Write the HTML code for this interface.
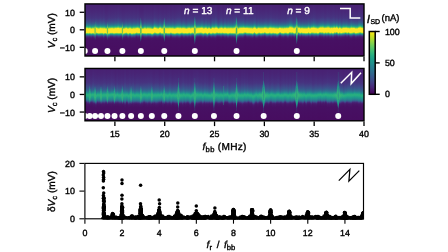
<!DOCTYPE html>
<html><head><meta charset="utf-8"><title>figure</title>
<style>html,body{margin:0;padding:0;background:#fff}svg{display:block}text{font-family:"Liberation Sans",sans-serif;stroke:#000;stroke-width:0.36px;text-rendering:geometricPrecision}</style>
</head><body>
<svg width="448" height="252" viewBox="0 0 448 252">
<defs>
<filter id="nz" x="0" y="0" width="100%" height="100%" color-interpolation-filters="sRGB"><feTurbulence type="fractalNoise" baseFrequency="0.9 0.003" numOctaves="3" seed="7" result="t"/><feColorMatrix in="t" type="matrix" values="0 0 0 0 0.5  0 1 0 0 0  0 0 0 0 0.5  0 0 0 0 1" result="m"/><feDisplacementMap in="SourceGraphic" in2="m" scale="2.4" xChannelSelector="R" yChannelSelector="G"/></filter>
<linearGradient id="g1" gradientUnits="userSpaceOnUse" x1="0" y1="3.90" x2="0" y2="56.00"><stop offset="-0.0058" stop-color="#482173"/><stop offset="0.0787" stop-color="#482475"/><stop offset="0.1555" stop-color="#482979"/><stop offset="0.2131" stop-color="#472e7c"/><stop offset="0.2706" stop-color="#463480"/><stop offset="0.3282" stop-color="#414487"/><stop offset="0.3666" stop-color="#38588c"/><stop offset="0.3954" stop-color="#2e6f8e"/><stop offset="0.4184" stop-color="#228b8d"/><stop offset="0.4376" stop-color="#26ad81"/><stop offset="0.4530" stop-color="#63cb5f"/><stop offset="0.4645" stop-color="#b0dd2f"/><stop offset="0.4760" stop-color="#fde725"/><stop offset="0.5470" stop-color="#fde725"/><stop offset="0.5566" stop-color="#bddf26"/><stop offset="0.5681" stop-color="#58c765"/><stop offset="0.5816" stop-color="#1e9c89"/><stop offset="0.5950" stop-color="#2d718e"/><stop offset="0.6104" stop-color="#3e4989"/><stop offset="0.6276" stop-color="#482878"/><stop offset="0.6507" stop-color="#481769"/><stop offset="0.6929" stop-color="#471063"/><stop offset="0.9923" stop-color="#470d60"/></linearGradient>
<linearGradient id="g2" gradientUnits="userSpaceOnUse" x1="0" y1="68.45" x2="0" y2="120.80"><stop offset="-0.0029" stop-color="#482173"/><stop offset="0.0869" stop-color="#482475"/><stop offset="0.1824" stop-color="#472a7a"/><stop offset="0.2779" stop-color="#463480"/><stop offset="0.3352" stop-color="#414487"/><stop offset="0.3830" stop-color="#3a548c"/><stop offset="0.4212" stop-color="#31678e"/><stop offset="0.4499" stop-color="#287d8e"/><stop offset="0.4728" stop-color="#1f958b"/><stop offset="0.4919" stop-color="#22a884"/><stop offset="0.5072" stop-color="#29af7f"/><stop offset="0.5263" stop-color="#26ad81"/><stop offset="0.5492" stop-color="#1fa188"/><stop offset="0.5740" stop-color="#20928c"/><stop offset="0.5969" stop-color="#26828e"/><stop offset="0.6160" stop-color="#2e6f8e"/><stop offset="0.6313" stop-color="#38588c"/><stop offset="0.6466" stop-color="#443a83"/><stop offset="0.6638" stop-color="#482173"/><stop offset="0.6886" stop-color="#481668"/><stop offset="0.7364" stop-color="#471063"/><stop offset="0.9924" stop-color="#470d60"/></linearGradient>
<linearGradient id="gcb" gradientUnits="userSpaceOnUse" x1="0" y1="31.50" x2="0" y2="94.30"><stop offset="0.0000" stop-color="#fde725"/><stop offset="0.0500" stop-color="#dfe318"/><stop offset="0.1000" stop-color="#bddf26"/><stop offset="0.1500" stop-color="#9bd93c"/><stop offset="0.2000" stop-color="#7ad151"/><stop offset="0.2500" stop-color="#5ec962"/><stop offset="0.3000" stop-color="#44bf70"/><stop offset="0.3500" stop-color="#2fb47c"/><stop offset="0.4000" stop-color="#22a884"/><stop offset="0.4500" stop-color="#1e9c89"/><stop offset="0.5000" stop-color="#21918c"/><stop offset="0.5500" stop-color="#25848e"/><stop offset="0.6000" stop-color="#2a788e"/><stop offset="0.6500" stop-color="#2f6c8e"/><stop offset="0.7000" stop-color="#355f8d"/><stop offset="0.7500" stop-color="#3b528b"/><stop offset="0.8000" stop-color="#414487"/><stop offset="0.8500" stop-color="#463480"/><stop offset="0.9000" stop-color="#482475"/><stop offset="0.9500" stop-color="#471365"/><stop offset="1.0000" stop-color="#440154"/></linearGradient>
<clipPath id="c1"><rect x="85.00" y="3.90" width="279.00" height="52.10"/></clipPath>
<clipPath id="c2"><rect x="85.00" y="68.45" width="279.00" height="52.35"/></clipPath>
<filter id="b1" x="-50%" y="-20%" width="200%" height="140%"><feGaussianBlur stdDeviation="0.45"/></filter>
<linearGradient id="s1" gradientUnits="userSpaceOnUse" x1="0" y1="15.50" x2="0" y2="45.50"><stop offset="0.0000" stop-color="#2a788e" stop-opacity="0.00"/><stop offset="0.0833" stop-color="#21918c" stop-opacity="0.80"/><stop offset="0.2833" stop-color="#22a884" stop-opacity="1.00"/><stop offset="0.4167" stop-color="#9bd93c" stop-opacity="1.00"/><stop offset="0.5833" stop-color="#9bd93c" stop-opacity="1.00"/><stop offset="0.6833" stop-color="#22a884" stop-opacity="1.00"/><stop offset="0.8167" stop-color="#21918c" stop-opacity="0.90"/><stop offset="0.9167" stop-color="#287d8e" stop-opacity="0.70"/><stop offset="1.0000" stop-color="#2f6c8e" stop-opacity="0.00"/></linearGradient>
<linearGradient id="s2" gradientUnits="userSpaceOnUse" x1="0" y1="79.00" x2="0" y2="110.00"><stop offset="0.0000" stop-color="#2c738e" stop-opacity="0.00"/><stop offset="0.0806" stop-color="#25848e" stop-opacity="0.70"/><stop offset="0.2581" stop-color="#1f958b" stop-opacity="0.90"/><stop offset="0.4355" stop-color="#32b67a" stop-opacity="1.00"/><stop offset="0.6290" stop-color="#32b67a" stop-opacity="1.00"/><stop offset="0.7258" stop-color="#20a386" stop-opacity="1.00"/><stop offset="0.8387" stop-color="#21918c" stop-opacity="0.95"/><stop offset="0.9355" stop-color="#287d8e" stop-opacity="0.70"/><stop offset="1.0000" stop-color="#355f8d" stop-opacity="0.00"/></linearGradient>
<radialGradient id="gl2"><stop offset="0" stop-color="#5ec962" stop-opacity="0.55"/><stop offset="0.5" stop-color="#44bf70" stop-opacity="0.25"/><stop offset="1" stop-color="#2fb47c" stop-opacity="0"/></radialGradient>
<linearGradient id="s2s" gradientUnits="userSpaceOnUse" x1="0" y1="84.50" x2="0" y2="105.50"><stop offset="0.0000" stop-color="#2a788e" stop-opacity="0.00"/><stop offset="0.1429" stop-color="#228b8d" stop-opacity="0.55"/><stop offset="0.3333" stop-color="#22a884" stop-opacity="0.90"/><stop offset="0.4667" stop-color="#37b878" stop-opacity="1.00"/><stop offset="0.6429" stop-color="#37b878" stop-opacity="1.00"/><stop offset="0.7619" stop-color="#20a386" stop-opacity="0.90"/><stop offset="0.8810" stop-color="#25848e" stop-opacity="0.60"/><stop offset="1.0000" stop-color="#355f8d" stop-opacity="0.00"/></linearGradient>
<clipPath id="c3"><rect x="84.40" y="163.40" width="279.60" height="55.90"/></clipPath>
</defs>
<rect x="0" y="0" width="448" height="252" fill="#fff"/>
<g clip-path="url(#c1)">
<rect x="85.00" y="3.90" width="279.00" height="52.10" fill="url(#g1)"/>
<rect x="85.00" y="-4.1" width="1.15" height="68.1" fill="url(#g1)" transform="matrix(1 0 0 0.991 0 0.68)"/>
<rect x="86.00" y="-4.1" width="1.15" height="68.1" fill="url(#g1)" transform="matrix(1 0 0 1.025 0 -0.72)"/>
<rect x="87.00" y="-4.1" width="1.15" height="68.1" fill="url(#g1)" transform="matrix(1 0 0 1.025 0 -0.77)"/>
<rect x="88.00" y="-4.1" width="1.15" height="68.1" fill="url(#g1)" transform="matrix(1 0 0 1.007 0 0.00)"/>
<rect x="89.00" y="-4.1" width="1.15" height="68.1" fill="url(#g1)" transform="matrix(1 0 0 1.006 0 -0.17)"/>
<rect x="90.00" y="-4.1" width="1.15" height="68.1" fill="url(#g1)" transform="matrix(1 0 0 1.005 0 -0.00)"/>
<rect x="91.00" y="-4.1" width="1.15" height="68.1" fill="url(#g1)" transform="matrix(1 0 0 0.977 0 1.12)"/>
<rect x="92.00" y="-4.1" width="1.15" height="68.1" fill="url(#g1)" transform="matrix(1 0 0 0.974 0 0.95)"/>
<rect x="93.00" y="-4.1" width="1.15" height="68.1" fill="url(#g1)" transform="matrix(1 0 0 0.997 0 0.33)"/>
<rect x="94.00" y="-4.1" width="1.15" height="68.1" fill="url(#g1)" transform="matrix(1 0 0 0.994 0 0.62)"/>
<rect x="95.00" y="-4.1" width="1.15" height="68.1" fill="url(#g1)" transform="matrix(1 0 0 1.011 0 -0.20)"/>
<rect x="96.00" y="-4.1" width="1.15" height="68.1" fill="url(#g1)" transform="matrix(1 0 0 0.995 0 -0.03)"/>
<rect x="97.00" y="-4.1" width="1.15" height="68.1" fill="url(#g1)" transform="matrix(1 0 0 0.981 0 0.69)"/>
<rect x="98.00" y="-4.1" width="1.15" height="68.1" fill="url(#g1)" transform="matrix(1 0 0 0.990 0 0.64)"/>
<rect x="99.00" y="-4.1" width="1.15" height="68.1" fill="url(#g1)" transform="matrix(1 0 0 1.003 0 0.14)"/>
<rect x="100.00" y="-4.1" width="1.15" height="68.1" fill="url(#g1)" transform="matrix(1 0 0 1.030 0 -0.91)"/>
<rect x="101.00" y="-4.1" width="1.15" height="68.1" fill="url(#g1)" transform="matrix(1 0 0 0.996 0 0.17)"/>
<rect x="102.00" y="-4.1" width="1.15" height="68.1" fill="url(#g1)" transform="matrix(1 0 0 0.991 0 0.36)"/>
<rect x="103.00" y="-4.1" width="1.15" height="68.1" fill="url(#g1)" transform="matrix(1 0 0 1.066 0 -1.70)"/>
<rect x="104.00" y="-4.1" width="1.15" height="68.1" fill="url(#g1)" transform="matrix(1 0 0 1.015 0 -0.32)"/>
<rect x="105.00" y="-4.1" width="1.15" height="68.1" fill="url(#g1)" transform="matrix(1 0 0 0.942 0 1.98)"/>
<rect x="106.00" y="-4.1" width="1.15" height="68.1" fill="url(#g1)" transform="matrix(1 0 0 0.957 0 1.86)"/>
<rect x="107.00" y="-4.1" width="1.15" height="68.1" fill="url(#g1)" transform="matrix(1 0 0 0.971 0 1.33)"/>
<rect x="108.00" y="-4.1" width="1.15" height="68.1" fill="url(#g1)" transform="matrix(1 0 0 1.034 0 -0.58)"/>
<rect x="109.00" y="-4.1" width="1.15" height="68.1" fill="url(#g1)" transform="matrix(1 0 0 1.041 0 -1.00)"/>
<rect x="110.00" y="-4.1" width="1.15" height="68.1" fill="url(#g1)" transform="matrix(1 0 0 0.983 0 0.59)"/>
<rect x="111.00" y="-4.1" width="1.15" height="68.1" fill="url(#g1)" transform="matrix(1 0 0 0.998 0 0.08)"/>
<rect x="112.00" y="-4.1" width="1.15" height="68.1" fill="url(#g1)" transform="matrix(1 0 0 1.001 0 -0.02)"/>
<rect x="113.00" y="-4.1" width="1.15" height="68.1" fill="url(#g1)" transform="matrix(1 0 0 1.013 0 -0.16)"/>
<rect x="114.00" y="-4.1" width="1.15" height="68.1" fill="url(#g1)" transform="matrix(1 0 0 1.036 0 -0.92)"/>
<rect x="115.00" y="-4.1" width="1.15" height="68.1" fill="url(#g1)" transform="matrix(1 0 0 1.042 0 -1.28)"/>
<rect x="116.00" y="-4.1" width="1.15" height="68.1" fill="url(#g1)" transform="matrix(1 0 0 1.018 0 -0.54)"/>
<rect x="117.00" y="-4.1" width="1.15" height="68.1" fill="url(#g1)" transform="matrix(1 0 0 1.059 0 -1.87)"/>
<rect x="118.00" y="-4.1" width="1.15" height="68.1" fill="url(#g1)" transform="matrix(1 0 0 1.096 0 -3.01)"/>
<rect x="119.00" y="-4.1" width="1.15" height="68.1" fill="url(#g1)" transform="matrix(1 0 0 1.037 0 -1.05)"/>
<rect x="120.00" y="-4.1" width="1.15" height="68.1" fill="url(#g1)" transform="matrix(1 0 0 1.015 0 -0.46)"/>
<rect x="121.00" y="-4.1" width="1.15" height="68.1" fill="url(#g1)" transform="matrix(1 0 0 0.981 0 0.63)"/>
<rect x="122.00" y="-4.1" width="1.15" height="68.1" fill="url(#g1)" transform="matrix(1 0 0 0.960 0 1.72)"/>
<rect x="123.00" y="-4.1" width="1.15" height="68.1" fill="url(#g1)" transform="matrix(1 0 0 0.975 0 1.35)"/>
<rect x="124.00" y="-4.1" width="1.15" height="68.1" fill="url(#g1)" transform="matrix(1 0 0 0.977 0 0.98)"/>
<rect x="125.00" y="-4.1" width="1.15" height="68.1" fill="url(#g1)" transform="matrix(1 0 0 0.987 0 0.39)"/>
<rect x="126.00" y="-4.1" width="1.15" height="68.1" fill="url(#g1)" transform="matrix(1 0 0 0.986 0 0.31)"/>
<rect x="127.00" y="-4.1" width="1.15" height="68.1" fill="url(#g1)" transform="matrix(1 0 0 0.995 0 0.49)"/>
<rect x="128.00" y="-4.1" width="1.15" height="68.1" fill="url(#g1)" transform="matrix(1 0 0 1.039 0 -0.74)"/>
<rect x="129.00" y="-4.1" width="1.15" height="68.1" fill="url(#g1)" transform="matrix(1 0 0 1.006 0 -0.12)"/>
<rect x="130.00" y="-4.1" width="1.15" height="68.1" fill="url(#g1)" transform="matrix(1 0 0 1.012 0 -0.28)"/>
<rect x="131.00" y="-4.1" width="1.15" height="68.1" fill="url(#g1)" transform="matrix(1 0 0 1.024 0 -0.17)"/>
<rect x="132.00" y="-4.1" width="1.15" height="68.1" fill="url(#g1)" transform="matrix(1 0 0 1.023 0 -0.16)"/>
<rect x="133.00" y="-4.1" width="1.15" height="68.1" fill="url(#g1)" transform="matrix(1 0 0 1.040 0 -0.93)"/>
<rect x="134.00" y="-4.1" width="1.15" height="68.1" fill="url(#g1)" transform="matrix(1 0 0 1.039 0 -0.87)"/>
<rect x="135.00" y="-4.1" width="1.15" height="68.1" fill="url(#g1)" transform="matrix(1 0 0 1.003 0 0.06)"/>
<rect x="136.00" y="-4.1" width="1.15" height="68.1" fill="url(#g1)" transform="matrix(1 0 0 0.972 0 0.75)"/>
<rect x="137.00" y="-4.1" width="1.15" height="68.1" fill="url(#g1)" transform="matrix(1 0 0 1.034 0 -1.12)"/>
<rect x="138.00" y="-4.1" width="1.15" height="68.1" fill="url(#g1)" transform="matrix(1 0 0 1.021 0 -0.57)"/>
<rect x="139.00" y="-4.1" width="1.15" height="68.1" fill="url(#g1)" transform="matrix(1 0 0 0.934 0 2.24)"/>
<rect x="140.00" y="-4.1" width="1.15" height="68.1" fill="url(#g1)" transform="matrix(1 0 0 0.901 0 3.43)"/>
<rect x="141.00" y="-4.1" width="1.15" height="68.1" fill="url(#g1)" transform="matrix(1 0 0 0.889 0 3.84)"/>
<rect x="142.00" y="-4.1" width="1.15" height="68.1" fill="url(#g1)" transform="matrix(1 0 0 0.884 0 3.88)"/>
<rect x="143.00" y="-4.1" width="1.15" height="68.1" fill="url(#g1)" transform="matrix(1 0 0 0.937 0 2.27)"/>
<rect x="144.00" y="-4.1" width="1.15" height="68.1" fill="url(#g1)" transform="matrix(1 0 0 1.022 0 -0.49)"/>
<rect x="145.00" y="-4.1" width="1.15" height="68.1" fill="url(#g1)" transform="matrix(1 0 0 1.021 0 -0.41)"/>
<rect x="146.00" y="-4.1" width="1.15" height="68.1" fill="url(#g1)" transform="matrix(1 0 0 0.997 0 0.53)"/>
<rect x="147.00" y="-4.1" width="1.15" height="68.1" fill="url(#g1)" transform="matrix(1 0 0 1.005 0 0.01)"/>
<rect x="148.00" y="-4.1" width="1.15" height="68.1" fill="url(#g1)" transform="matrix(1 0 0 0.997 0 0.25)"/>
<rect x="149.00" y="-4.1" width="1.15" height="68.1" fill="url(#g1)" transform="matrix(1 0 0 0.996 0 0.33)"/>
<rect x="150.00" y="-4.1" width="1.15" height="68.1" fill="url(#g1)" transform="matrix(1 0 0 0.991 0 0.57)"/>
<rect x="151.00" y="-4.1" width="1.15" height="68.1" fill="url(#g1)" transform="matrix(1 0 0 1.007 0 0.36)"/>
<rect x="152.00" y="-4.1" width="1.15" height="68.1" fill="url(#g1)" transform="matrix(1 0 0 0.982 0 1.30)"/>
<rect x="153.00" y="-4.1" width="1.15" height="68.1" fill="url(#g1)" transform="matrix(1 0 0 0.996 0 0.39)"/>
<rect x="154.00" y="-4.1" width="1.15" height="68.1" fill="url(#g1)" transform="matrix(1 0 0 1.048 0 -1.83)"/>
<rect x="155.00" y="-4.1" width="1.15" height="68.1" fill="url(#g1)" transform="matrix(1 0 0 1.018 0 -0.76)"/>
<rect x="156.00" y="-4.1" width="1.15" height="68.1" fill="url(#g1)" transform="matrix(1 0 0 1.015 0 -0.40)"/>
<rect x="157.00" y="-4.1" width="1.15" height="68.1" fill="url(#g1)" transform="matrix(1 0 0 1.003 0 0.22)"/>
<rect x="158.00" y="-4.1" width="1.15" height="68.1" fill="url(#g1)" transform="matrix(1 0 0 0.969 0 1.26)"/>
<rect x="159.00" y="-4.1" width="1.15" height="68.1" fill="url(#g1)" transform="matrix(1 0 0 0.990 0 0.12)"/>
<rect x="160.00" y="-4.1" width="1.15" height="68.1" fill="url(#g1)" transform="matrix(1 0 0 0.999 0 -0.25)"/>
<rect x="161.00" y="-4.1" width="1.15" height="68.1" fill="url(#g1)" transform="matrix(1 0 0 0.984 0 0.69)"/>
<rect x="162.00" y="-4.1" width="1.15" height="68.1" fill="url(#g1)" transform="matrix(1 0 0 0.972 0 1.15)"/>
<rect x="163.00" y="-4.1" width="1.15" height="68.1" fill="url(#g1)" transform="matrix(1 0 0 0.969 0 1.22)"/>
<rect x="164.00" y="-4.1" width="1.15" height="68.1" fill="url(#g1)" transform="matrix(1 0 0 1.010 0 -0.09)"/>
<rect x="165.00" y="-4.1" width="1.15" height="68.1" fill="url(#g1)" transform="matrix(1 0 0 0.975 0 0.80)"/>
<rect x="166.00" y="-4.1" width="1.15" height="68.1" fill="url(#g1)" transform="matrix(1 0 0 0.960 0 1.32)"/>
<rect x="167.00" y="-4.1" width="1.15" height="68.1" fill="url(#g1)" transform="matrix(1 0 0 1.003 0 0.12)"/>
<rect x="168.00" y="-4.1" width="1.15" height="68.1" fill="url(#g1)" transform="matrix(1 0 0 1.012 0 -0.17)"/>
<rect x="169.00" y="-4.1" width="1.15" height="68.1" fill="url(#g1)" transform="matrix(1 0 0 1.031 0 -0.79)"/>
<rect x="170.00" y="-4.1" width="1.15" height="68.1" fill="url(#g1)" transform="matrix(1 0 0 0.943 0 1.73)"/>
<rect x="171.00" y="-4.1" width="1.15" height="68.1" fill="url(#g1)" transform="matrix(1 0 0 0.945 0 1.72)"/>
<rect x="172.00" y="-4.1" width="1.15" height="68.1" fill="url(#g1)" transform="matrix(1 0 0 1.023 0 -0.51)"/>
<rect x="173.00" y="-4.1" width="1.15" height="68.1" fill="url(#g1)" transform="matrix(1 0 0 1.009 0 0.04)"/>
<rect x="174.00" y="-4.1" width="1.15" height="68.1" fill="url(#g1)" transform="matrix(1 0 0 0.989 0 0.82)"/>
<rect x="175.00" y="-4.1" width="1.15" height="68.1" fill="url(#g1)" transform="matrix(1 0 0 1.010 0 0.03)"/>
<rect x="176.00" y="-4.1" width="1.15" height="68.1" fill="url(#g1)" transform="matrix(1 0 0 1.011 0 -0.28)"/>
<rect x="177.00" y="-4.1" width="1.15" height="68.1" fill="url(#g1)" transform="matrix(1 0 0 1.036 0 -1.17)"/>
<rect x="178.00" y="-4.1" width="1.15" height="68.1" fill="url(#g1)" transform="matrix(1 0 0 1.060 0 -1.78)"/>
<rect x="179.00" y="-4.1" width="1.15" height="68.1" fill="url(#g1)" transform="matrix(1 0 0 1.068 0 -1.89)"/>
<rect x="180.00" y="-4.1" width="1.15" height="68.1" fill="url(#g1)" transform="matrix(1 0 0 1.034 0 -1.00)"/>
<rect x="181.00" y="-4.1" width="1.15" height="68.1" fill="url(#g1)" transform="matrix(1 0 0 0.936 0 1.97)"/>
<rect x="182.00" y="-4.1" width="1.15" height="68.1" fill="url(#g1)" transform="matrix(1 0 0 0.974 0 0.77)"/>
<rect x="183.00" y="-4.1" width="1.15" height="68.1" fill="url(#g1)" transform="matrix(1 0 0 1.039 0 -1.11)"/>
<rect x="184.00" y="-4.1" width="1.15" height="68.1" fill="url(#g1)" transform="matrix(1 0 0 1.022 0 -0.56)"/>
<rect x="185.00" y="-4.1" width="1.15" height="68.1" fill="url(#g1)" transform="matrix(1 0 0 0.962 0 1.35)"/>
<rect x="186.00" y="-4.1" width="1.15" height="68.1" fill="url(#g1)" transform="matrix(1 0 0 0.950 0 1.86)"/>
<rect x="187.00" y="-4.1" width="1.15" height="68.1" fill="url(#g1)" transform="matrix(1 0 0 1.004 0 0.11)"/>
<rect x="188.00" y="-4.1" width="1.15" height="68.1" fill="url(#g1)" transform="matrix(1 0 0 1.011 0 -0.35)"/>
<rect x="189.00" y="-4.1" width="1.15" height="68.1" fill="url(#g1)" transform="matrix(1 0 0 0.992 0 0.14)"/>
<rect x="190.00" y="-4.1" width="1.15" height="68.1" fill="url(#g1)" transform="matrix(1 0 0 0.993 0 0.44)"/>
<rect x="191.00" y="-4.1" width="1.15" height="68.1" fill="url(#g1)" transform="matrix(1 0 0 0.972 0 0.87)"/>
<rect x="192.00" y="-4.1" width="1.15" height="68.1" fill="url(#g1)" transform="matrix(1 0 0 0.963 0 0.97)"/>
<rect x="193.00" y="-4.1" width="1.15" height="68.1" fill="url(#g1)" transform="matrix(1 0 0 0.951 0 1.51)"/>
<rect x="194.00" y="-4.1" width="1.15" height="68.1" fill="url(#g1)" transform="matrix(1 0 0 1.009 0 -0.43)"/>
<rect x="195.00" y="-4.1" width="1.15" height="68.1" fill="url(#g1)" transform="matrix(1 0 0 1.032 0 -1.11)"/>
<rect x="196.00" y="-4.1" width="1.15" height="68.1" fill="url(#g1)" transform="matrix(1 0 0 1.000 0 0.25)"/>
<rect x="197.00" y="-4.1" width="1.15" height="68.1" fill="url(#g1)" transform="matrix(1 0 0 0.986 0 0.46)"/>
<rect x="198.00" y="-4.1" width="1.15" height="68.1" fill="url(#g1)" transform="matrix(1 0 0 0.994 0 0.13)"/>
<rect x="199.00" y="-4.1" width="1.15" height="68.1" fill="url(#g1)" transform="matrix(1 0 0 0.973 0 0.71)"/>
<rect x="200.00" y="-4.1" width="1.15" height="68.1" fill="url(#g1)" transform="matrix(1 0 0 0.976 0 0.54)"/>
<rect x="201.00" y="-4.1" width="1.15" height="68.1" fill="url(#g1)" transform="matrix(1 0 0 1.022 0 -0.91)"/>
<rect x="202.00" y="-4.1" width="1.15" height="68.1" fill="url(#g1)" transform="matrix(1 0 0 1.052 0 -1.63)"/>
<rect x="203.00" y="-4.1" width="1.15" height="68.1" fill="url(#g1)" transform="matrix(1 0 0 1.020 0 -0.32)"/>
<rect x="204.00" y="-4.1" width="1.15" height="68.1" fill="url(#g1)" transform="matrix(1 0 0 0.969 0 1.04)"/>
<rect x="205.00" y="-4.1" width="1.15" height="68.1" fill="url(#g1)" transform="matrix(1 0 0 1.011 0 -0.44)"/>
<rect x="206.00" y="-4.1" width="1.15" height="68.1" fill="url(#g1)" transform="matrix(1 0 0 1.040 0 -1.10)"/>
<rect x="207.00" y="-4.1" width="1.15" height="68.1" fill="url(#g1)" transform="matrix(1 0 0 1.020 0 -0.04)"/>
<rect x="208.00" y="-4.1" width="1.15" height="68.1" fill="url(#g1)" transform="matrix(1 0 0 0.992 0 0.30)"/>
<rect x="209.00" y="-4.1" width="1.15" height="68.1" fill="url(#g1)" transform="matrix(1 0 0 0.949 0 1.49)"/>
<rect x="210.00" y="-4.1" width="1.15" height="68.1" fill="url(#g1)" transform="matrix(1 0 0 0.926 0 2.78)"/>
<rect x="211.00" y="-4.1" width="1.15" height="68.1" fill="url(#g1)" transform="matrix(1 0 0 0.991 0 0.65)"/>
<rect x="212.00" y="-4.1" width="1.15" height="68.1" fill="url(#g1)" transform="matrix(1 0 0 1.039 0 -1.31)"/>
<rect x="213.00" y="-4.1" width="1.15" height="68.1" fill="url(#g1)" transform="matrix(1 0 0 1.021 0 -0.66)"/>
<rect x="214.00" y="-4.1" width="1.15" height="68.1" fill="url(#g1)" transform="matrix(1 0 0 1.044 0 -1.22)"/>
<rect x="215.00" y="-4.1" width="1.15" height="68.1" fill="url(#g1)" transform="matrix(1 0 0 1.095 0 -3.03)"/>
<rect x="216.00" y="-4.1" width="1.15" height="68.1" fill="url(#g1)" transform="matrix(1 0 0 1.042 0 -1.59)"/>
<rect x="217.00" y="-4.1" width="1.15" height="68.1" fill="url(#g1)" transform="matrix(1 0 0 0.938 0 1.79)"/>
<rect x="218.00" y="-4.1" width="1.15" height="68.1" fill="url(#g1)" transform="matrix(1 0 0 0.895 0 3.43)"/>
<rect x="219.00" y="-4.1" width="1.15" height="68.1" fill="url(#g1)" transform="matrix(1 0 0 0.936 0 1.99)"/>
<rect x="220.00" y="-4.1" width="1.15" height="68.1" fill="url(#g1)" transform="matrix(1 0 0 1.008 0 -0.27)"/>
<rect x="221.00" y="-4.1" width="1.15" height="68.1" fill="url(#g1)" transform="matrix(1 0 0 1.036 0 -1.19)"/>
<rect x="222.00" y="-4.1" width="1.15" height="68.1" fill="url(#g1)" transform="matrix(1 0 0 0.955 0 1.31)"/>
<rect x="223.00" y="-4.1" width="1.15" height="68.1" fill="url(#g1)" transform="matrix(1 0 0 0.942 0 1.92)"/>
<rect x="224.00" y="-4.1" width="1.15" height="68.1" fill="url(#g1)" transform="matrix(1 0 0 1.035 0 -1.08)"/>
<rect x="225.00" y="-4.1" width="1.15" height="68.1" fill="url(#g1)" transform="matrix(1 0 0 1.031 0 -0.99)"/>
<rect x="226.00" y="-4.1" width="1.15" height="68.1" fill="url(#g1)" transform="matrix(1 0 0 0.972 0 0.98)"/>
<rect x="227.00" y="-4.1" width="1.15" height="68.1" fill="url(#g1)" transform="matrix(1 0 0 1.033 0 -0.73)"/>
<rect x="228.00" y="-4.1" width="1.15" height="68.1" fill="url(#g1)" transform="matrix(1 0 0 1.053 0 -1.40)"/>
<rect x="229.00" y="-4.1" width="1.15" height="68.1" fill="url(#g1)" transform="matrix(1 0 0 0.989 0 0.43)"/>
<rect x="230.00" y="-4.1" width="1.15" height="68.1" fill="url(#g1)" transform="matrix(1 0 0 0.997 0 0.12)"/>
<rect x="231.00" y="-4.1" width="1.15" height="68.1" fill="url(#g1)" transform="matrix(1 0 0 1.009 0 -0.17)"/>
<rect x="232.00" y="-4.1" width="1.15" height="68.1" fill="url(#g1)" transform="matrix(1 0 0 0.990 0 0.44)"/>
<rect x="233.00" y="-4.1" width="1.15" height="68.1" fill="url(#g1)" transform="matrix(1 0 0 1.019 0 -0.45)"/>
<rect x="234.00" y="-4.1" width="1.15" height="68.1" fill="url(#g1)" transform="matrix(1 0 0 1.058 0 -1.73)"/>
<rect x="235.00" y="-4.1" width="1.15" height="68.1" fill="url(#g1)" transform="matrix(1 0 0 1.049 0 -1.97)"/>
<rect x="236.00" y="-4.1" width="1.15" height="68.1" fill="url(#g1)" transform="matrix(1 0 0 1.018 0 -0.82)"/>
<rect x="237.00" y="-4.1" width="1.15" height="68.1" fill="url(#g1)" transform="matrix(1 0 0 1.026 0 -0.27)"/>
<rect x="238.00" y="-4.1" width="1.15" height="68.1" fill="url(#g1)" transform="matrix(1 0 0 1.027 0 -0.42)"/>
<rect x="239.00" y="-4.1" width="1.15" height="68.1" fill="url(#g1)" transform="matrix(1 0 0 1.010 0 -0.29)"/>
<rect x="240.00" y="-4.1" width="1.15" height="68.1" fill="url(#g1)" transform="matrix(1 0 0 1.038 0 -1.21)"/>
<rect x="241.00" y="-4.1" width="1.15" height="68.1" fill="url(#g1)" transform="matrix(1 0 0 1.046 0 -1.48)"/>
<rect x="242.00" y="-4.1" width="1.15" height="68.1" fill="url(#g1)" transform="matrix(1 0 0 1.065 0 -2.03)"/>
<rect x="243.00" y="-4.1" width="1.15" height="68.1" fill="url(#g1)" transform="matrix(1 0 0 1.056 0 -1.93)"/>
<rect x="244.00" y="-4.1" width="1.15" height="68.1" fill="url(#g1)" transform="matrix(1 0 0 0.969 0 0.63)"/>
<rect x="245.00" y="-4.1" width="1.15" height="68.1" fill="url(#g1)" transform="matrix(1 0 0 0.929 0 1.88)"/>
<rect x="246.00" y="-4.1" width="1.15" height="68.1" fill="url(#g1)" transform="matrix(1 0 0 1.005 0 -0.31)"/>
<rect x="247.00" y="-4.1" width="1.15" height="68.1" fill="url(#g1)" transform="matrix(1 0 0 1.025 0 -0.83)"/>
<rect x="248.00" y="-4.1" width="1.15" height="68.1" fill="url(#g1)" transform="matrix(1 0 0 1.001 0 -0.05)"/>
<rect x="249.00" y="-4.1" width="1.15" height="68.1" fill="url(#g1)" transform="matrix(1 0 0 0.988 0 0.36)"/>
<rect x="250.00" y="-4.1" width="1.15" height="68.1" fill="url(#g1)" transform="matrix(1 0 0 1.004 0 -0.02)"/>
<rect x="251.00" y="-4.1" width="1.15" height="68.1" fill="url(#g1)" transform="matrix(1 0 0 1.015 0 -0.31)"/>
<rect x="252.00" y="-4.1" width="1.15" height="68.1" fill="url(#g1)" transform="matrix(1 0 0 1.027 0 -0.46)"/>
<rect x="253.00" y="-4.1" width="1.15" height="68.1" fill="url(#g1)" transform="matrix(1 0 0 1.023 0 -0.71)"/>
<rect x="254.00" y="-4.1" width="1.15" height="68.1" fill="url(#g1)" transform="matrix(1 0 0 1.015 0 -0.93)"/>
<rect x="255.00" y="-4.1" width="1.15" height="68.1" fill="url(#g1)" transform="matrix(1 0 0 1.045 0 -1.38)"/>
<rect x="256.00" y="-4.1" width="1.15" height="68.1" fill="url(#g1)" transform="matrix(1 0 0 0.999 0 0.56)"/>
<rect x="257.00" y="-4.1" width="1.15" height="68.1" fill="url(#g1)" transform="matrix(1 0 0 1.009 0 0.04)"/>
<rect x="258.00" y="-4.1" width="1.15" height="68.1" fill="url(#g1)" transform="matrix(1 0 0 1.005 0 -0.25)"/>
<rect x="259.00" y="-4.1" width="1.15" height="68.1" fill="url(#g1)" transform="matrix(1 0 0 0.957 0 1.22)"/>
<rect x="260.00" y="-4.1" width="1.15" height="68.1" fill="url(#g1)" transform="matrix(1 0 0 0.997 0 0.20)"/>
<rect x="261.00" y="-4.1" width="1.15" height="68.1" fill="url(#g1)" transform="matrix(1 0 0 1.002 0 0.04)"/>
<rect x="262.00" y="-4.1" width="1.15" height="68.1" fill="url(#g1)" transform="matrix(1 0 0 0.970 0 0.93)"/>
<rect x="263.00" y="-4.1" width="1.15" height="68.1" fill="url(#g1)" transform="matrix(1 0 0 0.977 0 0.71)"/>
<rect x="264.00" y="-4.1" width="1.15" height="68.1" fill="url(#g1)" transform="matrix(1 0 0 0.966 0 0.68)"/>
<rect x="265.00" y="-4.1" width="1.15" height="68.1" fill="url(#g1)" transform="matrix(1 0 0 1.001 0 -0.27)"/>
<rect x="266.00" y="-4.1" width="1.15" height="68.1" fill="url(#g1)" transform="matrix(1 0 0 1.041 0 -1.20)"/>
<rect x="267.00" y="-4.1" width="1.15" height="68.1" fill="url(#g1)" transform="matrix(1 0 0 1.013 0 -0.18)"/>
<rect x="268.00" y="-4.1" width="1.15" height="68.1" fill="url(#g1)" transform="matrix(1 0 0 0.996 0 0.26)"/>
<rect x="269.00" y="-4.1" width="1.15" height="68.1" fill="url(#g1)" transform="matrix(1 0 0 1.009 0 -0.46)"/>
<rect x="270.00" y="-4.1" width="1.15" height="68.1" fill="url(#g1)" transform="matrix(1 0 0 1.055 0 -1.78)"/>
<rect x="271.00" y="-4.1" width="1.15" height="68.1" fill="url(#g1)" transform="matrix(1 0 0 1.066 0 -1.96)"/>
<rect x="272.00" y="-4.1" width="1.15" height="68.1" fill="url(#g1)" transform="matrix(1 0 0 1.009 0 -0.27)"/>
<rect x="273.00" y="-4.1" width="1.15" height="68.1" fill="url(#g1)" transform="matrix(1 0 0 1.007 0 -0.26)"/>
<rect x="274.00" y="-4.1" width="1.15" height="68.1" fill="url(#g1)" transform="matrix(1 0 0 1.016 0 -0.41)"/>
<rect x="275.00" y="-4.1" width="1.15" height="68.1" fill="url(#g1)" transform="matrix(1 0 0 0.992 0 0.41)"/>
<rect x="276.00" y="-4.1" width="1.15" height="68.1" fill="url(#g1)" transform="matrix(1 0 0 1.042 0 -0.98)"/>
<rect x="277.00" y="-4.1" width="1.15" height="68.1" fill="url(#g1)" transform="matrix(1 0 0 1.036 0 -0.69)"/>
<rect x="278.00" y="-4.1" width="1.15" height="68.1" fill="url(#g1)" transform="matrix(1 0 0 0.978 0 0.89)"/>
<rect x="279.00" y="-4.1" width="1.15" height="68.1" fill="url(#g1)" transform="matrix(1 0 0 0.939 0 1.59)"/>
<rect x="280.00" y="-4.1" width="1.15" height="68.1" fill="url(#g1)" transform="matrix(1 0 0 0.916 0 2.29)"/>
<rect x="281.00" y="-4.1" width="1.15" height="68.1" fill="url(#g1)" transform="matrix(1 0 0 0.976 0 0.80)"/>
<rect x="282.00" y="-4.1" width="1.15" height="68.1" fill="url(#g1)" transform="matrix(1 0 0 0.994 0 0.29)"/>
<rect x="283.00" y="-4.1" width="1.15" height="68.1" fill="url(#g1)" transform="matrix(1 0 0 0.996 0 0.35)"/>
<rect x="284.00" y="-4.1" width="1.15" height="68.1" fill="url(#g1)" transform="matrix(1 0 0 0.985 0 0.46)"/>
<rect x="285.00" y="-4.1" width="1.15" height="68.1" fill="url(#g1)" transform="matrix(1 0 0 0.953 0 1.40)"/>
<rect x="286.00" y="-4.1" width="1.15" height="68.1" fill="url(#g1)" transform="matrix(1 0 0 0.998 0 0.00)"/>
<rect x="287.00" y="-4.1" width="1.15" height="68.1" fill="url(#g1)" transform="matrix(1 0 0 1.053 0 -1.50)"/>
<rect x="288.00" y="-4.1" width="1.15" height="68.1" fill="url(#g1)" transform="matrix(1 0 0 1.051 0 -1.57)"/>
<rect x="289.00" y="-4.1" width="1.15" height="68.1" fill="url(#g1)" transform="matrix(1 0 0 1.045 0 -2.00)"/>
<rect x="290.00" y="-4.1" width="1.15" height="68.1" fill="url(#g1)" transform="matrix(1 0 0 1.073 0 -2.91)"/>
<rect x="291.00" y="-4.1" width="1.15" height="68.1" fill="url(#g1)" transform="matrix(1 0 0 1.069 0 -2.64)"/>
<rect x="292.00" y="-4.1" width="1.15" height="68.1" fill="url(#g1)" transform="matrix(1 0 0 1.003 0 -0.55)"/>
<rect x="293.00" y="-4.1" width="1.15" height="68.1" fill="url(#g1)" transform="matrix(1 0 0 0.974 0 0.80)"/>
<rect x="294.00" y="-4.1" width="1.15" height="68.1" fill="url(#g1)" transform="matrix(1 0 0 1.013 0 -0.25)"/>
<rect x="295.00" y="-4.1" width="1.15" height="68.1" fill="url(#g1)" transform="matrix(1 0 0 1.005 0 -0.57)"/>
<rect x="296.00" y="-4.1" width="1.15" height="68.1" fill="url(#g1)" transform="matrix(1 0 0 1.001 0 -0.20)"/>
<rect x="297.00" y="-4.1" width="1.15" height="68.1" fill="url(#g1)" transform="matrix(1 0 0 0.972 0 0.82)"/>
<rect x="298.00" y="-4.1" width="1.15" height="68.1" fill="url(#g1)" transform="matrix(1 0 0 0.940 0 1.40)"/>
<rect x="299.00" y="-4.1" width="1.15" height="68.1" fill="url(#g1)" transform="matrix(1 0 0 0.993 0 0.03)"/>
<rect x="300.00" y="-4.1" width="1.15" height="68.1" fill="url(#g1)" transform="matrix(1 0 0 0.957 0 1.42)"/>
<rect x="301.00" y="-4.1" width="1.15" height="68.1" fill="url(#g1)" transform="matrix(1 0 0 0.916 0 2.45)"/>
<rect x="302.00" y="-4.1" width="1.15" height="68.1" fill="url(#g1)" transform="matrix(1 0 0 0.972 0 0.88)"/>
<rect x="303.00" y="-4.1" width="1.15" height="68.1" fill="url(#g1)" transform="matrix(1 0 0 0.957 0 1.44)"/>
<rect x="304.00" y="-4.1" width="1.15" height="68.1" fill="url(#g1)" transform="matrix(1 0 0 0.958 0 1.42)"/>
<rect x="305.00" y="-4.1" width="1.15" height="68.1" fill="url(#g1)" transform="matrix(1 0 0 0.981 0 0.78)"/>
<rect x="306.00" y="-4.1" width="1.15" height="68.1" fill="url(#g1)" transform="matrix(1 0 0 0.973 0 1.03)"/>
<rect x="307.00" y="-4.1" width="1.15" height="68.1" fill="url(#g1)" transform="matrix(1 0 0 0.986 0 0.55)"/>
<rect x="308.00" y="-4.1" width="1.15" height="68.1" fill="url(#g1)" transform="matrix(1 0 0 0.998 0 -0.28)"/>
<rect x="309.00" y="-4.1" width="1.15" height="68.1" fill="url(#g1)" transform="matrix(1 0 0 0.991 0 0.34)"/>
<rect x="310.00" y="-4.1" width="1.15" height="68.1" fill="url(#g1)" transform="matrix(1 0 0 0.988 0 0.53)"/>
<rect x="311.00" y="-4.1" width="1.15" height="68.1" fill="url(#g1)" transform="matrix(1 0 0 0.987 0 0.11)"/>
<rect x="312.00" y="-4.1" width="1.15" height="68.1" fill="url(#g1)" transform="matrix(1 0 0 0.999 0 -0.27)"/>
<rect x="313.00" y="-4.1" width="1.15" height="68.1" fill="url(#g1)" transform="matrix(1 0 0 1.056 0 -2.03)"/>
<rect x="314.00" y="-4.1" width="1.15" height="68.1" fill="url(#g1)" transform="matrix(1 0 0 1.047 0 -1.60)"/>
<rect x="315.00" y="-4.1" width="1.15" height="68.1" fill="url(#g1)" transform="matrix(1 0 0 1.009 0 -0.37)"/>
<rect x="316.00" y="-4.1" width="1.15" height="68.1" fill="url(#g1)" transform="matrix(1 0 0 0.975 0 0.74)"/>
<rect x="317.00" y="-4.1" width="1.15" height="68.1" fill="url(#g1)" transform="matrix(1 0 0 0.988 0 0.61)"/>
<rect x="318.00" y="-4.1" width="1.15" height="68.1" fill="url(#g1)" transform="matrix(1 0 0 0.998 0 0.16)"/>
<rect x="319.00" y="-4.1" width="1.15" height="68.1" fill="url(#g1)" transform="matrix(1 0 0 0.961 0 0.80)"/>
<rect x="320.00" y="-4.1" width="1.15" height="68.1" fill="url(#g1)" transform="matrix(1 0 0 0.994 0 -0.39)"/>
<rect x="321.00" y="-4.1" width="1.15" height="68.1" fill="url(#g1)" transform="matrix(1 0 0 1.018 0 -1.05)"/>
<rect x="322.00" y="-4.1" width="1.15" height="68.1" fill="url(#g1)" transform="matrix(1 0 0 1.032 0 -1.55)"/>
<rect x="323.00" y="-4.1" width="1.15" height="68.1" fill="url(#g1)" transform="matrix(1 0 0 1.064 0 -2.26)"/>
<rect x="324.00" y="-4.1" width="1.15" height="68.1" fill="url(#g1)" transform="matrix(1 0 0 1.023 0 -0.81)"/>
<rect x="325.00" y="-4.1" width="1.15" height="68.1" fill="url(#g1)" transform="matrix(1 0 0 0.990 0 -0.00)"/>
<rect x="326.00" y="-4.1" width="1.15" height="68.1" fill="url(#g1)" transform="matrix(1 0 0 1.047 0 -1.67)"/>
<rect x="327.00" y="-4.1" width="1.15" height="68.1" fill="url(#g1)" transform="matrix(1 0 0 1.068 0 -2.50)"/>
<rect x="328.00" y="-4.1" width="1.15" height="68.1" fill="url(#g1)" transform="matrix(1 0 0 1.042 0 -1.85)"/>
<rect x="329.00" y="-4.1" width="1.15" height="68.1" fill="url(#g1)" transform="matrix(1 0 0 1.050 0 -1.76)"/>
<rect x="330.00" y="-4.1" width="1.15" height="68.1" fill="url(#g1)" transform="matrix(1 0 0 1.018 0 -0.51)"/>
<rect x="331.00" y="-4.1" width="1.15" height="68.1" fill="url(#g1)" transform="matrix(1 0 0 1.001 0 -0.19)"/>
<rect x="332.00" y="-4.1" width="1.15" height="68.1" fill="url(#g1)" transform="matrix(1 0 0 1.051 0 -1.52)"/>
<rect x="333.00" y="-4.1" width="1.15" height="68.1" fill="url(#g1)" transform="matrix(1 0 0 1.076 0 -2.42)"/>
<rect x="334.00" y="-4.1" width="1.15" height="68.1" fill="url(#g1)" transform="matrix(1 0 0 1.020 0 -1.10)"/>
<rect x="335.00" y="-4.1" width="1.15" height="68.1" fill="url(#g1)" transform="matrix(1 0 0 0.974 0 0.51)"/>
<rect x="336.00" y="-4.1" width="1.15" height="68.1" fill="url(#g1)" transform="matrix(1 0 0 1.003 0 -0.81)"/>
<rect x="337.00" y="-4.1" width="1.15" height="68.1" fill="url(#g1)" transform="matrix(1 0 0 1.002 0 -0.42)"/>
<rect x="338.00" y="-4.1" width="1.15" height="68.1" fill="url(#g1)" transform="matrix(1 0 0 0.983 0 0.71)"/>
<rect x="339.00" y="-4.1" width="1.15" height="68.1" fill="url(#g1)" transform="matrix(1 0 0 1.007 0 -0.54)"/>
<rect x="340.00" y="-4.1" width="1.15" height="68.1" fill="url(#g1)" transform="matrix(1 0 0 1.008 0 -0.29)"/>
<rect x="341.00" y="-4.1" width="1.15" height="68.1" fill="url(#g1)" transform="matrix(1 0 0 0.946 0 1.87)"/>
<rect x="342.00" y="-4.1" width="1.15" height="68.1" fill="url(#g1)" transform="matrix(1 0 0 0.964 0 1.05)"/>
<rect x="343.00" y="-4.1" width="1.15" height="68.1" fill="url(#g1)" transform="matrix(1 0 0 0.998 0 -0.19)"/>
<rect x="344.00" y="-4.1" width="1.15" height="68.1" fill="url(#g1)" transform="matrix(1 0 0 0.971 0 0.58)"/>
<rect x="345.00" y="-4.1" width="1.15" height="68.1" fill="url(#g1)" transform="matrix(1 0 0 0.943 0 1.30)"/>
<rect x="346.00" y="-4.1" width="1.15" height="68.1" fill="url(#g1)" transform="matrix(1 0 0 0.986 0 0.08)"/>
<rect x="347.00" y="-4.1" width="1.15" height="68.1" fill="url(#g1)" transform="matrix(1 0 0 0.970 0 0.78)"/>
<rect x="348.00" y="-4.1" width="1.15" height="68.1" fill="url(#g1)" transform="matrix(1 0 0 0.902 0 2.73)"/>
<rect x="349.00" y="-4.1" width="1.15" height="68.1" fill="url(#g1)" transform="matrix(1 0 0 0.951 0 1.51)"/>
<rect x="350.00" y="-4.1" width="1.15" height="68.1" fill="url(#g1)" transform="matrix(1 0 0 1.024 0 -0.70)"/>
<rect x="351.00" y="-4.1" width="1.15" height="68.1" fill="url(#g1)" transform="matrix(1 0 0 1.063 0 -2.07)"/>
<rect x="352.00" y="-4.1" width="1.15" height="68.1" fill="url(#g1)" transform="matrix(1 0 0 1.004 0 -0.26)"/>
<rect x="353.00" y="-4.1" width="1.15" height="68.1" fill="url(#g1)" transform="matrix(1 0 0 0.967 0 0.71)"/>
<rect x="354.00" y="-4.1" width="1.15" height="68.1" fill="url(#g1)" transform="matrix(1 0 0 0.958 0 1.07)"/>
<rect x="355.00" y="-4.1" width="1.15" height="68.1" fill="url(#g1)" transform="matrix(1 0 0 0.988 0 0.55)"/>
<rect x="356.00" y="-4.1" width="1.15" height="68.1" fill="url(#g1)" transform="matrix(1 0 0 0.988 0 0.51)"/>
<rect x="357.00" y="-4.1" width="1.15" height="68.1" fill="url(#g1)" transform="matrix(1 0 0 0.960 0 1.28)"/>
<rect x="358.00" y="-4.1" width="1.15" height="68.1" fill="url(#g1)" transform="matrix(1 0 0 1.022 0 -0.92)"/>
<rect x="359.00" y="-4.1" width="1.15" height="68.1" fill="url(#g1)" transform="matrix(1 0 0 1.020 0 -1.15)"/>
<rect x="360.00" y="-4.1" width="1.15" height="68.1" fill="url(#g1)" transform="matrix(1 0 0 1.031 0 -1.58)"/>
<rect x="361.00" y="-4.1" width="1.15" height="68.1" fill="url(#g1)" transform="matrix(1 0 0 1.015 0 -0.74)"/>
<rect x="362.00" y="-4.1" width="1.15" height="68.1" fill="url(#g1)" transform="matrix(1 0 0 0.987 0 0.30)"/>
<rect x="363.00" y="-4.1" width="1.15" height="68.1" fill="url(#g1)" transform="matrix(1 0 0 1.031 0 -0.99)"/>
<path d="M296.80 25.50 Q300.20 30.50 296.80 35.50 Q293.40 30.50 296.80 25.50Z" fill="#ece51b" filter="url(#b1)" opacity="0.60"/>
<path d="M296.80 16.00 Q298.70 30.50 296.80 45.00 Q294.90 30.50 296.80 16.00Z" fill="url(#s1)" filter="url(#b1)" opacity="1.00"/>
<rect x="296.40" y="27.8" width="0.8" height="5.8" fill="#22a884" opacity="0.85" filter="url(#b1)"/>
<path d="M236.55 25.50 Q239.95 30.50 236.55 35.50 Q233.15 30.50 236.55 25.50Z" fill="#ece51b" filter="url(#b1)" opacity="0.60"/>
<path d="M236.55 16.00 Q238.45 30.50 236.55 45.00 Q234.65 30.50 236.55 16.00Z" fill="url(#s1)" filter="url(#b1)" opacity="1.00"/>
<rect x="236.15" y="27.8" width="0.8" height="5.8" fill="#22a884" opacity="0.85" filter="url(#b1)"/>
<path d="M194.84 25.50 Q198.24 30.50 194.84 35.50 Q191.44 30.50 194.84 25.50Z" fill="#ece51b" filter="url(#b1)" opacity="0.60"/>
<path d="M194.84 16.00 Q196.74 30.50 194.84 45.00 Q192.94 30.50 194.84 16.00Z" fill="url(#s1)" filter="url(#b1)" opacity="1.00"/>
<rect x="194.44" y="27.8" width="0.8" height="5.8" fill="#22a884" opacity="0.85" filter="url(#b1)"/>
<path d="M164.25 26.60 Q167.05 30.50 164.25 34.60 Q161.45 30.50 164.25 26.60Z" fill="#ece51b" filter="url(#b1)" opacity="0.60"/>
<path d="M164.25 17.50 Q165.95 30.50 164.25 42.00 Q162.55 30.50 164.25 17.50Z" fill="url(#s1)" filter="url(#b1)" opacity="1.00"/>
<rect x="163.85" y="27.8" width="0.8" height="5.8" fill="#22a884" opacity="0.85" filter="url(#b1)"/>
<path d="M140.86 26.60 Q143.66 30.50 140.86 34.60 Q138.06 30.50 140.86 26.60Z" fill="#ece51b" filter="url(#b1)" opacity="0.60"/>
<path d="M140.86 17.50 Q142.56 30.50 140.86 42.00 Q139.16 30.50 140.86 17.50Z" fill="url(#s1)" filter="url(#b1)" opacity="1.00"/>
<rect x="140.46" y="27.8" width="0.8" height="5.8" fill="#22a884" opacity="0.85" filter="url(#b1)"/>
<path d="M122.39 26.60 Q125.19 30.50 122.39 34.60 Q119.59 30.50 122.39 26.60Z" fill="#ece51b" filter="url(#b1)" opacity="0.40"/>
<path d="M122.39 21.00 Q123.79 30.50 122.39 40.50 Q120.99 30.50 122.39 21.00Z" fill="url(#s1)" filter="url(#b1)" opacity="0.75"/>
<rect x="121.99" y="27.8" width="0.8" height="5.8" fill="#22a884" opacity="0.50" filter="url(#b1)"/>
<path d="M107.44 26.60 Q110.24 30.50 107.44 34.60 Q104.64 30.50 107.44 26.60Z" fill="#ece51b" filter="url(#b1)" opacity="0.40"/>
<path d="M107.44 21.00 Q108.84 30.50 107.44 40.50 Q106.04 30.50 107.44 21.00Z" fill="url(#s1)" filter="url(#b1)" opacity="0.75"/>
<rect x="107.04" y="27.8" width="0.8" height="5.8" fill="#22a884" opacity="0.50" filter="url(#b1)"/>
<path d="M95.09 26.60 Q97.89 30.50 95.09 34.60 Q92.29 30.50 95.09 26.60Z" fill="#ece51b" filter="url(#b1)" opacity="0.40"/>
<path d="M95.09 21.00 Q96.49 30.50 95.09 40.50 Q93.69 30.50 95.09 21.00Z" fill="url(#s1)" filter="url(#b1)" opacity="0.75"/>
<rect x="94.69" y="27.8" width="0.8" height="5.8" fill="#22a884" opacity="0.50" filter="url(#b1)"/>
<path d="M84.72 26.60 Q87.52 30.50 84.72 34.60 Q81.92 30.50 84.72 26.60Z" fill="#ece51b" filter="url(#b1)" opacity="0.40"/>
<path d="M84.72 21.00 Q86.12 30.50 84.72 40.50 Q83.32 30.50 84.72 21.00Z" fill="url(#s1)" filter="url(#b1)" opacity="0.75"/>
<rect x="84.32" y="27.8" width="0.8" height="5.8" fill="#22a884" opacity="0.50" filter="url(#b1)"/>
<circle cx="296.80" cy="50.9" r="3.0" fill="#fff"/>
<circle cx="236.55" cy="50.9" r="3.0" fill="#fff"/>
<circle cx="194.84" cy="50.9" r="3.0" fill="#fff"/>
<circle cx="164.25" cy="50.9" r="3.0" fill="#fff"/>
<circle cx="140.86" cy="50.9" r="3.0" fill="#fff"/>
<circle cx="122.39" cy="50.9" r="3.0" fill="#fff"/>
<circle cx="107.44" cy="50.9" r="3.0" fill="#fff"/>
<circle cx="95.09" cy="50.9" r="3.0" fill="#fff"/>
<circle cx="84.72" cy="50.9" r="3.0" fill="#fff"/>
</g>
<g clip-path="url(#c2)">
<rect x="85.00" y="68.45" width="279.00" height="52.35" fill="url(#g2)"/>
<rect x="85.00" y="60.5" width="1.15" height="68.3" fill="url(#g2)" transform="matrix(1 0 0 0.911 0 8.39)"/>
<rect x="86.00" y="60.5" width="1.15" height="68.3" fill="url(#g2)" transform="matrix(1 0 0 0.956 0 3.76)"/>
<rect x="87.00" y="60.5" width="1.15" height="68.3" fill="url(#g2)" transform="matrix(1 0 0 1.007 0 -0.73)"/>
<rect x="88.00" y="60.5" width="1.15" height="68.3" fill="url(#g2)" transform="matrix(1 0 0 0.996 0 0.31)"/>
<rect x="89.00" y="60.5" width="1.15" height="68.3" fill="url(#g2)" transform="matrix(1 0 0 0.997 0 -0.26)"/>
<rect x="90.00" y="60.5" width="1.15" height="68.3" fill="url(#g2)" transform="matrix(1 0 0 0.960 0 3.77)"/>
<rect x="91.00" y="60.5" width="1.15" height="68.3" fill="url(#g2)" transform="matrix(1 0 0 0.930 0 6.53)"/>
<rect x="92.00" y="60.5" width="1.15" height="68.3" fill="url(#g2)" transform="matrix(1 0 0 1.002 0 -0.63)"/>
<rect x="93.00" y="60.5" width="1.15" height="68.3" fill="url(#g2)" transform="matrix(1 0 0 1.057 0 -5.78)"/>
<rect x="94.00" y="60.5" width="1.15" height="68.3" fill="url(#g2)" transform="matrix(1 0 0 1.008 0 -0.80)"/>
<rect x="95.00" y="60.5" width="1.15" height="68.3" fill="url(#g2)" transform="matrix(1 0 0 1.030 0 -2.34)"/>
<rect x="96.00" y="60.5" width="1.15" height="68.3" fill="url(#g2)" transform="matrix(1 0 0 1.022 0 -1.60)"/>
<rect x="97.00" y="60.5" width="1.15" height="68.3" fill="url(#g2)" transform="matrix(1 0 0 0.959 0 3.71)"/>
<rect x="98.00" y="60.5" width="1.15" height="68.3" fill="url(#g2)" transform="matrix(1 0 0 0.993 0 0.55)"/>
<rect x="99.00" y="60.5" width="1.15" height="68.3" fill="url(#g2)" transform="matrix(1 0 0 0.977 0 2.14)"/>
<rect x="100.00" y="60.5" width="1.15" height="68.3" fill="url(#g2)" transform="matrix(1 0 0 0.958 0 3.90)"/>
<rect x="101.00" y="60.5" width="1.15" height="68.3" fill="url(#g2)" transform="matrix(1 0 0 0.983 0 1.80)"/>
<rect x="102.00" y="60.5" width="1.15" height="68.3" fill="url(#g2)" transform="matrix(1 0 0 0.986 0 1.44)"/>
<rect x="103.00" y="60.5" width="1.15" height="68.3" fill="url(#g2)" transform="matrix(1 0 0 1.012 0 -1.28)"/>
<rect x="104.00" y="60.5" width="1.15" height="68.3" fill="url(#g2)" transform="matrix(1 0 0 1.037 0 -3.66)"/>
<rect x="105.00" y="60.5" width="1.15" height="68.3" fill="url(#g2)" transform="matrix(1 0 0 0.987 0 1.01)"/>
<rect x="106.00" y="60.5" width="1.15" height="68.3" fill="url(#g2)" transform="matrix(1 0 0 0.955 0 4.27)"/>
<rect x="107.00" y="60.5" width="1.15" height="68.3" fill="url(#g2)" transform="matrix(1 0 0 0.987 0 1.05)"/>
<rect x="108.00" y="60.5" width="1.15" height="68.3" fill="url(#g2)" transform="matrix(1 0 0 1.003 0 -0.53)"/>
<rect x="109.00" y="60.5" width="1.15" height="68.3" fill="url(#g2)" transform="matrix(1 0 0 0.979 0 1.93)"/>
<rect x="110.00" y="60.5" width="1.15" height="68.3" fill="url(#g2)" transform="matrix(1 0 0 0.991 0 0.70)"/>
<rect x="111.00" y="60.5" width="1.15" height="68.3" fill="url(#g2)" transform="matrix(1 0 0 1.031 0 -3.33)"/>
<rect x="112.00" y="60.5" width="1.15" height="68.3" fill="url(#g2)" transform="matrix(1 0 0 1.005 0 -0.96)"/>
<rect x="113.00" y="60.5" width="1.15" height="68.3" fill="url(#g2)" transform="matrix(1 0 0 1.004 0 -0.68)"/>
<rect x="114.00" y="60.5" width="1.15" height="68.3" fill="url(#g2)" transform="matrix(1 0 0 0.979 0 1.91)"/>
<rect x="115.00" y="60.5" width="1.15" height="68.3" fill="url(#g2)" transform="matrix(1 0 0 0.919 0 8.10)"/>
<rect x="116.00" y="60.5" width="1.15" height="68.3" fill="url(#g2)" transform="matrix(1 0 0 0.972 0 2.61)"/>
<rect x="117.00" y="60.5" width="1.15" height="68.3" fill="url(#g2)" transform="matrix(1 0 0 0.992 0 0.35)"/>
<rect x="118.00" y="60.5" width="1.15" height="68.3" fill="url(#g2)" transform="matrix(1 0 0 0.954 0 4.47)"/>
<rect x="119.00" y="60.5" width="1.15" height="68.3" fill="url(#g2)" transform="matrix(1 0 0 0.968 0 3.35)"/>
<rect x="120.00" y="60.5" width="1.15" height="68.3" fill="url(#g2)" transform="matrix(1 0 0 0.976 0 2.61)"/>
<rect x="121.00" y="60.5" width="1.15" height="68.3" fill="url(#g2)" transform="matrix(1 0 0 0.991 0 0.77)"/>
<rect x="122.00" y="60.5" width="1.15" height="68.3" fill="url(#g2)" transform="matrix(1 0 0 0.972 0 2.53)"/>
<rect x="123.00" y="60.5" width="1.15" height="68.3" fill="url(#g2)" transform="matrix(1 0 0 0.954 0 4.47)"/>
<rect x="124.00" y="60.5" width="1.15" height="68.3" fill="url(#g2)" transform="matrix(1 0 0 1.070 0 -6.62)"/>
<rect x="125.00" y="60.5" width="1.15" height="68.3" fill="url(#g2)" transform="matrix(1 0 0 1.082 0 -7.72)"/>
<rect x="126.00" y="60.5" width="1.15" height="68.3" fill="url(#g2)" transform="matrix(1 0 0 0.955 0 4.09)"/>
<rect x="127.00" y="60.5" width="1.15" height="68.3" fill="url(#g2)" transform="matrix(1 0 0 0.967 0 3.11)"/>
<rect x="128.00" y="60.5" width="1.15" height="68.3" fill="url(#g2)" transform="matrix(1 0 0 1.029 0 -2.12)"/>
<rect x="129.00" y="60.5" width="1.15" height="68.3" fill="url(#g2)" transform="matrix(1 0 0 1.048 0 -4.39)"/>
<rect x="130.00" y="60.5" width="1.15" height="68.3" fill="url(#g2)" transform="matrix(1 0 0 1.038 0 -3.60)"/>
<rect x="131.00" y="60.5" width="1.15" height="68.3" fill="url(#g2)" transform="matrix(1 0 0 0.987 0 1.33)"/>
<rect x="132.00" y="60.5" width="1.15" height="68.3" fill="url(#g2)" transform="matrix(1 0 0 1.019 0 -1.96)"/>
<rect x="133.00" y="60.5" width="1.15" height="68.3" fill="url(#g2)" transform="matrix(1 0 0 1.053 0 -5.21)"/>
<rect x="134.00" y="60.5" width="1.15" height="68.3" fill="url(#g2)" transform="matrix(1 0 0 0.973 0 2.81)"/>
<rect x="135.00" y="60.5" width="1.15" height="68.3" fill="url(#g2)" transform="matrix(1 0 0 0.974 0 2.64)"/>
<rect x="136.00" y="60.5" width="1.15" height="68.3" fill="url(#g2)" transform="matrix(1 0 0 1.013 0 -1.38)"/>
<rect x="137.00" y="60.5" width="1.15" height="68.3" fill="url(#g2)" transform="matrix(1 0 0 1.022 0 -2.18)"/>
<rect x="138.00" y="60.5" width="1.15" height="68.3" fill="url(#g2)" transform="matrix(1 0 0 1.018 0 -1.69)"/>
<rect x="139.00" y="60.5" width="1.15" height="68.3" fill="url(#g2)" transform="matrix(1 0 0 1.010 0 -0.65)"/>
<rect x="140.00" y="60.5" width="1.15" height="68.3" fill="url(#g2)" transform="matrix(1 0 0 1.025 0 -2.21)"/>
<rect x="141.00" y="60.5" width="1.15" height="68.3" fill="url(#g2)" transform="matrix(1 0 0 1.020 0 -1.89)"/>
<rect x="142.00" y="60.5" width="1.15" height="68.3" fill="url(#g2)" transform="matrix(1 0 0 1.014 0 -1.21)"/>
<rect x="143.00" y="60.5" width="1.15" height="68.3" fill="url(#g2)" transform="matrix(1 0 0 0.989 0 0.72)"/>
<rect x="144.00" y="60.5" width="1.15" height="68.3" fill="url(#g2)" transform="matrix(1 0 0 0.991 0 0.38)"/>
<rect x="145.00" y="60.5" width="1.15" height="68.3" fill="url(#g2)" transform="matrix(1 0 0 1.017 0 -1.78)"/>
<rect x="146.00" y="60.5" width="1.15" height="68.3" fill="url(#g2)" transform="matrix(1 0 0 1.026 0 -2.54)"/>
<rect x="147.00" y="60.5" width="1.15" height="68.3" fill="url(#g2)" transform="matrix(1 0 0 1.051 0 -4.80)"/>
<rect x="148.00" y="60.5" width="1.15" height="68.3" fill="url(#g2)" transform="matrix(1 0 0 1.051 0 -5.21)"/>
<rect x="149.00" y="60.5" width="1.15" height="68.3" fill="url(#g2)" transform="matrix(1 0 0 1.027 0 -2.92)"/>
<rect x="150.00" y="60.5" width="1.15" height="68.3" fill="url(#g2)" transform="matrix(1 0 0 1.068 0 -6.66)"/>
<rect x="151.00" y="60.5" width="1.15" height="68.3" fill="url(#g2)" transform="matrix(1 0 0 1.054 0 -5.59)"/>
<rect x="152.00" y="60.5" width="1.15" height="68.3" fill="url(#g2)" transform="matrix(1 0 0 1.015 0 -1.61)"/>
<rect x="153.00" y="60.5" width="1.15" height="68.3" fill="url(#g2)" transform="matrix(1 0 0 0.998 0 0.41)"/>
<rect x="154.00" y="60.5" width="1.15" height="68.3" fill="url(#g2)" transform="matrix(1 0 0 0.986 0 1.36)"/>
<rect x="155.00" y="60.5" width="1.15" height="68.3" fill="url(#g2)" transform="matrix(1 0 0 1.042 0 -3.98)"/>
<rect x="156.00" y="60.5" width="1.15" height="68.3" fill="url(#g2)" transform="matrix(1 0 0 1.049 0 -4.57)"/>
<rect x="157.00" y="60.5" width="1.15" height="68.3" fill="url(#g2)" transform="matrix(1 0 0 1.044 0 -4.27)"/>
<rect x="158.00" y="60.5" width="1.15" height="68.3" fill="url(#g2)" transform="matrix(1 0 0 1.010 0 -1.12)"/>
<rect x="159.00" y="60.5" width="1.15" height="68.3" fill="url(#g2)" transform="matrix(1 0 0 0.938 0 5.98)"/>
<rect x="160.00" y="60.5" width="1.15" height="68.3" fill="url(#g2)" transform="matrix(1 0 0 0.973 0 2.40)"/>
<rect x="161.00" y="60.5" width="1.15" height="68.3" fill="url(#g2)" transform="matrix(1 0 0 0.973 0 2.00)"/>
<rect x="162.00" y="60.5" width="1.15" height="68.3" fill="url(#g2)" transform="matrix(1 0 0 1.033 0 -2.99)"/>
<rect x="163.00" y="60.5" width="1.15" height="68.3" fill="url(#g2)" transform="matrix(1 0 0 1.098 0 -9.62)"/>
<rect x="164.00" y="60.5" width="1.15" height="68.3" fill="url(#g2)" transform="matrix(1 0 0 1.000 0 -0.44)"/>
<rect x="165.00" y="60.5" width="1.15" height="68.3" fill="url(#g2)" transform="matrix(1 0 0 0.965 0 3.32)"/>
<rect x="166.00" y="60.5" width="1.15" height="68.3" fill="url(#g2)" transform="matrix(1 0 0 0.981 0 1.92)"/>
<rect x="167.00" y="60.5" width="1.15" height="68.3" fill="url(#g2)" transform="matrix(1 0 0 0.996 0 0.79)"/>
<rect x="168.00" y="60.5" width="1.15" height="68.3" fill="url(#g2)" transform="matrix(1 0 0 1.009 0 -0.69)"/>
<rect x="169.00" y="60.5" width="1.15" height="68.3" fill="url(#g2)" transform="matrix(1 0 0 1.022 0 -2.44)"/>
<rect x="170.00" y="60.5" width="1.15" height="68.3" fill="url(#g2)" transform="matrix(1 0 0 1.060 0 -5.73)"/>
<rect x="171.00" y="60.5" width="1.15" height="68.3" fill="url(#g2)" transform="matrix(1 0 0 1.031 0 -2.47)"/>
<rect x="172.00" y="60.5" width="1.15" height="68.3" fill="url(#g2)" transform="matrix(1 0 0 0.965 0 3.48)"/>
<rect x="173.00" y="60.5" width="1.15" height="68.3" fill="url(#g2)" transform="matrix(1 0 0 0.985 0 1.44)"/>
<rect x="174.00" y="60.5" width="1.15" height="68.3" fill="url(#g2)" transform="matrix(1 0 0 1.010 0 -0.81)"/>
<rect x="175.00" y="60.5" width="1.15" height="68.3" fill="url(#g2)" transform="matrix(1 0 0 1.025 0 -2.16)"/>
<rect x="176.00" y="60.5" width="1.15" height="68.3" fill="url(#g2)" transform="matrix(1 0 0 1.025 0 -2.22)"/>
<rect x="177.00" y="60.5" width="1.15" height="68.3" fill="url(#g2)" transform="matrix(1 0 0 1.017 0 -1.30)"/>
<rect x="178.00" y="60.5" width="1.15" height="68.3" fill="url(#g2)" transform="matrix(1 0 0 1.029 0 -2.85)"/>
<rect x="179.00" y="60.5" width="1.15" height="68.3" fill="url(#g2)" transform="matrix(1 0 0 1.004 0 -0.49)"/>
<rect x="180.00" y="60.5" width="1.15" height="68.3" fill="url(#g2)" transform="matrix(1 0 0 0.984 0 1.80)"/>
<rect x="181.00" y="60.5" width="1.15" height="68.3" fill="url(#g2)" transform="matrix(1 0 0 1.007 0 -0.60)"/>
<rect x="182.00" y="60.5" width="1.15" height="68.3" fill="url(#g2)" transform="matrix(1 0 0 1.081 0 -7.56)"/>
<rect x="183.00" y="60.5" width="1.15" height="68.3" fill="url(#g2)" transform="matrix(1 0 0 1.084 0 -8.27)"/>
<rect x="184.00" y="60.5" width="1.15" height="68.3" fill="url(#g2)" transform="matrix(1 0 0 1.018 0 -1.92)"/>
<rect x="185.00" y="60.5" width="1.15" height="68.3" fill="url(#g2)" transform="matrix(1 0 0 1.014 0 -1.07)"/>
<rect x="186.00" y="60.5" width="1.15" height="68.3" fill="url(#g2)" transform="matrix(1 0 0 1.021 0 -2.11)"/>
<rect x="187.00" y="60.5" width="1.15" height="68.3" fill="url(#g2)" transform="matrix(1 0 0 0.971 0 2.65)"/>
<rect x="188.00" y="60.5" width="1.15" height="68.3" fill="url(#g2)" transform="matrix(1 0 0 0.976 0 2.34)"/>
<rect x="189.00" y="60.5" width="1.15" height="68.3" fill="url(#g2)" transform="matrix(1 0 0 1.046 0 -3.99)"/>
<rect x="190.00" y="60.5" width="1.15" height="68.3" fill="url(#g2)" transform="matrix(1 0 0 1.031 0 -2.08)"/>
<rect x="191.00" y="60.5" width="1.15" height="68.3" fill="url(#g2)" transform="matrix(1 0 0 0.964 0 3.89)"/>
<rect x="192.00" y="60.5" width="1.15" height="68.3" fill="url(#g2)" transform="matrix(1 0 0 0.984 0 1.47)"/>
<rect x="193.00" y="60.5" width="1.15" height="68.3" fill="url(#g2)" transform="matrix(1 0 0 1.058 0 -5.79)"/>
<rect x="194.00" y="60.5" width="1.15" height="68.3" fill="url(#g2)" transform="matrix(1 0 0 1.069 0 -6.79)"/>
<rect x="195.00" y="60.5" width="1.15" height="68.3" fill="url(#g2)" transform="matrix(1 0 0 1.049 0 -4.85)"/>
<rect x="196.00" y="60.5" width="1.15" height="68.3" fill="url(#g2)" transform="matrix(1 0 0 1.083 0 -8.21)"/>
<rect x="197.00" y="60.5" width="1.15" height="68.3" fill="url(#g2)" transform="matrix(1 0 0 1.098 0 -9.66)"/>
<rect x="198.00" y="60.5" width="1.15" height="68.3" fill="url(#g2)" transform="matrix(1 0 0 1.058 0 -5.74)"/>
<rect x="199.00" y="60.5" width="1.15" height="68.3" fill="url(#g2)" transform="matrix(1 0 0 1.013 0 -1.36)"/>
<rect x="200.00" y="60.5" width="1.15" height="68.3" fill="url(#g2)" transform="matrix(1 0 0 0.998 0 -0.07)"/>
<rect x="201.00" y="60.5" width="1.15" height="68.3" fill="url(#g2)" transform="matrix(1 0 0 1.001 0 -0.40)"/>
<rect x="202.00" y="60.5" width="1.15" height="68.3" fill="url(#g2)" transform="matrix(1 0 0 1.019 0 -1.46)"/>
<rect x="203.00" y="60.5" width="1.15" height="68.3" fill="url(#g2)" transform="matrix(1 0 0 0.999 0 0.29)"/>
<rect x="204.00" y="60.5" width="1.15" height="68.3" fill="url(#g2)" transform="matrix(1 0 0 1.017 0 -2.07)"/>
<rect x="205.00" y="60.5" width="1.15" height="68.3" fill="url(#g2)" transform="matrix(1 0 0 1.042 0 -4.15)"/>
<rect x="206.00" y="60.5" width="1.15" height="68.3" fill="url(#g2)" transform="matrix(1 0 0 0.994 0 0.63)"/>
<rect x="207.00" y="60.5" width="1.15" height="68.3" fill="url(#g2)" transform="matrix(1 0 0 1.010 0 -0.97)"/>
<rect x="208.00" y="60.5" width="1.15" height="68.3" fill="url(#g2)" transform="matrix(1 0 0 0.969 0 3.25)"/>
<rect x="209.00" y="60.5" width="1.15" height="68.3" fill="url(#g2)" transform="matrix(1 0 0 0.927 0 7.35)"/>
<rect x="210.00" y="60.5" width="1.15" height="68.3" fill="url(#g2)" transform="matrix(1 0 0 0.963 0 3.96)"/>
<rect x="211.00" y="60.5" width="1.15" height="68.3" fill="url(#g2)" transform="matrix(1 0 0 1.004 0 -0.44)"/>
<rect x="212.00" y="60.5" width="1.15" height="68.3" fill="url(#g2)" transform="matrix(1 0 0 1.008 0 -0.77)"/>
<rect x="213.00" y="60.5" width="1.15" height="68.3" fill="url(#g2)" transform="matrix(1 0 0 1.023 0 -2.36)"/>
<rect x="214.00" y="60.5" width="1.15" height="68.3" fill="url(#g2)" transform="matrix(1 0 0 1.024 0 -2.70)"/>
<rect x="215.00" y="60.5" width="1.15" height="68.3" fill="url(#g2)" transform="matrix(1 0 0 1.002 0 -0.30)"/>
<rect x="216.00" y="60.5" width="1.15" height="68.3" fill="url(#g2)" transform="matrix(1 0 0 0.995 0 0.14)"/>
<rect x="217.00" y="60.5" width="1.15" height="68.3" fill="url(#g2)" transform="matrix(1 0 0 1.011 0 -1.16)"/>
<rect x="218.00" y="60.5" width="1.15" height="68.3" fill="url(#g2)" transform="matrix(1 0 0 1.023 0 -2.07)"/>
<rect x="219.00" y="60.5" width="1.15" height="68.3" fill="url(#g2)" transform="matrix(1 0 0 1.007 0 -0.47)"/>
<rect x="220.00" y="60.5" width="1.15" height="68.3" fill="url(#g2)" transform="matrix(1 0 0 1.001 0 -0.15)"/>
<rect x="221.00" y="60.5" width="1.15" height="68.3" fill="url(#g2)" transform="matrix(1 0 0 0.961 0 3.65)"/>
<rect x="222.00" y="60.5" width="1.15" height="68.3" fill="url(#g2)" transform="matrix(1 0 0 0.967 0 3.41)"/>
<rect x="223.00" y="60.5" width="1.15" height="68.3" fill="url(#g2)" transform="matrix(1 0 0 1.022 0 -1.95)"/>
<rect x="224.00" y="60.5" width="1.15" height="68.3" fill="url(#g2)" transform="matrix(1 0 0 1.002 0 -0.44)"/>
<rect x="225.00" y="60.5" width="1.15" height="68.3" fill="url(#g2)" transform="matrix(1 0 0 0.936 0 5.76)"/>
<rect x="226.00" y="60.5" width="1.15" height="68.3" fill="url(#g2)" transform="matrix(1 0 0 0.954 0 4.04)"/>
<rect x="227.00" y="60.5" width="1.15" height="68.3" fill="url(#g2)" transform="matrix(1 0 0 1.012 0 -1.84)"/>
<rect x="228.00" y="60.5" width="1.15" height="68.3" fill="url(#g2)" transform="matrix(1 0 0 0.993 0 0.89)"/>
<rect x="229.00" y="60.5" width="1.15" height="68.3" fill="url(#g2)" transform="matrix(1 0 0 0.960 0 4.65)"/>
<rect x="230.00" y="60.5" width="1.15" height="68.3" fill="url(#g2)" transform="matrix(1 0 0 0.991 0 1.40)"/>
<rect x="231.00" y="60.5" width="1.15" height="68.3" fill="url(#g2)" transform="matrix(1 0 0 0.996 0 0.62)"/>
<rect x="232.00" y="60.5" width="1.15" height="68.3" fill="url(#g2)" transform="matrix(1 0 0 0.999 0 0.16)"/>
<rect x="233.00" y="60.5" width="1.15" height="68.3" fill="url(#g2)" transform="matrix(1 0 0 1.037 0 -3.25)"/>
<rect x="234.00" y="60.5" width="1.15" height="68.3" fill="url(#g2)" transform="matrix(1 0 0 1.030 0 -2.64)"/>
<rect x="235.00" y="60.5" width="1.15" height="68.3" fill="url(#g2)" transform="matrix(1 0 0 0.999 0 0.22)"/>
<rect x="236.00" y="60.5" width="1.15" height="68.3" fill="url(#g2)" transform="matrix(1 0 0 1.018 0 -1.72)"/>
<rect x="237.00" y="60.5" width="1.15" height="68.3" fill="url(#g2)" transform="matrix(1 0 0 1.018 0 -2.13)"/>
<rect x="238.00" y="60.5" width="1.15" height="68.3" fill="url(#g2)" transform="matrix(1 0 0 0.975 0 2.14)"/>
<rect x="239.00" y="60.5" width="1.15" height="68.3" fill="url(#g2)" transform="matrix(1 0 0 0.951 0 4.90)"/>
<rect x="240.00" y="60.5" width="1.15" height="68.3" fill="url(#g2)" transform="matrix(1 0 0 0.947 0 5.39)"/>
<rect x="241.00" y="60.5" width="1.15" height="68.3" fill="url(#g2)" transform="matrix(1 0 0 1.020 0 -1.74)"/>
<rect x="242.00" y="60.5" width="1.15" height="68.3" fill="url(#g2)" transform="matrix(1 0 0 1.047 0 -4.17)"/>
<rect x="243.00" y="60.5" width="1.15" height="68.3" fill="url(#g2)" transform="matrix(1 0 0 1.013 0 -1.02)"/>
<rect x="244.00" y="60.5" width="1.15" height="68.3" fill="url(#g2)" transform="matrix(1 0 0 1.032 0 -3.42)"/>
<rect x="245.00" y="60.5" width="1.15" height="68.3" fill="url(#g2)" transform="matrix(1 0 0 0.994 0 0.47)"/>
<rect x="246.00" y="60.5" width="1.15" height="68.3" fill="url(#g2)" transform="matrix(1 0 0 0.992 0 0.83)"/>
<rect x="247.00" y="60.5" width="1.15" height="68.3" fill="url(#g2)" transform="matrix(1 0 0 1.002 0 -0.49)"/>
<rect x="248.00" y="60.5" width="1.15" height="68.3" fill="url(#g2)" transform="matrix(1 0 0 0.934 0 6.11)"/>
<rect x="249.00" y="60.5" width="1.15" height="68.3" fill="url(#g2)" transform="matrix(1 0 0 0.942 0 5.67)"/>
<rect x="250.00" y="60.5" width="1.15" height="68.3" fill="url(#g2)" transform="matrix(1 0 0 0.968 0 3.27)"/>
<rect x="251.00" y="60.5" width="1.15" height="68.3" fill="url(#g2)" transform="matrix(1 0 0 0.965 0 3.52)"/>
<rect x="252.00" y="60.5" width="1.15" height="68.3" fill="url(#g2)" transform="matrix(1 0 0 1.000 0 0.89)"/>
<rect x="253.00" y="60.5" width="1.15" height="68.3" fill="url(#g2)" transform="matrix(1 0 0 1.066 0 -5.31)"/>
<rect x="254.00" y="60.5" width="1.15" height="68.3" fill="url(#g2)" transform="matrix(1 0 0 1.045 0 -3.81)"/>
<rect x="255.00" y="60.5" width="1.15" height="68.3" fill="url(#g2)" transform="matrix(1 0 0 0.984 0 1.49)"/>
<rect x="256.00" y="60.5" width="1.15" height="68.3" fill="url(#g2)" transform="matrix(1 0 0 1.005 0 -0.81)"/>
<rect x="257.00" y="60.5" width="1.15" height="68.3" fill="url(#g2)" transform="matrix(1 0 0 1.014 0 -1.11)"/>
<rect x="258.00" y="60.5" width="1.15" height="68.3" fill="url(#g2)" transform="matrix(1 0 0 1.001 0 0.01)"/>
<rect x="259.00" y="60.5" width="1.15" height="68.3" fill="url(#g2)" transform="matrix(1 0 0 0.969 0 2.72)"/>
<rect x="260.00" y="60.5" width="1.15" height="68.3" fill="url(#g2)" transform="matrix(1 0 0 0.949 0 4.78)"/>
<rect x="261.00" y="60.5" width="1.15" height="68.3" fill="url(#g2)" transform="matrix(1 0 0 0.971 0 2.74)"/>
<rect x="262.00" y="60.5" width="1.15" height="68.3" fill="url(#g2)" transform="matrix(1 0 0 0.966 0 3.03)"/>
<rect x="263.00" y="60.5" width="1.15" height="68.3" fill="url(#g2)" transform="matrix(1 0 0 0.955 0 4.45)"/>
<rect x="264.00" y="60.5" width="1.15" height="68.3" fill="url(#g2)" transform="matrix(1 0 0 0.952 0 5.04)"/>
<rect x="265.00" y="60.5" width="1.15" height="68.3" fill="url(#g2)" transform="matrix(1 0 0 0.997 0 0.62)"/>
<rect x="266.00" y="60.5" width="1.15" height="68.3" fill="url(#g2)" transform="matrix(1 0 0 0.991 0 0.86)"/>
<rect x="267.00" y="60.5" width="1.15" height="68.3" fill="url(#g2)" transform="matrix(1 0 0 1.010 0 -0.95)"/>
<rect x="268.00" y="60.5" width="1.15" height="68.3" fill="url(#g2)" transform="matrix(1 0 0 1.033 0 -2.89)"/>
<rect x="269.00" y="60.5" width="1.15" height="68.3" fill="url(#g2)" transform="matrix(1 0 0 0.959 0 4.19)"/>
<rect x="270.00" y="60.5" width="1.15" height="68.3" fill="url(#g2)" transform="matrix(1 0 0 0.944 0 5.18)"/>
<rect x="271.00" y="60.5" width="1.15" height="68.3" fill="url(#g2)" transform="matrix(1 0 0 0.990 0 0.61)"/>
<rect x="272.00" y="60.5" width="1.15" height="68.3" fill="url(#g2)" transform="matrix(1 0 0 1.045 0 -4.31)"/>
<rect x="273.00" y="60.5" width="1.15" height="68.3" fill="url(#g2)" transform="matrix(1 0 0 1.004 0 -0.23)"/>
<rect x="274.00" y="60.5" width="1.15" height="68.3" fill="url(#g2)" transform="matrix(1 0 0 0.987 0 1.54)"/>
<rect x="275.00" y="60.5" width="1.15" height="68.3" fill="url(#g2)" transform="matrix(1 0 0 1.005 0 -0.10)"/>
<rect x="276.00" y="60.5" width="1.15" height="68.3" fill="url(#g2)" transform="matrix(1 0 0 0.990 0 0.86)"/>
<rect x="277.00" y="60.5" width="1.15" height="68.3" fill="url(#g2)" transform="matrix(1 0 0 0.998 0 -0.14)"/>
<rect x="278.00" y="60.5" width="1.15" height="68.3" fill="url(#g2)" transform="matrix(1 0 0 1.023 0 -2.56)"/>
<rect x="279.00" y="60.5" width="1.15" height="68.3" fill="url(#g2)" transform="matrix(1 0 0 0.971 0 2.86)"/>
<rect x="280.00" y="60.5" width="1.15" height="68.3" fill="url(#g2)" transform="matrix(1 0 0 0.896 0 10.28)"/>
<rect x="281.00" y="60.5" width="1.15" height="68.3" fill="url(#g2)" transform="matrix(1 0 0 0.949 0 4.97)"/>
<rect x="282.00" y="60.5" width="1.15" height="68.3" fill="url(#g2)" transform="matrix(1 0 0 1.003 0 -0.01)"/>
<rect x="283.00" y="60.5" width="1.15" height="68.3" fill="url(#g2)" transform="matrix(1 0 0 1.015 0 -1.33)"/>
<rect x="284.00" y="60.5" width="1.15" height="68.3" fill="url(#g2)" transform="matrix(1 0 0 0.974 0 2.15)"/>
<rect x="285.00" y="60.5" width="1.15" height="68.3" fill="url(#g2)" transform="matrix(1 0 0 0.933 0 6.12)"/>
<rect x="286.00" y="60.5" width="1.15" height="68.3" fill="url(#g2)" transform="matrix(1 0 0 1.014 0 -1.44)"/>
<rect x="287.00" y="60.5" width="1.15" height="68.3" fill="url(#g2)" transform="matrix(1 0 0 1.006 0 -0.29)"/>
<rect x="288.00" y="60.5" width="1.15" height="68.3" fill="url(#g2)" transform="matrix(1 0 0 0.976 0 2.72)"/>
<rect x="289.00" y="60.5" width="1.15" height="68.3" fill="url(#g2)" transform="matrix(1 0 0 0.989 0 0.99)"/>
<rect x="290.00" y="60.5" width="1.15" height="68.3" fill="url(#g2)" transform="matrix(1 0 0 0.970 0 2.78)"/>
<rect x="291.00" y="60.5" width="1.15" height="68.3" fill="url(#g2)" transform="matrix(1 0 0 0.955 0 4.53)"/>
<rect x="292.00" y="60.5" width="1.15" height="68.3" fill="url(#g2)" transform="matrix(1 0 0 0.995 0 0.39)"/>
<rect x="293.00" y="60.5" width="1.15" height="68.3" fill="url(#g2)" transform="matrix(1 0 0 0.982 0 1.49)"/>
<rect x="294.00" y="60.5" width="1.15" height="68.3" fill="url(#g2)" transform="matrix(1 0 0 0.922 0 7.02)"/>
<rect x="295.00" y="60.5" width="1.15" height="68.3" fill="url(#g2)" transform="matrix(1 0 0 0.947 0 4.74)"/>
<rect x="296.00" y="60.5" width="1.15" height="68.3" fill="url(#g2)" transform="matrix(1 0 0 1.007 0 -0.63)"/>
<rect x="297.00" y="60.5" width="1.15" height="68.3" fill="url(#g2)" transform="matrix(1 0 0 1.037 0 -3.85)"/>
<rect x="298.00" y="60.5" width="1.15" height="68.3" fill="url(#g2)" transform="matrix(1 0 0 1.024 0 -2.74)"/>
<rect x="299.00" y="60.5" width="1.15" height="68.3" fill="url(#g2)" transform="matrix(1 0 0 1.017 0 -1.67)"/>
<rect x="300.00" y="60.5" width="1.15" height="68.3" fill="url(#g2)" transform="matrix(1 0 0 1.005 0 -0.58)"/>
<rect x="301.00" y="60.5" width="1.15" height="68.3" fill="url(#g2)" transform="matrix(1 0 0 1.018 0 -1.79)"/>
<rect x="302.00" y="60.5" width="1.15" height="68.3" fill="url(#g2)" transform="matrix(1 0 0 1.051 0 -4.71)"/>
<rect x="303.00" y="60.5" width="1.15" height="68.3" fill="url(#g2)" transform="matrix(1 0 0 1.045 0 -4.34)"/>
<rect x="304.00" y="60.5" width="1.15" height="68.3" fill="url(#g2)" transform="matrix(1 0 0 0.969 0 2.69)"/>
<rect x="305.00" y="60.5" width="1.15" height="68.3" fill="url(#g2)" transform="matrix(1 0 0 0.992 0 1.13)"/>
<rect x="306.00" y="60.5" width="1.15" height="68.3" fill="url(#g2)" transform="matrix(1 0 0 1.031 0 -2.53)"/>
<rect x="307.00" y="60.5" width="1.15" height="68.3" fill="url(#g2)" transform="matrix(1 0 0 0.975 0 2.27)"/>
<rect x="308.00" y="60.5" width="1.15" height="68.3" fill="url(#g2)" transform="matrix(1 0 0 0.968 0 2.91)"/>
<rect x="309.00" y="60.5" width="1.15" height="68.3" fill="url(#g2)" transform="matrix(1 0 0 0.971 0 2.52)"/>
<rect x="310.00" y="60.5" width="1.15" height="68.3" fill="url(#g2)" transform="matrix(1 0 0 1.028 0 -2.68)"/>
<rect x="311.00" y="60.5" width="1.15" height="68.3" fill="url(#g2)" transform="matrix(1 0 0 1.044 0 -3.87)"/>
<rect x="312.00" y="60.5" width="1.15" height="68.3" fill="url(#g2)" transform="matrix(1 0 0 0.941 0 5.89)"/>
<rect x="313.00" y="60.5" width="1.15" height="68.3" fill="url(#g2)" transform="matrix(1 0 0 0.958 0 4.44)"/>
<rect x="314.00" y="60.5" width="1.15" height="68.3" fill="url(#g2)" transform="matrix(1 0 0 0.987 0 1.51)"/>
<rect x="315.00" y="60.5" width="1.15" height="68.3" fill="url(#g2)" transform="matrix(1 0 0 1.011 0 -0.83)"/>
<rect x="316.00" y="60.5" width="1.15" height="68.3" fill="url(#g2)" transform="matrix(1 0 0 1.036 0 -3.17)"/>
<rect x="317.00" y="60.5" width="1.15" height="68.3" fill="url(#g2)" transform="matrix(1 0 0 0.959 0 3.83)"/>
<rect x="318.00" y="60.5" width="1.15" height="68.3" fill="url(#g2)" transform="matrix(1 0 0 0.943 0 5.11)"/>
<rect x="319.00" y="60.5" width="1.15" height="68.3" fill="url(#g2)" transform="matrix(1 0 0 0.960 0 3.51)"/>
<rect x="320.00" y="60.5" width="1.15" height="68.3" fill="url(#g2)" transform="matrix(1 0 0 0.954 0 3.83)"/>
<rect x="321.00" y="60.5" width="1.15" height="68.3" fill="url(#g2)" transform="matrix(1 0 0 0.965 0 3.21)"/>
<rect x="322.00" y="60.5" width="1.15" height="68.3" fill="url(#g2)" transform="matrix(1 0 0 0.934 0 6.35)"/>
<rect x="323.00" y="60.5" width="1.15" height="68.3" fill="url(#g2)" transform="matrix(1 0 0 0.955 0 3.98)"/>
<rect x="324.00" y="60.5" width="1.15" height="68.3" fill="url(#g2)" transform="matrix(1 0 0 0.983 0 1.35)"/>
<rect x="325.00" y="60.5" width="1.15" height="68.3" fill="url(#g2)" transform="matrix(1 0 0 0.956 0 3.57)"/>
<rect x="326.00" y="60.5" width="1.15" height="68.3" fill="url(#g2)" transform="matrix(1 0 0 0.996 0 -0.07)"/>
<rect x="327.00" y="60.5" width="1.15" height="68.3" fill="url(#g2)" transform="matrix(1 0 0 1.066 0 -6.40)"/>
<rect x="328.00" y="60.5" width="1.15" height="68.3" fill="url(#g2)" transform="matrix(1 0 0 1.032 0 -3.12)"/>
<rect x="329.00" y="60.5" width="1.15" height="68.3" fill="url(#g2)" transform="matrix(1 0 0 1.030 0 -2.75)"/>
<rect x="330.00" y="60.5" width="1.15" height="68.3" fill="url(#g2)" transform="matrix(1 0 0 0.994 0 0.57)"/>
<rect x="331.00" y="60.5" width="1.15" height="68.3" fill="url(#g2)" transform="matrix(1 0 0 0.963 0 3.52)"/>
<rect x="332.00" y="60.5" width="1.15" height="68.3" fill="url(#g2)" transform="matrix(1 0 0 1.000 0 0.22)"/>
<rect x="333.00" y="60.5" width="1.15" height="68.3" fill="url(#g2)" transform="matrix(1 0 0 0.984 0 1.60)"/>
<rect x="334.00" y="60.5" width="1.15" height="68.3" fill="url(#g2)" transform="matrix(1 0 0 0.973 0 2.41)"/>
<rect x="335.00" y="60.5" width="1.15" height="68.3" fill="url(#g2)" transform="matrix(1 0 0 0.960 0 3.82)"/>
<rect x="336.00" y="60.5" width="1.15" height="68.3" fill="url(#g2)" transform="matrix(1 0 0 0.977 0 2.29)"/>
<rect x="337.00" y="60.5" width="1.15" height="68.3" fill="url(#g2)" transform="matrix(1 0 0 0.983 0 1.62)"/>
<rect x="338.00" y="60.5" width="1.15" height="68.3" fill="url(#g2)" transform="matrix(1 0 0 1.002 0 -0.59)"/>
<rect x="339.00" y="60.5" width="1.15" height="68.3" fill="url(#g2)" transform="matrix(1 0 0 1.068 0 -6.99)"/>
<rect x="340.00" y="60.5" width="1.15" height="68.3" fill="url(#g2)" transform="matrix(1 0 0 1.042 0 -3.96)"/>
<rect x="341.00" y="60.5" width="1.15" height="68.3" fill="url(#g2)" transform="matrix(1 0 0 0.980 0 1.93)"/>
<rect x="342.00" y="60.5" width="1.15" height="68.3" fill="url(#g2)" transform="matrix(1 0 0 0.952 0 4.58)"/>
<rect x="343.00" y="60.5" width="1.15" height="68.3" fill="url(#g2)" transform="matrix(1 0 0 0.893 0 10.63)"/>
<rect x="344.00" y="60.5" width="1.15" height="68.3" fill="url(#g2)" transform="matrix(1 0 0 0.972 0 3.08)"/>
<rect x="345.00" y="60.5" width="1.15" height="68.3" fill="url(#g2)" transform="matrix(1 0 0 1.002 0 -0.00)"/>
<rect x="346.00" y="60.5" width="1.15" height="68.3" fill="url(#g2)" transform="matrix(1 0 0 0.948 0 4.92)"/>
<rect x="347.00" y="60.5" width="1.15" height="68.3" fill="url(#g2)" transform="matrix(1 0 0 0.982 0 1.40)"/>
<rect x="348.00" y="60.5" width="1.15" height="68.3" fill="url(#g2)" transform="matrix(1 0 0 1.023 0 -2.49)"/>
<rect x="349.00" y="60.5" width="1.15" height="68.3" fill="url(#g2)" transform="matrix(1 0 0 1.031 0 -3.22)"/>
<rect x="350.00" y="60.5" width="1.15" height="68.3" fill="url(#g2)" transform="matrix(1 0 0 1.055 0 -5.41)"/>
<rect x="351.00" y="60.5" width="1.15" height="68.3" fill="url(#g2)" transform="matrix(1 0 0 1.042 0 -4.20)"/>
<rect x="352.00" y="60.5" width="1.15" height="68.3" fill="url(#g2)" transform="matrix(1 0 0 0.950 0 4.58)"/>
<rect x="353.00" y="60.5" width="1.15" height="68.3" fill="url(#g2)" transform="matrix(1 0 0 0.958 0 3.72)"/>
<rect x="354.00" y="60.5" width="1.15" height="68.3" fill="url(#g2)" transform="matrix(1 0 0 1.006 0 -1.22)"/>
<rect x="355.00" y="60.5" width="1.15" height="68.3" fill="url(#g2)" transform="matrix(1 0 0 0.983 0 1.22)"/>
<rect x="356.00" y="60.5" width="1.15" height="68.3" fill="url(#g2)" transform="matrix(1 0 0 0.971 0 2.41)"/>
<rect x="357.00" y="60.5" width="1.15" height="68.3" fill="url(#g2)" transform="matrix(1 0 0 0.977 0 1.86)"/>
<rect x="358.00" y="60.5" width="1.15" height="68.3" fill="url(#g2)" transform="matrix(1 0 0 1.029 0 -2.99)"/>
<rect x="359.00" y="60.5" width="1.15" height="68.3" fill="url(#g2)" transform="matrix(1 0 0 1.028 0 -2.87)"/>
<rect x="360.00" y="60.5" width="1.15" height="68.3" fill="url(#g2)" transform="matrix(1 0 0 0.950 0 4.93)"/>
<rect x="361.00" y="60.5" width="1.15" height="68.3" fill="url(#g2)" transform="matrix(1 0 0 0.972 0 3.13)"/>
<rect x="362.00" y="60.5" width="1.15" height="68.3" fill="url(#g2)" transform="matrix(1 0 0 0.961 0 4.09)"/>
<rect x="363.00" y="60.5" width="1.15" height="68.3" fill="url(#g2)" transform="matrix(1 0 0 0.965 0 3.40)"/>
<ellipse cx="338.22" cy="95.7" rx="7.0" ry="5.0" fill="url(#gl2)" opacity="0.90"/>
<rect x="337.87" y="72.0" width="0.7" height="40.5" fill="#287d8e" opacity="0.3" filter="url(#b1)"/>
<path d="M338.22 79.50 Q341.42 95.60 338.22 109.00 Q335.02 95.60 338.22 79.50Z" fill="url(#s2)" filter="url(#b1)"/>
<rect x="337.82" y="88.0" width="0.80" height="12.0" fill="#287d8e" opacity="0.60" filter="url(#b1)"/>
<ellipse cx="296.80" cy="95.7" rx="7.0" ry="5.0" fill="url(#gl2)" opacity="0.90"/>
<rect x="296.45" y="72.0" width="0.7" height="40.5" fill="#287d8e" opacity="0.3" filter="url(#b1)"/>
<path d="M296.80 79.50 Q300.00 95.60 296.80 109.00 Q293.60 95.60 296.80 79.50Z" fill="url(#s2)" filter="url(#b1)"/>
<rect x="296.40" y="88.0" width="0.80" height="12.0" fill="#287d8e" opacity="0.60" filter="url(#b1)"/>
<ellipse cx="263.66" cy="95.7" rx="7.0" ry="5.0" fill="url(#gl2)" opacity="0.90"/>
<rect x="263.31" y="72.0" width="0.7" height="40.5" fill="#287d8e" opacity="0.3" filter="url(#b1)"/>
<path d="M263.66 79.50 Q266.86 95.60 263.66 109.00 Q260.46 95.60 263.66 79.50Z" fill="url(#s2)" filter="url(#b1)"/>
<rect x="263.26" y="88.0" width="0.80" height="12.0" fill="#287d8e" opacity="0.60" filter="url(#b1)"/>
<ellipse cx="236.55" cy="95.7" rx="4.0" ry="5.0" fill="url(#gl2)" opacity="0.50"/>
<rect x="236.20" y="78.0" width="0.7" height="33.0" fill="#287d8e" opacity="0.3" filter="url(#b1)"/>
<path d="M236.55 81.50 Q238.65 95.60 236.55 108.50 Q234.45 95.60 236.55 81.50Z" fill="url(#s2)" filter="url(#b1)"/>
<rect x="236.15" y="90.0" width="0.80" height="10.0" fill="#21918c" opacity="0.30" filter="url(#b1)"/>
<ellipse cx="213.95" cy="95.7" rx="4.0" ry="5.0" fill="url(#gl2)" opacity="0.50"/>
<rect x="213.60" y="78.0" width="0.7" height="33.0" fill="#287d8e" opacity="0.3" filter="url(#b1)"/>
<path d="M213.95 81.50 Q216.05 95.60 213.95 108.50 Q211.85 95.60 213.95 81.50Z" fill="url(#s2)" filter="url(#b1)"/>
<rect x="213.55" y="90.0" width="0.80" height="10.0" fill="#21918c" opacity="0.30" filter="url(#b1)"/>
<ellipse cx="194.84" cy="95.7" rx="4.0" ry="5.0" fill="url(#gl2)" opacity="0.50"/>
<rect x="194.49" y="78.0" width="0.7" height="33.0" fill="#287d8e" opacity="0.3" filter="url(#b1)"/>
<path d="M194.84 81.50 Q196.94 95.60 194.84 108.50 Q192.74 95.60 194.84 81.50Z" fill="url(#s2)" filter="url(#b1)"/>
<rect x="194.44" y="90.0" width="0.80" height="10.0" fill="#21918c" opacity="0.30" filter="url(#b1)"/>
<ellipse cx="178.45" cy="95.7" rx="4.0" ry="5.0" fill="url(#gl2)" opacity="0.50"/>
<rect x="178.10" y="78.0" width="0.7" height="33.0" fill="#287d8e" opacity="0.3" filter="url(#b1)"/>
<path d="M178.45 81.50 Q180.55 95.60 178.45 108.50 Q176.35 95.60 178.45 81.50Z" fill="url(#s2)" filter="url(#b1)"/>
<rect x="178.05" y="90.0" width="0.80" height="10.0" fill="#21918c" opacity="0.30" filter="url(#b1)"/>
<path d="M164.25 84.60 Q166.05 95.60 164.25 105.00 Q162.45 95.60 164.25 84.60Z" fill="url(#s2s)" filter="url(#b1)"/>
<rect x="163.95" y="92" width="0.6" height="7" fill="#228b8d" opacity="0.35" filter="url(#b1)"/>
<path d="M151.82 84.60 Q153.62 95.60 151.82 105.00 Q150.02 95.60 151.82 84.60Z" fill="url(#s2s)" filter="url(#b1)"/>
<rect x="151.52" y="92" width="0.6" height="7" fill="#228b8d" opacity="0.35" filter="url(#b1)"/>
<path d="M140.86 84.60 Q142.66 95.60 140.86 105.00 Q139.06 95.60 140.86 84.60Z" fill="url(#s2s)" filter="url(#b1)"/>
<rect x="140.56" y="92" width="0.6" height="7" fill="#228b8d" opacity="0.35" filter="url(#b1)"/>
<path d="M131.11 84.60 Q132.91 95.60 131.11 105.00 Q129.31 95.60 131.11 84.60Z" fill="url(#s2s)" filter="url(#b1)"/>
<rect x="130.81" y="92" width="0.6" height="7" fill="#228b8d" opacity="0.35" filter="url(#b1)"/>
<path d="M122.39 84.60 Q124.19 95.60 122.39 105.00 Q120.59 95.60 122.39 84.60Z" fill="url(#s2s)" filter="url(#b1)"/>
<rect x="122.09" y="92" width="0.6" height="7" fill="#228b8d" opacity="0.35" filter="url(#b1)"/>
<path d="M114.54 84.60 Q116.34 95.60 114.54 105.00 Q112.74 95.60 114.54 84.60Z" fill="url(#s2s)" filter="url(#b1)"/>
<rect x="114.24" y="92" width="0.6" height="7" fill="#228b8d" opacity="0.35" filter="url(#b1)"/>
<path d="M107.44 84.60 Q109.24 95.60 107.44 105.00 Q105.64 95.60 107.44 84.60Z" fill="url(#s2s)" filter="url(#b1)"/>
<rect x="107.14" y="92" width="0.6" height="7" fill="#228b8d" opacity="0.35" filter="url(#b1)"/>
<path d="M100.99 84.60 Q102.79 95.60 100.99 105.00 Q99.19 95.60 100.99 84.60Z" fill="url(#s2s)" filter="url(#b1)"/>
<rect x="100.69" y="92" width="0.6" height="7" fill="#228b8d" opacity="0.35" filter="url(#b1)"/>
<path d="M95.09 84.60 Q96.89 95.60 95.09 105.00 Q93.29 95.60 95.09 84.60Z" fill="url(#s2s)" filter="url(#b1)"/>
<rect x="94.79" y="92" width="0.6" height="7" fill="#228b8d" opacity="0.35" filter="url(#b1)"/>
<path d="M89.69 84.60 Q91.49 95.60 89.69 105.00 Q87.89 95.60 89.69 84.60Z" fill="url(#s2s)" filter="url(#b1)"/>
<rect x="89.39" y="92" width="0.6" height="7" fill="#228b8d" opacity="0.35" filter="url(#b1)"/>
<path d="M84.72 84.60 Q86.52 95.60 84.72 105.00 Q82.92 95.60 84.72 84.60Z" fill="url(#s2s)" filter="url(#b1)"/>
<rect x="84.42" y="92" width="0.6" height="7" fill="#228b8d" opacity="0.35" filter="url(#b1)"/>
<rect x="223.2" y="86" width="0.8" height="19" fill="#22a884" opacity="0.45" filter="url(#b1)"/>
<circle cx="338.22" cy="115.9" r="3.0" fill="#fff"/>
<circle cx="296.80" cy="115.9" r="3.0" fill="#fff"/>
<circle cx="263.66" cy="115.9" r="3.0" fill="#fff"/>
<circle cx="236.55" cy="115.9" r="3.0" fill="#fff"/>
<circle cx="213.95" cy="115.9" r="3.0" fill="#fff"/>
<circle cx="194.84" cy="115.9" r="3.0" fill="#fff"/>
<circle cx="178.45" cy="115.9" r="3.0" fill="#fff"/>
<circle cx="164.25" cy="115.9" r="3.0" fill="#fff"/>
<circle cx="151.82" cy="115.9" r="3.0" fill="#fff"/>
<circle cx="140.86" cy="115.9" r="3.0" fill="#fff"/>
<circle cx="131.11" cy="115.9" r="3.0" fill="#fff"/>
<circle cx="122.39" cy="115.9" r="3.0" fill="#fff"/>
<circle cx="114.54" cy="115.9" r="3.0" fill="#fff"/>
<circle cx="107.44" cy="115.9" r="3.0" fill="#fff"/>
<circle cx="100.99" cy="115.9" r="3.0" fill="#fff"/>
<circle cx="95.09" cy="115.9" r="3.0" fill="#fff"/>
<circle cx="89.69" cy="115.9" r="3.0" fill="#fff"/>
<circle cx="84.72" cy="115.9" r="3.0" fill="#fff"/>
</g>
<rect x="85.00" y="3.90" width="279.00" height="52.10" fill="none" stroke="#000" stroke-width="1.40"/>
<rect x="85.00" y="68.45" width="279.00" height="52.35" fill="none" stroke="#000" stroke-width="1.40"/>
<line x1="79.70" y1="12.28" x2="84.30" y2="12.28" stroke="#000" stroke-width="1.30"/>
<text x="74.90" y="15.73" font-size="8.9" text-anchor="end" fill="#000" >10</text>
<line x1="79.70" y1="76.85" x2="84.30" y2="76.85" stroke="#000" stroke-width="1.30"/>
<text x="74.90" y="80.30" font-size="8.9" text-anchor="end" fill="#000" >10</text>
<line x1="79.70" y1="29.80" x2="84.30" y2="29.80" stroke="#000" stroke-width="1.30"/>
<text x="74.90" y="33.25" font-size="8.9" text-anchor="end" fill="#000" >0</text>
<line x1="79.70" y1="94.45" x2="84.30" y2="94.45" stroke="#000" stroke-width="1.30"/>
<text x="74.90" y="97.90" font-size="8.9" text-anchor="end" fill="#000" >0</text>
<line x1="79.70" y1="47.32" x2="84.30" y2="47.32" stroke="#000" stroke-width="1.30"/>
<text x="74.90" y="50.77" font-size="8.9" text-anchor="end" fill="#000" >−10</text>
<line x1="79.70" y1="112.05" x2="84.30" y2="112.05" stroke="#000" stroke-width="1.30"/>
<text x="74.90" y="115.50" font-size="8.9" text-anchor="end" fill="#000" >−10</text>
<line x1="114.89" y1="56.70" x2="114.89" y2="61.30" stroke="#000" stroke-width="1.30"/>
<line x1="114.89" y1="121.50" x2="114.89" y2="126.10" stroke="#000" stroke-width="1.30"/>
<text x="114.89" y="137.30" font-size="8.9" text-anchor="middle" fill="#000" >15</text>
<line x1="164.71" y1="56.70" x2="164.71" y2="61.30" stroke="#000" stroke-width="1.30"/>
<line x1="164.71" y1="121.50" x2="164.71" y2="126.10" stroke="#000" stroke-width="1.30"/>
<text x="164.71" y="137.30" font-size="8.9" text-anchor="middle" fill="#000" >20</text>
<line x1="214.54" y1="56.70" x2="214.54" y2="61.30" stroke="#000" stroke-width="1.30"/>
<line x1="214.54" y1="121.50" x2="214.54" y2="126.10" stroke="#000" stroke-width="1.30"/>
<text x="214.54" y="137.30" font-size="8.9" text-anchor="middle" fill="#000" >25</text>
<line x1="264.36" y1="56.70" x2="264.36" y2="61.30" stroke="#000" stroke-width="1.30"/>
<line x1="264.36" y1="121.50" x2="264.36" y2="126.10" stroke="#000" stroke-width="1.30"/>
<text x="264.36" y="137.30" font-size="8.9" text-anchor="middle" fill="#000" >30</text>
<line x1="314.18" y1="56.70" x2="314.18" y2="61.30" stroke="#000" stroke-width="1.30"/>
<line x1="314.18" y1="121.50" x2="314.18" y2="126.10" stroke="#000" stroke-width="1.30"/>
<text x="314.18" y="137.30" font-size="8.9" text-anchor="middle" fill="#000" >35</text>
<line x1="364.00" y1="56.70" x2="364.00" y2="61.30" stroke="#000" stroke-width="1.30"/>
<line x1="364.00" y1="121.50" x2="364.00" y2="126.10" stroke="#000" stroke-width="1.30"/>
<text x="364.00" y="137.30" font-size="8.9" text-anchor="middle" fill="#000" >40</text>
<text transform="translate(55.00 30.75) rotate(-90)" font-size="10.1" text-anchor="middle" fill="#000"><tspan font-style="italic">V</tspan><tspan font-size="7.6" dy="2.3">c</tspan><tspan dy="-2.3"> (mV)</tspan></text>
<text transform="translate(55.00 95.42) rotate(-90)" font-size="10.1" text-anchor="middle" fill="#000"><tspan font-style="italic">V</tspan><tspan font-size="7.6" dy="2.3">c</tspan><tspan dy="-2.3"> (mV)</tspan></text>
<text x="202.50" y="149.80" font-size="10.1" text-anchor="start" fill="#000" letter-spacing="0.3"><tspan font-style="italic">f</tspan><tspan font-size="7.6" dy="2.3">bb</tspan><tspan dy="-2.3"> (MHz)</tspan></text>
<text x="198.20" y="13.50" font-size="10.1" text-anchor="middle" fill="#fff" style="stroke:#fff"><tspan font-style="italic">n</tspan> = 13</text>
<text x="239.70" y="13.50" font-size="10.1" text-anchor="middle" fill="#fff" style="stroke:#fff"><tspan font-style="italic">n</tspan> = 11</text>
<text x="298.50" y="13.50" font-size="10.1" text-anchor="middle" fill="#fff" style="stroke:#fff"><tspan font-style="italic">n</tspan> = 9</text>
<polyline points="340.0,8.6 350.2,8.6 350.2,18.1 360.3,18.1" fill="none" stroke="#fff" stroke-width="1.5"/>
<polyline points="340.8,83.2 351.7,72.3 351.2,83.6 361,72.8" fill="none" stroke="#fff" stroke-width="1.5" stroke-linejoin="miter"/>
<polyline points="338.8,180.6 349.9,169.4 348.9,181.1 359.3,170.6" fill="none" stroke="#000" stroke-width="1.25"/>
<rect x="369.30" y="31.50" width="5.90" height="62.80" fill="url(#gcb)" stroke="#000" stroke-width="1.5"/>
<line x1="375.20" y1="31.50" x2="379.70" y2="31.50" stroke="#000" stroke-width="1.4"/>
<text x="384.90" y="34.50" font-size="8.9" text-anchor="start" fill="#000" >100</text>
<line x1="375.20" y1="62.90" x2="379.70" y2="62.90" stroke="#000" stroke-width="1.4"/>
<text x="384.90" y="65.90" font-size="8.9" text-anchor="start" fill="#000" >50</text>
<line x1="375.20" y1="94.30" x2="379.70" y2="94.30" stroke="#000" stroke-width="1.4"/>
<text x="384.90" y="97.30" font-size="8.9" text-anchor="start" fill="#000" >0</text>
<text y="23.2" fill="#000"><tspan x="366.8" font-style="italic" font-size="11.8">I</tspan><tspan x="370.4" dy="0.9" font-size="7">SD</tspan><tspan x="381.5" dy="-2.9" font-size="9.5">(nA)</tspan></text>
<g clip-path="url(#c3)" fill="#000">
<rect x="102.54" y="217.00" width="260.96" height="1.80"/>
<circle cx="246.3" cy="217.9" r="1.75"/>
<circle cx="235.8" cy="217.9" r="1.75"/>
<circle cx="335.6" cy="218.4" r="1.75"/>
<circle cx="221.8" cy="218.8" r="1.75"/>
<circle cx="271.9" cy="218.0" r="1.75"/>
<circle cx="256.7" cy="217.8" r="1.75"/>
<circle cx="108.8" cy="217.4" r="1.75"/>
<circle cx="210.9" cy="218.5" r="1.75"/>
<circle cx="176.5" cy="218.3" r="1.75"/>
<circle cx="143.5" cy="217.3" r="1.75"/>
<circle cx="244.7" cy="218.2" r="1.75"/>
<circle cx="160.5" cy="218.0" r="1.75"/>
<circle cx="203.8" cy="218.2" r="1.75"/>
<circle cx="323.2" cy="218.6" r="1.75"/>
<circle cx="201.2" cy="218.6" r="1.75"/>
<circle cx="248.1" cy="218.2" r="1.75"/>
<circle cx="196.9" cy="218.4" r="1.75"/>
<circle cx="224.9" cy="217.6" r="1.75"/>
<circle cx="172.8" cy="218.5" r="1.75"/>
<circle cx="327.1" cy="217.3" r="1.75"/>
<circle cx="255.5" cy="218.0" r="1.75"/>
<circle cx="221.2" cy="218.0" r="1.75"/>
<circle cx="156.1" cy="218.7" r="1.75"/>
<circle cx="125.3" cy="217.6" r="1.75"/>
<circle cx="228.7" cy="217.6" r="1.75"/>
<circle cx="297.4" cy="218.0" r="1.75"/>
<circle cx="282.9" cy="218.0" r="1.75"/>
<circle cx="276.9" cy="217.6" r="1.75"/>
<circle cx="191.2" cy="217.3" r="1.75"/>
<circle cx="218.7" cy="218.2" r="1.75"/>
<circle cx="118.6" cy="218.2" r="1.75"/>
<circle cx="272.3" cy="217.9" r="1.75"/>
<circle cx="291.5" cy="216.8" r="1.75"/>
<circle cx="120.0" cy="218.3" r="1.75"/>
<circle cx="121.5" cy="218.4" r="1.75"/>
<circle cx="128.7" cy="218.5" r="1.75"/>
<circle cx="136.3" cy="217.7" r="1.75"/>
<circle cx="351.0" cy="218.6" r="1.75"/>
<circle cx="280.4" cy="217.3" r="1.75"/>
<circle cx="171.4" cy="218.5" r="1.75"/>
<circle cx="344.4" cy="218.4" r="1.75"/>
<circle cx="227.9" cy="218.2" r="1.75"/>
<circle cx="322.3" cy="218.1" r="1.75"/>
<circle cx="341.1" cy="217.8" r="1.75"/>
<circle cx="267.9" cy="218.1" r="1.75"/>
<circle cx="153.8" cy="217.1" r="1.75"/>
<circle cx="152.7" cy="218.1" r="1.75"/>
<circle cx="356.2" cy="218.2" r="1.75"/>
<circle cx="324.6" cy="218.1" r="1.75"/>
<circle cx="230.1" cy="218.7" r="1.75"/>
<circle cx="344.7" cy="218.7" r="1.75"/>
<circle cx="221.4" cy="217.6" r="1.75"/>
<circle cx="159.4" cy="218.6" r="1.75"/>
<circle cx="139.9" cy="218.1" r="1.75"/>
<circle cx="210.6" cy="218.1" r="1.75"/>
<circle cx="227.5" cy="217.7" r="1.75"/>
<circle cx="174.3" cy="218.5" r="1.75"/>
<circle cx="216.2" cy="218.7" r="1.75"/>
<circle cx="120.8" cy="218.8" r="1.75"/>
<circle cx="321.1" cy="218.3" r="1.75"/>
<circle cx="146.9" cy="218.1" r="1.75"/>
<circle cx="336.2" cy="217.9" r="1.75"/>
<circle cx="191.4" cy="218.0" r="1.75"/>
<circle cx="143.8" cy="218.1" r="1.75"/>
<circle cx="283.9" cy="218.4" r="1.75"/>
<circle cx="196.3" cy="218.2" r="1.75"/>
<circle cx="292.2" cy="218.5" r="1.75"/>
<circle cx="212.0" cy="218.1" r="1.75"/>
<circle cx="331.5" cy="217.8" r="1.75"/>
<circle cx="165.3" cy="218.4" r="1.75"/>
<circle cx="318.6" cy="217.3" r="1.75"/>
<circle cx="320.1" cy="218.7" r="1.75"/>
<circle cx="330.1" cy="218.7" r="1.75"/>
<circle cx="319.6" cy="218.7" r="1.75"/>
<circle cx="323.9" cy="217.9" r="1.75"/>
<circle cx="215.0" cy="218.0" r="1.75"/>
<circle cx="243.3" cy="217.5" r="1.75"/>
<circle cx="162.8" cy="218.6" r="1.75"/>
<circle cx="354.4" cy="218.2" r="1.75"/>
<circle cx="350.1" cy="217.8" r="1.75"/>
<circle cx="285.3" cy="218.7" r="1.75"/>
<circle cx="143.3" cy="217.2" r="1.75"/>
<circle cx="357.7" cy="217.7" r="1.75"/>
<circle cx="121.9" cy="218.8" r="1.75"/>
<circle cx="227.5" cy="218.2" r="1.75"/>
<circle cx="122.5" cy="218.7" r="1.75"/>
<circle cx="243.1" cy="218.7" r="1.75"/>
<circle cx="254.8" cy="216.4" r="1.75"/>
<circle cx="264.5" cy="217.6" r="1.75"/>
<circle cx="143.6" cy="217.6" r="1.75"/>
<circle cx="174.4" cy="218.4" r="1.75"/>
<circle cx="160.8" cy="218.5" r="1.75"/>
<circle cx="166.0" cy="218.8" r="1.75"/>
<circle cx="110.5" cy="218.8" r="1.75"/>
<circle cx="223.0" cy="218.4" r="1.75"/>
<circle cx="310.1" cy="218.0" r="1.75"/>
<circle cx="253.4" cy="218.1" r="1.75"/>
<circle cx="114.6" cy="217.5" r="1.75"/>
<circle cx="217.2" cy="217.7" r="1.75"/>
<circle cx="137.6" cy="217.4" r="1.75"/>
<circle cx="162.0" cy="218.3" r="1.75"/>
<circle cx="209.6" cy="218.1" r="1.75"/>
<circle cx="346.8" cy="218.2" r="1.75"/>
<circle cx="285.7" cy="218.4" r="1.75"/>
<circle cx="250.5" cy="218.4" r="1.75"/>
<circle cx="211.4" cy="218.7" r="1.75"/>
<circle cx="103.7" cy="218.1" r="1.75"/>
<circle cx="118.6" cy="218.0" r="1.75"/>
<circle cx="179.4" cy="217.4" r="1.75"/>
<circle cx="267.6" cy="218.7" r="1.75"/>
<circle cx="224.1" cy="218.6" r="1.75"/>
<circle cx="318.7" cy="218.6" r="1.75"/>
<circle cx="113.5" cy="218.5" r="1.75"/>
<circle cx="218.9" cy="218.1" r="1.75"/>
<circle cx="277.8" cy="217.6" r="1.75"/>
<circle cx="132.1" cy="218.6" r="1.75"/>
<circle cx="235.2" cy="218.2" r="1.75"/>
<circle cx="338.5" cy="218.1" r="1.75"/>
<circle cx="192.7" cy="218.7" r="1.75"/>
<circle cx="210.7" cy="218.6" r="1.75"/>
<circle cx="294.4" cy="218.7" r="1.75"/>
<circle cx="211.5" cy="215.9" r="1.75"/>
<circle cx="178.3" cy="218.6" r="1.75"/>
<circle cx="308.4" cy="218.2" r="1.75"/>
<circle cx="336.3" cy="218.6" r="1.75"/>
<circle cx="327.6" cy="218.7" r="1.75"/>
<circle cx="234.6" cy="218.0" r="1.75"/>
<circle cx="301.4" cy="218.7" r="1.75"/>
<circle cx="147.7" cy="217.9" r="1.75"/>
<circle cx="121.6" cy="218.7" r="1.75"/>
<circle cx="261.5" cy="217.1" r="1.75"/>
<circle cx="308.9" cy="218.7" r="1.75"/>
<circle cx="359.0" cy="218.6" r="1.75"/>
<circle cx="253.1" cy="218.2" r="1.75"/>
<circle cx="272.3" cy="217.0" r="1.75"/>
<circle cx="329.2" cy="217.4" r="1.75"/>
<circle cx="220.5" cy="217.2" r="1.75"/>
<circle cx="125.9" cy="218.5" r="1.75"/>
<circle cx="215.3" cy="218.7" r="1.75"/>
<circle cx="251.3" cy="217.6" r="1.75"/>
<circle cx="317.6" cy="218.0" r="1.75"/>
<circle cx="205.6" cy="218.8" r="1.75"/>
<circle cx="296.9" cy="217.0" r="1.75"/>
<circle cx="173.1" cy="218.1" r="1.75"/>
<circle cx="347.2" cy="218.3" r="1.75"/>
<circle cx="242.8" cy="218.5" r="1.75"/>
<circle cx="362.4" cy="218.7" r="1.75"/>
<circle cx="295.9" cy="218.6" r="1.75"/>
<circle cx="112.8" cy="218.4" r="1.75"/>
<circle cx="293.5" cy="217.5" r="1.75"/>
<circle cx="246.3" cy="218.7" r="1.75"/>
<circle cx="252.5" cy="218.4" r="1.75"/>
<circle cx="115.8" cy="217.0" r="1.75"/>
<circle cx="359.1" cy="217.6" r="1.75"/>
<circle cx="349.3" cy="218.6" r="1.75"/>
<circle cx="292.0" cy="218.6" r="1.75"/>
<circle cx="244.5" cy="217.0" r="1.75"/>
<circle cx="104.3" cy="217.0" r="1.75"/>
<circle cx="205.0" cy="217.7" r="1.75"/>
<circle cx="342.7" cy="218.5" r="1.75"/>
<circle cx="213.2" cy="217.8" r="1.75"/>
<circle cx="188.2" cy="218.4" r="1.75"/>
<circle cx="192.6" cy="218.6" r="1.75"/>
<circle cx="274.9" cy="218.7" r="1.75"/>
<circle cx="146.9" cy="217.5" r="1.75"/>
<circle cx="284.7" cy="217.6" r="1.75"/>
<circle cx="178.7" cy="218.0" r="1.75"/>
<circle cx="203.9" cy="218.1" r="1.75"/>
<circle cx="142.3" cy="218.5" r="1.75"/>
<circle cx="202.2" cy="218.3" r="1.75"/>
<circle cx="357.9" cy="217.4" r="1.75"/>
<circle cx="210.2" cy="218.4" r="1.75"/>
<circle cx="340.9" cy="218.7" r="1.75"/>
<circle cx="124.5" cy="217.3" r="1.75"/>
<circle cx="197.4" cy="217.3" r="1.75"/>
<circle cx="242.1" cy="218.7" r="1.75"/>
<circle cx="157.3" cy="216.0" r="1.75"/>
<circle cx="278.3" cy="218.2" r="1.75"/>
<circle cx="297.1" cy="218.4" r="1.75"/>
<circle cx="221.5" cy="217.5" r="1.75"/>
<circle cx="330.5" cy="217.7" r="1.75"/>
<circle cx="362.0" cy="218.2" r="1.75"/>
<circle cx="343.9" cy="217.3" r="1.75"/>
<circle cx="264.9" cy="218.4" r="1.75"/>
<circle cx="281.1" cy="217.1" r="1.75"/>
<circle cx="221.4" cy="218.5" r="1.75"/>
<circle cx="123.9" cy="218.2" r="1.75"/>
<circle cx="276.5" cy="218.4" r="1.75"/>
<circle cx="352.9" cy="218.1" r="1.75"/>
<circle cx="234.6" cy="217.7" r="1.75"/>
<circle cx="118.5" cy="218.3" r="1.75"/>
<circle cx="260.5" cy="218.0" r="1.75"/>
<circle cx="325.2" cy="218.7" r="1.75"/>
<circle cx="264.4" cy="218.5" r="1.75"/>
<circle cx="219.4" cy="216.7" r="1.75"/>
<circle cx="357.6" cy="218.7" r="1.75"/>
<circle cx="265.3" cy="218.4" r="1.75"/>
<circle cx="354.6" cy="218.1" r="1.75"/>
<circle cx="336.1" cy="218.6" r="1.75"/>
<circle cx="312.8" cy="218.8" r="1.75"/>
<circle cx="345.7" cy="218.4" r="1.75"/>
<circle cx="201.9" cy="217.5" r="1.75"/>
<circle cx="296.9" cy="218.6" r="1.75"/>
<circle cx="232.7" cy="218.6" r="1.75"/>
<circle cx="120.8" cy="218.5" r="1.75"/>
<circle cx="130.4" cy="217.8" r="1.75"/>
<circle cx="147.9" cy="218.6" r="1.75"/>
<circle cx="307.2" cy="218.6" r="1.75"/>
<circle cx="312.4" cy="218.7" r="1.75"/>
<circle cx="308.0" cy="218.1" r="1.75"/>
<circle cx="230.4" cy="218.5" r="1.75"/>
<circle cx="266.5" cy="218.0" r="1.75"/>
<circle cx="158.3" cy="218.6" r="1.75"/>
<circle cx="250.2" cy="218.6" r="1.75"/>
<circle cx="186.9" cy="217.9" r="1.75"/>
<circle cx="136.1" cy="217.4" r="1.75"/>
<circle cx="235.8" cy="218.0" r="1.75"/>
<circle cx="186.5" cy="217.7" r="1.75"/>
<circle cx="320.3" cy="218.4" r="1.75"/>
<circle cx="145.5" cy="218.3" r="1.75"/>
<circle cx="106.5" cy="217.8" r="1.75"/>
<circle cx="338.1" cy="218.6" r="1.75"/>
<circle cx="229.7" cy="217.9" r="1.75"/>
<circle cx="240.5" cy="218.6" r="1.75"/>
<circle cx="245.7" cy="218.3" r="1.75"/>
<circle cx="321.4" cy="218.6" r="1.75"/>
<circle cx="130.1" cy="218.1" r="1.75"/>
<circle cx="245.7" cy="218.8" r="1.75"/>
<circle cx="191.8" cy="218.4" r="1.75"/>
<circle cx="263.4" cy="218.6" r="1.75"/>
<circle cx="117.1" cy="218.2" r="1.75"/>
<circle cx="143.6" cy="218.6" r="1.75"/>
<circle cx="240.4" cy="218.1" r="1.75"/>
<circle cx="166.5" cy="218.3" r="1.75"/>
<circle cx="119.9" cy="218.0" r="1.75"/>
<circle cx="283.6" cy="218.1" r="1.75"/>
<circle cx="301.5" cy="217.9" r="1.75"/>
<circle cx="141.4" cy="218.3" r="1.75"/>
<circle cx="247.2" cy="218.8" r="1.75"/>
<circle cx="322.6" cy="218.5" r="1.75"/>
<circle cx="225.8" cy="217.9" r="1.75"/>
<circle cx="205.2" cy="218.0" r="1.75"/>
<circle cx="341.0" cy="218.4" r="1.75"/>
<circle cx="291.3" cy="217.4" r="1.75"/>
<circle cx="287.7" cy="218.7" r="1.75"/>
<circle cx="139.9" cy="217.1" r="1.75"/>
<circle cx="353.0" cy="217.8" r="1.75"/>
<circle cx="104.4" cy="218.4" r="1.75"/>
<circle cx="218.7" cy="218.1" r="1.75"/>
<circle cx="275.6" cy="217.9" r="1.75"/>
<circle cx="223.1" cy="218.7" r="1.75"/>
<circle cx="278.9" cy="218.1" r="1.75"/>
<circle cx="267.8" cy="218.3" r="1.75"/>
<circle cx="166.6" cy="218.5" r="1.75"/>
<circle cx="323.0" cy="217.8" r="1.75"/>
<circle cx="317.6" cy="218.7" r="1.75"/>
<circle cx="122.9" cy="218.4" r="1.75"/>
<circle cx="331.3" cy="217.7" r="1.75"/>
<circle cx="312.1" cy="218.0" r="1.75"/>
<circle cx="172.0" cy="218.6" r="1.75"/>
<circle cx="102.9" cy="218.3" r="1.75"/>
<circle cx="149.3" cy="218.6" r="1.75"/>
<circle cx="166.5" cy="217.4" r="1.75"/>
<circle cx="218.5" cy="218.1" r="1.75"/>
<circle cx="234.0" cy="218.6" r="1.75"/>
<circle cx="156.5" cy="218.2" r="1.75"/>
<circle cx="295.4" cy="218.8" r="1.75"/>
<circle cx="284.7" cy="218.7" r="1.75"/>
<circle cx="234.2" cy="218.1" r="1.75"/>
<circle cx="171.2" cy="218.1" r="1.75"/>
<circle cx="356.4" cy="218.6" r="1.75"/>
<circle cx="288.7" cy="218.6" r="1.75"/>
<circle cx="193.0" cy="218.8" r="1.75"/>
<circle cx="150.9" cy="218.2" r="1.75"/>
<circle cx="292.9" cy="218.2" r="1.75"/>
<circle cx="295.8" cy="218.3" r="1.75"/>
<circle cx="178.3" cy="217.3" r="1.75"/>
<circle cx="276.9" cy="218.5" r="1.75"/>
<circle cx="240.0" cy="218.3" r="1.75"/>
<circle cx="283.9" cy="217.9" r="1.75"/>
<circle cx="221.8" cy="218.0" r="1.75"/>
<circle cx="195.4" cy="217.8" r="1.75"/>
<circle cx="128.4" cy="217.9" r="1.75"/>
<circle cx="250.0" cy="217.7" r="1.75"/>
<circle cx="135.2" cy="218.6" r="1.75"/>
<circle cx="277.2" cy="217.9" r="1.75"/>
<circle cx="133.2" cy="218.4" r="1.75"/>
<circle cx="278.1" cy="218.5" r="1.75"/>
<circle cx="298.2" cy="218.5" r="1.75"/>
<circle cx="188.4" cy="218.6" r="1.75"/>
<circle cx="135.3" cy="217.6" r="1.75"/>
<circle cx="175.9" cy="218.4" r="1.75"/>
<circle cx="325.9" cy="217.8" r="1.75"/>
<circle cx="270.2" cy="218.7" r="1.75"/>
<circle cx="217.0" cy="218.6" r="1.75"/>
<circle cx="361.2" cy="217.1" r="1.75"/>
<circle cx="298.8" cy="218.5" r="1.75"/>
<circle cx="150.6" cy="218.6" r="1.75"/>
<circle cx="209.1" cy="217.8" r="1.75"/>
<circle cx="270.0" cy="218.8" r="1.75"/>
<circle cx="313.4" cy="218.8" r="1.75"/>
<circle cx="310.0" cy="218.8" r="1.75"/>
<circle cx="192.8" cy="218.6" r="1.75"/>
<circle cx="123.4" cy="217.9" r="1.75"/>
<circle cx="296.9" cy="217.4" r="1.75"/>
<circle cx="269.2" cy="217.0" r="1.75"/>
<circle cx="218.3" cy="218.0" r="1.75"/>
<circle cx="115.5" cy="218.0" r="1.75"/>
<circle cx="289.8" cy="218.7" r="1.75"/>
<circle cx="315.0" cy="218.1" r="1.75"/>
<circle cx="188.4" cy="217.5" r="1.75"/>
<circle cx="179.5" cy="218.1" r="1.75"/>
<circle cx="249.0" cy="218.4" r="1.75"/>
<circle cx="282.7" cy="218.6" r="1.75"/>
<circle cx="183.1" cy="217.8" r="1.75"/>
<circle cx="115.4" cy="218.5" r="1.75"/>
<circle cx="273.3" cy="218.2" r="1.75"/>
<circle cx="107.5" cy="218.7" r="1.75"/>
<circle cx="317.8" cy="218.8" r="1.75"/>
<circle cx="194.8" cy="218.5" r="1.75"/>
<circle cx="185.6" cy="218.7" r="1.75"/>
<circle cx="344.3" cy="218.5" r="1.75"/>
<circle cx="334.5" cy="217.8" r="1.75"/>
<circle cx="153.4" cy="217.7" r="1.75"/>
<circle cx="197.9" cy="218.2" r="1.75"/>
<circle cx="124.7" cy="217.3" r="1.75"/>
<circle cx="122.9" cy="218.2" r="1.75"/>
<circle cx="271.8" cy="218.0" r="1.75"/>
<circle cx="160.2" cy="218.5" r="1.75"/>
<circle cx="140.9" cy="217.6" r="1.75"/>
<circle cx="145.9" cy="218.6" r="1.75"/>
<circle cx="255.5" cy="218.8" r="1.75"/>
<circle cx="179.6" cy="218.1" r="1.75"/>
<circle cx="269.9" cy="218.3" r="1.75"/>
<circle cx="210.6" cy="218.8" r="1.75"/>
<circle cx="235.0" cy="218.4" r="1.75"/>
<circle cx="340.5" cy="218.0" r="1.75"/>
<circle cx="270.9" cy="217.9" r="1.75"/>
<circle cx="167.8" cy="217.9" r="1.75"/>
<circle cx="262.9" cy="217.4" r="1.75"/>
<circle cx="144.6" cy="218.5" r="1.75"/>
<circle cx="296.3" cy="217.3" r="1.75"/>
<circle cx="114.2" cy="217.9" r="1.75"/>
<circle cx="343.6" cy="218.6" r="1.75"/>
<circle cx="247.6" cy="218.1" r="1.75"/>
<circle cx="326.7" cy="217.6" r="1.75"/>
<circle cx="130.8" cy="217.1" r="1.75"/>
<circle cx="344.2" cy="218.0" r="1.75"/>
<circle cx="112.5" cy="217.3" r="1.75"/>
<circle cx="274.7" cy="218.8" r="1.75"/>
<circle cx="327.3" cy="217.8" r="1.75"/>
<circle cx="261.7" cy="217.6" r="1.75"/>
<circle cx="145.5" cy="218.8" r="1.75"/>
<circle cx="108.1" cy="217.8" r="1.75"/>
<circle cx="316.6" cy="217.9" r="1.75"/>
<circle cx="116.1" cy="217.7" r="1.75"/>
<circle cx="286.6" cy="217.9" r="1.75"/>
<circle cx="143.3" cy="218.4" r="1.75"/>
<circle cx="190.1" cy="217.8" r="1.75"/>
<circle cx="212.1" cy="217.9" r="1.75"/>
<circle cx="180.3" cy="218.7" r="1.75"/>
<circle cx="356.1" cy="218.6" r="1.75"/>
<circle cx="181.6" cy="218.7" r="1.75"/>
<circle cx="252.4" cy="218.7" r="1.75"/>
<circle cx="198.8" cy="218.5" r="1.75"/>
<circle cx="201.4" cy="218.7" r="1.75"/>
<circle cx="233.8" cy="218.0" r="1.75"/>
<circle cx="254.9" cy="218.6" r="1.75"/>
<circle cx="194.4" cy="218.7" r="1.75"/>
<circle cx="264.1" cy="217.8" r="1.75"/>
<circle cx="300.1" cy="218.0" r="1.75"/>
<circle cx="172.1" cy="217.9" r="1.75"/>
<circle cx="272.8" cy="218.1" r="1.75"/>
<circle cx="193.2" cy="218.3" r="1.75"/>
<circle cx="353.2" cy="218.3" r="1.75"/>
<circle cx="325.7" cy="218.1" r="1.75"/>
<circle cx="329.9" cy="216.5" r="1.75"/>
<circle cx="179.3" cy="217.9" r="1.75"/>
<circle cx="326.1" cy="218.7" r="1.75"/>
<circle cx="233.8" cy="217.5" r="1.75"/>
<circle cx="342.5" cy="218.1" r="1.75"/>
<circle cx="130.8" cy="218.7" r="1.75"/>
<circle cx="302.6" cy="216.6" r="1.75"/>
<circle cx="215.5" cy="217.8" r="1.75"/>
<circle cx="108.5" cy="218.4" r="1.75"/>
<circle cx="223.7" cy="217.8" r="1.75"/>
<circle cx="217.6" cy="218.7" r="1.75"/>
<circle cx="358.7" cy="218.3" r="1.75"/>
<circle cx="228.3" cy="218.6" r="1.75"/>
<circle cx="231.8" cy="218.3" r="1.75"/>
<circle cx="318.8" cy="217.7" r="1.75"/>
<circle cx="221.7" cy="217.9" r="1.75"/>
<circle cx="265.4" cy="217.7" r="1.75"/>
<circle cx="161.2" cy="218.5" r="1.75"/>
<circle cx="295.8" cy="218.3" r="1.75"/>
<circle cx="177.5" cy="218.4" r="1.75"/>
<circle cx="360.6" cy="218.8" r="1.75"/>
<circle cx="159.4" cy="218.6" r="1.75"/>
<circle cx="218.3" cy="218.6" r="1.75"/>
<circle cx="337.6" cy="218.0" r="1.75"/>
<circle cx="332.3" cy="218.7" r="1.75"/>
<circle cx="236.4" cy="218.7" r="1.75"/>
<circle cx="146.6" cy="217.8" r="1.75"/>
<circle cx="344.7" cy="218.2" r="1.75"/>
<circle cx="343.6" cy="218.6" r="1.75"/>
<circle cx="347.4" cy="218.3" r="1.75"/>
<circle cx="163.3" cy="218.7" r="1.75"/>
<circle cx="362.2" cy="218.8" r="1.75"/>
<circle cx="311.6" cy="217.3" r="1.75"/>
<circle cx="204.9" cy="217.8" r="1.75"/>
<circle cx="160.7" cy="218.6" r="1.75"/>
<circle cx="196.2" cy="218.1" r="1.75"/>
<circle cx="188.0" cy="218.4" r="1.75"/>
<circle cx="276.8" cy="218.4" r="1.75"/>
<circle cx="177.3" cy="218.1" r="1.75"/>
<circle cx="127.0" cy="218.4" r="1.75"/>
<circle cx="350.2" cy="217.8" r="1.75"/>
<circle cx="317.5" cy="218.5" r="1.75"/>
<circle cx="280.7" cy="218.7" r="1.75"/>
<circle cx="219.1" cy="218.4" r="1.75"/>
<circle cx="183.6" cy="217.1" r="1.75"/>
<circle cx="204.3" cy="218.6" r="1.75"/>
<circle cx="209.2" cy="218.3" r="1.75"/>
<circle cx="265.1" cy="218.4" r="1.75"/>
<circle cx="356.9" cy="218.6" r="1.75"/>
<circle cx="259.0" cy="218.2" r="1.75"/>
<circle cx="297.6" cy="217.9" r="1.75"/>
<circle cx="177.5" cy="218.1" r="1.75"/>
<circle cx="321.2" cy="218.5" r="1.75"/>
<circle cx="175.2" cy="218.5" r="1.75"/>
<circle cx="201.1" cy="218.0" r="1.75"/>
<circle cx="163.9" cy="217.9" r="1.75"/>
<circle cx="296.4" cy="218.7" r="1.75"/>
<circle cx="148.1" cy="217.6" r="1.75"/>
<circle cx="171.1" cy="217.4" r="1.75"/>
<circle cx="155.0" cy="218.4" r="1.75"/>
<circle cx="271.7" cy="218.6" r="1.75"/>
<circle cx="334.4" cy="218.4" r="1.75"/>
<circle cx="352.7" cy="218.1" r="1.75"/>
<circle cx="337.6" cy="218.2" r="1.75"/>
<circle cx="204.2" cy="218.6" r="1.75"/>
<circle cx="227.4" cy="218.1" r="1.75"/>
<circle cx="152.7" cy="218.8" r="1.75"/>
<circle cx="361.2" cy="218.1" r="1.75"/>
<circle cx="176.0" cy="218.4" r="1.75"/>
<circle cx="229.0" cy="218.6" r="1.75"/>
<circle cx="283.5" cy="218.5" r="1.75"/>
<circle cx="279.7" cy="218.3" r="1.75"/>
<circle cx="351.0" cy="218.4" r="1.75"/>
<circle cx="165.3" cy="218.5" r="1.75"/>
<circle cx="253.9" cy="218.5" r="1.75"/>
<circle cx="135.1" cy="218.7" r="1.75"/>
<circle cx="175.9" cy="217.8" r="1.75"/>
<circle cx="250.1" cy="217.9" r="1.75"/>
<circle cx="273.6" cy="218.5" r="1.75"/>
<circle cx="347.3" cy="217.9" r="1.75"/>
<circle cx="202.0" cy="217.3" r="1.75"/>
<circle cx="302.1" cy="217.5" r="1.75"/>
<circle cx="295.1" cy="217.3" r="1.75"/>
<circle cx="124.1" cy="218.0" r="1.75"/>
<circle cx="168.8" cy="218.6" r="1.75"/>
<circle cx="152.0" cy="218.3" r="1.75"/>
<circle cx="271.1" cy="218.7" r="1.75"/>
<circle cx="228.5" cy="217.4" r="1.75"/>
<circle cx="192.5" cy="218.0" r="1.75"/>
<circle cx="200.6" cy="218.5" r="1.75"/>
<circle cx="255.9" cy="218.4" r="1.75"/>
<circle cx="261.1" cy="218.7" r="1.75"/>
<circle cx="335.9" cy="218.2" r="1.75"/>
<circle cx="183.0" cy="218.6" r="1.75"/>
<circle cx="257.3" cy="218.6" r="1.75"/>
<circle cx="195.0" cy="218.3" r="1.75"/>
<circle cx="274.2" cy="218.6" r="1.75"/>
<circle cx="261.0" cy="218.7" r="1.75"/>
<circle cx="104.7" cy="218.5" r="1.75"/>
<circle cx="278.0" cy="218.7" r="1.75"/>
<circle cx="280.6" cy="217.1" r="1.75"/>
<circle cx="181.7" cy="217.7" r="1.75"/>
<circle cx="301.2" cy="218.1" r="1.75"/>
<circle cx="155.6" cy="218.5" r="1.75"/>
<circle cx="140.1" cy="218.6" r="1.75"/>
<circle cx="162.9" cy="218.4" r="1.75"/>
<circle cx="273.5" cy="218.0" r="1.75"/>
<circle cx="281.8" cy="218.3" r="1.75"/>
<circle cx="256.4" cy="216.9" r="1.75"/>
<circle cx="217.6" cy="218.4" r="1.75"/>
<circle cx="287.0" cy="217.9" r="1.75"/>
<circle cx="251.9" cy="217.9" r="1.75"/>
<circle cx="170.8" cy="218.6" r="1.75"/>
<circle cx="171.3" cy="217.5" r="1.75"/>
<circle cx="295.5" cy="218.2" r="1.75"/>
<circle cx="266.7" cy="218.0" r="1.75"/>
<circle cx="335.7" cy="217.4" r="1.75"/>
<circle cx="164.6" cy="218.5" r="1.75"/>
<circle cx="128.7" cy="217.7" r="1.75"/>
<circle cx="261.8" cy="218.3" r="1.75"/>
<circle cx="137.1" cy="217.9" r="1.75"/>
<circle cx="198.8" cy="218.1" r="1.75"/>
<circle cx="245.4" cy="218.7" r="1.75"/>
<circle cx="107.4" cy="218.2" r="1.75"/>
<circle cx="193.4" cy="218.4" r="1.75"/>
<circle cx="200.4" cy="217.8" r="1.75"/>
<circle cx="341.0" cy="218.3" r="1.75"/>
<circle cx="230.2" cy="218.6" r="1.75"/>
<circle cx="273.3" cy="218.4" r="1.75"/>
<circle cx="139.0" cy="218.7" r="1.75"/>
<circle cx="135.0" cy="217.8" r="1.75"/>
<circle cx="343.0" cy="218.0" r="1.75"/>
<circle cx="150.0" cy="218.7" r="1.75"/>
<circle cx="201.5" cy="217.4" r="1.75"/>
<circle cx="297.2" cy="218.5" r="1.75"/>
<circle cx="281.6" cy="217.7" r="1.75"/>
<circle cx="324.7" cy="217.9" r="1.75"/>
<circle cx="227.1" cy="218.4" r="1.75"/>
<circle cx="341.2" cy="218.1" r="1.75"/>
<circle cx="358.2" cy="217.6" r="1.75"/>
<circle cx="235.9" cy="218.7" r="1.75"/>
<circle cx="200.1" cy="217.6" r="1.75"/>
<circle cx="355.5" cy="218.4" r="1.75"/>
<circle cx="248.5" cy="217.9" r="1.75"/>
<circle cx="134.8" cy="218.2" r="1.75"/>
<circle cx="216.0" cy="217.4" r="1.75"/>
<circle cx="351.2" cy="218.6" r="1.75"/>
<circle cx="178.6" cy="218.1" r="1.75"/>
<circle cx="232.3" cy="217.6" r="1.75"/>
<circle cx="335.1" cy="217.9" r="1.75"/>
<circle cx="123.1" cy="217.4" r="1.75"/>
<circle cx="177.9" cy="218.7" r="1.75"/>
<circle cx="190.3" cy="217.4" r="1.75"/>
<circle cx="275.5" cy="218.2" r="1.75"/>
<circle cx="119.7" cy="218.8" r="1.75"/>
<circle cx="122.2" cy="218.4" r="1.75"/>
<circle cx="186.3" cy="218.6" r="1.75"/>
<circle cx="254.1" cy="217.6" r="1.75"/>
<circle cx="341.9" cy="217.6" r="1.75"/>
<circle cx="106.7" cy="217.9" r="1.75"/>
<circle cx="329.9" cy="217.5" r="1.75"/>
<circle cx="268.6" cy="217.5" r="1.75"/>
<circle cx="206.2" cy="217.7" r="1.75"/>
<circle cx="208.7" cy="218.3" r="1.75"/>
<circle cx="361.6" cy="218.8" r="1.75"/>
<circle cx="154.3" cy="217.2" r="1.75"/>
<circle cx="228.5" cy="218.7" r="1.75"/>
<circle cx="105.9" cy="218.4" r="1.75"/>
<circle cx="263.6" cy="218.3" r="1.75"/>
<circle cx="129.3" cy="217.8" r="1.75"/>
<circle cx="196.8" cy="218.7" r="1.75"/>
<circle cx="107.8" cy="217.6" r="1.75"/>
<circle cx="284.8" cy="218.5" r="1.75"/>
<circle cx="213.6" cy="217.4" r="1.75"/>
<circle cx="153.8" cy="217.6" r="1.75"/>
<circle cx="243.0" cy="218.2" r="1.75"/>
<circle cx="141.6" cy="218.0" r="1.75"/>
<circle cx="351.3" cy="218.1" r="1.75"/>
<circle cx="356.6" cy="218.5" r="1.75"/>
<circle cx="137.2" cy="218.4" r="1.75"/>
<circle cx="179.3" cy="216.7" r="1.75"/>
<circle cx="296.5" cy="218.0" r="1.75"/>
<circle cx="327.7" cy="216.7" r="1.75"/>
<circle cx="208.2" cy="216.5" r="1.75"/>
<circle cx="217.4" cy="218.0" r="1.75"/>
<circle cx="346.4" cy="218.7" r="1.75"/>
<circle cx="238.3" cy="218.4" r="1.75"/>
<circle cx="306.2" cy="217.2" r="1.75"/>
<circle cx="160.8" cy="218.7" r="1.75"/>
<circle cx="113.2" cy="217.9" r="1.75"/>
<circle cx="305.0" cy="218.4" r="1.75"/>
<circle cx="339.0" cy="218.8" r="1.75"/>
<circle cx="343.7" cy="218.0" r="1.75"/>
<circle cx="121.8" cy="218.1" r="1.75"/>
<circle cx="273.3" cy="218.5" r="1.75"/>
<circle cx="111.5" cy="217.2" r="1.75"/>
<circle cx="331.9" cy="218.5" r="1.75"/>
<circle cx="354.9" cy="216.6" r="1.75"/>
<circle cx="345.0" cy="218.0" r="1.75"/>
<circle cx="321.1" cy="218.0" r="1.75"/>
<circle cx="268.1" cy="218.0" r="1.75"/>
<circle cx="135.6" cy="218.6" r="1.75"/>
<circle cx="358.6" cy="218.1" r="1.75"/>
<circle cx="265.3" cy="218.2" r="1.75"/>
<circle cx="247.9" cy="217.9" r="1.75"/>
<circle cx="104.0" cy="218.7" r="1.75"/>
<circle cx="142.2" cy="218.6" r="1.75"/>
<circle cx="196.7" cy="217.7" r="1.75"/>
<circle cx="271.4" cy="218.5" r="1.75"/>
<circle cx="308.7" cy="218.7" r="1.75"/>
<circle cx="233.8" cy="217.5" r="1.75"/>
<circle cx="329.1" cy="218.2" r="1.75"/>
<circle cx="265.8" cy="218.6" r="1.75"/>
<circle cx="360.9" cy="218.1" r="1.75"/>
<circle cx="168.6" cy="218.0" r="1.75"/>
<circle cx="349.8" cy="218.7" r="1.75"/>
<circle cx="339.0" cy="217.5" r="1.75"/>
<circle cx="118.2" cy="218.0" r="1.75"/>
<circle cx="303.8" cy="218.1" r="1.75"/>
<circle cx="178.0" cy="217.7" r="1.75"/>
<circle cx="229.9" cy="216.9" r="1.75"/>
<circle cx="187.8" cy="218.1" r="1.75"/>
<circle cx="151.4" cy="217.6" r="1.75"/>
<circle cx="202.7" cy="218.5" r="1.75"/>
<circle cx="352.9" cy="217.1" r="1.75"/>
<circle cx="204.0" cy="217.9" r="1.75"/>
<circle cx="353.6" cy="218.1" r="1.75"/>
<circle cx="240.7" cy="217.6" r="1.75"/>
<circle cx="358.9" cy="217.9" r="1.75"/>
<circle cx="155.2" cy="218.3" r="1.75"/>
<circle cx="288.7" cy="217.9" r="1.75"/>
<circle cx="148.8" cy="218.3" r="1.75"/>
<circle cx="147.8" cy="218.7" r="1.75"/>
<circle cx="184.8" cy="218.1" r="1.75"/>
<circle cx="314.7" cy="217.1" r="1.75"/>
<circle cx="176.2" cy="218.4" r="1.75"/>
<circle cx="153.2" cy="218.5" r="1.75"/>
<circle cx="209.3" cy="218.1" r="1.75"/>
<circle cx="269.9" cy="217.5" r="1.75"/>
<circle cx="154.4" cy="217.6" r="1.75"/>
<circle cx="205.5" cy="217.9" r="1.75"/>
<circle cx="299.8" cy="218.7" r="1.75"/>
<circle cx="341.7" cy="217.3" r="1.75"/>
<circle cx="356.0" cy="218.3" r="1.75"/>
<circle cx="134.8" cy="218.3" r="1.75"/>
<circle cx="313.8" cy="218.2" r="1.75"/>
<circle cx="200.0" cy="218.6" r="1.75"/>
<circle cx="192.2" cy="218.2" r="1.75"/>
<circle cx="325.0" cy="218.8" r="1.75"/>
<circle cx="146.4" cy="218.2" r="1.75"/>
<circle cx="349.6" cy="218.7" r="1.75"/>
<circle cx="283.5" cy="218.5" r="1.75"/>
<circle cx="332.2" cy="217.9" r="1.75"/>
<circle cx="174.2" cy="218.3" r="1.75"/>
<circle cx="213.4" cy="218.8" r="1.75"/>
<circle cx="252.7" cy="218.5" r="1.75"/>
<circle cx="161.2" cy="218.4" r="1.75"/>
<circle cx="345.6" cy="218.5" r="1.75"/>
<circle cx="336.3" cy="218.2" r="1.75"/>
<circle cx="137.5" cy="218.5" r="1.75"/>
<circle cx="167.4" cy="218.7" r="1.75"/>
<circle cx="210.0" cy="217.9" r="1.75"/>
<circle cx="181.0" cy="218.3" r="1.75"/>
<circle cx="220.3" cy="218.4" r="1.75"/>
<circle cx="233.1" cy="218.6" r="1.75"/>
<circle cx="126.1" cy="218.5" r="1.75"/>
<circle cx="139.3" cy="218.6" r="1.75"/>
<circle cx="136.4" cy="218.1" r="1.75"/>
<circle cx="204.9" cy="218.5" r="1.75"/>
<circle cx="162.5" cy="217.4" r="1.75"/>
<circle cx="332.2" cy="218.3" r="1.75"/>
<circle cx="202.4" cy="218.8" r="1.75"/>
<circle cx="262.6" cy="217.4" r="1.75"/>
<circle cx="188.2" cy="218.3" r="1.75"/>
<circle cx="181.6" cy="218.7" r="1.75"/>
<circle cx="342.7" cy="218.8" r="1.75"/>
<circle cx="243.3" cy="217.8" r="1.75"/>
<circle cx="171.1" cy="218.4" r="1.75"/>
<circle cx="248.7" cy="218.0" r="1.75"/>
<circle cx="356.3" cy="218.8" r="1.75"/>
<circle cx="199.1" cy="218.5" r="1.75"/>
<circle cx="238.2" cy="218.8" r="1.75"/>
<circle cx="218.2" cy="218.7" r="1.75"/>
<circle cx="322.6" cy="218.6" r="1.75"/>
<circle cx="302.0" cy="217.4" r="1.75"/>
<circle cx="221.2" cy="217.8" r="1.75"/>
<circle cx="277.5" cy="218.3" r="1.75"/>
<circle cx="286.8" cy="218.7" r="1.75"/>
<circle cx="288.0" cy="218.0" r="1.75"/>
<circle cx="337.2" cy="218.2" r="1.75"/>
<circle cx="193.9" cy="218.3" r="1.75"/>
<circle cx="250.0" cy="217.6" r="1.75"/>
<circle cx="225.7" cy="218.2" r="1.75"/>
<circle cx="234.2" cy="218.2" r="1.75"/>
<circle cx="136.2" cy="218.6" r="1.75"/>
<circle cx="141.4" cy="218.4" r="1.75"/>
<circle cx="150.3" cy="217.5" r="1.75"/>
<circle cx="317.9" cy="218.5" r="1.75"/>
<circle cx="126.2" cy="217.8" r="1.75"/>
<circle cx="162.4" cy="218.4" r="1.75"/>
<circle cx="346.1" cy="217.6" r="1.75"/>
<circle cx="362.0" cy="216.4" r="1.75"/>
<circle cx="149.8" cy="218.7" r="1.75"/>
<circle cx="248.8" cy="218.7" r="1.75"/>
<circle cx="122.5" cy="217.7" r="1.75"/>
<circle cx="305.1" cy="218.2" r="1.75"/>
<circle cx="360.7" cy="218.3" r="1.75"/>
<circle cx="106.6" cy="217.5" r="1.75"/>
<circle cx="346.1" cy="217.9" r="1.75"/>
<circle cx="107.7" cy="216.7" r="1.75"/>
<circle cx="148.0" cy="218.6" r="1.75"/>
<circle cx="269.2" cy="218.7" r="1.75"/>
<circle cx="285.7" cy="217.6" r="1.75"/>
<circle cx="156.9" cy="218.2" r="1.75"/>
<circle cx="176.1" cy="217.7" r="1.75"/>
<circle cx="332.2" cy="218.7" r="1.75"/>
<circle cx="167.3" cy="218.2" r="1.75"/>
<circle cx="198.4" cy="218.8" r="1.75"/>
<circle cx="252.5" cy="218.3" r="1.75"/>
<circle cx="169.8" cy="217.3" r="1.75"/>
<circle cx="238.7" cy="218.5" r="1.75"/>
<circle cx="282.1" cy="217.7" r="1.75"/>
<circle cx="168.5" cy="218.3" r="1.75"/>
<circle cx="120.1" cy="218.7" r="1.75"/>
<circle cx="341.1" cy="217.6" r="1.75"/>
<circle cx="162.8" cy="218.0" r="1.75"/>
<circle cx="148.8" cy="218.4" r="1.75"/>
<circle cx="176.2" cy="218.7" r="1.75"/>
<circle cx="330.9" cy="218.2" r="1.75"/>
<circle cx="108.1" cy="217.4" r="1.75"/>
<circle cx="115.3" cy="218.8" r="1.75"/>
<circle cx="257.4" cy="218.7" r="1.75"/>
<circle cx="295.6" cy="217.6" r="1.75"/>
<circle cx="248.9" cy="218.3" r="1.75"/>
<circle cx="231.5" cy="218.0" r="1.75"/>
<circle cx="359.5" cy="218.7" r="1.75"/>
<circle cx="202.3" cy="218.0" r="1.75"/>
<circle cx="164.1" cy="218.0" r="1.75"/>
<circle cx="257.9" cy="218.6" r="1.75"/>
<circle cx="108.2" cy="218.7" r="1.75"/>
<circle cx="181.2" cy="216.8" r="1.75"/>
<circle cx="217.6" cy="217.6" r="1.75"/>
<circle cx="233.8" cy="218.5" r="1.75"/>
<circle cx="303.4" cy="218.1" r="1.75"/>
<circle cx="217.6" cy="217.9" r="1.75"/>
<circle cx="111.1" cy="218.7" r="1.75"/>
<circle cx="166.7" cy="218.0" r="1.75"/>
<circle cx="195.7" cy="218.7" r="1.75"/>
<circle cx="225.6" cy="217.4" r="1.75"/>
<circle cx="239.6" cy="218.6" r="1.75"/>
<circle cx="148.5" cy="218.3" r="1.75"/>
<circle cx="244.3" cy="217.3" r="1.75"/>
<circle cx="212.5" cy="218.2" r="1.75"/>
<circle cx="276.9" cy="218.6" r="1.75"/>
<circle cx="344.5" cy="218.4" r="1.75"/>
<circle cx="227.2" cy="218.0" r="1.75"/>
<circle cx="186.1" cy="218.0" r="1.75"/>
<circle cx="111.3" cy="218.5" r="1.75"/>
<circle cx="114.3" cy="217.4" r="1.75"/>
<circle cx="272.6" cy="217.6" r="1.75"/>
<circle cx="177.7" cy="217.8" r="1.75"/>
<circle cx="147.3" cy="217.4" r="1.75"/>
<circle cx="135.6" cy="218.4" r="1.75"/>
<circle cx="175.4" cy="218.6" r="1.75"/>
<circle cx="247.0" cy="218.5" r="1.75"/>
<circle cx="179.4" cy="218.6" r="1.75"/>
<circle cx="128.8" cy="217.9" r="1.75"/>
<circle cx="121.6" cy="218.5" r="1.75"/>
<circle cx="268.0" cy="218.5" r="1.75"/>
<circle cx="327.9" cy="218.0" r="1.75"/>
<circle cx="189.1" cy="218.1" r="1.75"/>
<circle cx="160.8" cy="217.2" r="1.75"/>
<circle cx="181.9" cy="217.8" r="1.75"/>
<circle cx="340.2" cy="218.7" r="1.75"/>
<circle cx="159.3" cy="218.8" r="1.75"/>
<circle cx="272.7" cy="218.3" r="1.75"/>
<circle cx="244.8" cy="218.1" r="1.75"/>
<circle cx="319.6" cy="217.3" r="1.75"/>
<circle cx="262.7" cy="218.6" r="1.75"/>
<circle cx="123.2" cy="218.7" r="1.75"/>
<circle cx="197.3" cy="218.5" r="1.75"/>
<circle cx="195.0" cy="218.7" r="1.75"/>
<circle cx="155.3" cy="217.9" r="1.75"/>
<circle cx="182.5" cy="218.4" r="1.75"/>
<circle cx="236.2" cy="218.4" r="1.75"/>
<circle cx="333.5" cy="217.4" r="1.75"/>
<circle cx="152.3" cy="218.1" r="1.75"/>
<circle cx="241.3" cy="218.5" r="1.75"/>
<circle cx="344.7" cy="217.8" r="1.75"/>
<circle cx="163.7" cy="218.4" r="1.75"/>
<circle cx="230.4" cy="217.2" r="1.75"/>
<circle cx="223.0" cy="218.6" r="1.75"/>
<circle cx="273.3" cy="218.7" r="1.75"/>
<circle cx="128.5" cy="218.2" r="1.75"/>
<circle cx="202.6" cy="217.9" r="1.75"/>
<circle cx="217.7" cy="218.1" r="1.75"/>
<circle cx="185.0" cy="218.6" r="1.75"/>
<circle cx="331.9" cy="217.6" r="1.75"/>
<circle cx="181.4" cy="218.0" r="1.75"/>
<circle cx="161.2" cy="218.5" r="1.75"/>
<circle cx="312.2" cy="217.1" r="1.75"/>
<circle cx="118.5" cy="218.1" r="1.75"/>
<circle cx="330.1" cy="218.5" r="1.75"/>
<circle cx="197.3" cy="218.7" r="1.75"/>
<circle cx="234.0" cy="218.1" r="1.75"/>
<circle cx="191.3" cy="218.6" r="1.75"/>
<circle cx="113.1" cy="217.5" r="1.75"/>
<circle cx="304.5" cy="218.7" r="1.75"/>
<circle cx="311.3" cy="218.2" r="1.75"/>
<circle cx="122.6" cy="218.0" r="1.75"/>
<circle cx="278.8" cy="218.8" r="1.75"/>
<circle cx="172.8" cy="218.3" r="1.75"/>
<circle cx="330.0" cy="218.5" r="1.75"/>
<circle cx="106.2" cy="217.5" r="1.75"/>
<circle cx="212.1" cy="217.5" r="1.75"/>
<circle cx="351.9" cy="218.3" r="1.75"/>
<circle cx="231.9" cy="217.0" r="1.75"/>
<circle cx="254.3" cy="217.7" r="1.75"/>
<circle cx="275.7" cy="218.5" r="1.75"/>
<circle cx="316.3" cy="217.6" r="1.75"/>
<circle cx="250.5" cy="217.9" r="1.75"/>
<circle cx="151.1" cy="218.5" r="1.75"/>
<circle cx="121.3" cy="218.7" r="1.75"/>
<circle cx="290.1" cy="218.1" r="1.75"/>
<circle cx="283.5" cy="218.1" r="1.75"/>
<circle cx="218.1" cy="218.6" r="1.75"/>
<circle cx="183.3" cy="218.8" r="1.75"/>
<circle cx="344.2" cy="218.7" r="1.75"/>
<circle cx="353.5" cy="218.6" r="1.75"/>
<circle cx="108.9" cy="218.5" r="1.75"/>
<circle cx="139.9" cy="218.4" r="1.75"/>
<circle cx="109.2" cy="218.2" r="1.75"/>
<circle cx="156.9" cy="218.6" r="1.75"/>
<circle cx="327.4" cy="218.4" r="1.75"/>
<circle cx="241.5" cy="217.7" r="1.75"/>
<circle cx="250.1" cy="218.8" r="1.75"/>
<circle cx="168.5" cy="218.2" r="1.75"/>
<circle cx="263.4" cy="216.9" r="1.75"/>
<circle cx="313.8" cy="217.8" r="1.75"/>
<circle cx="221.8" cy="218.8" r="1.75"/>
<circle cx="251.0" cy="218.4" r="1.75"/>
<circle cx="280.4" cy="218.5" r="1.75"/>
<circle cx="134.9" cy="218.2" r="1.75"/>
<circle cx="256.1" cy="218.1" r="1.75"/>
<circle cx="237.2" cy="218.0" r="1.75"/>
<circle cx="114.2" cy="218.8" r="1.75"/>
<circle cx="312.4" cy="217.5" r="1.75"/>
<circle cx="269.5" cy="217.2" r="1.75"/>
<circle cx="332.5" cy="218.3" r="1.75"/>
<circle cx="240.0" cy="217.2" r="1.75"/>
<circle cx="163.8" cy="218.6" r="1.75"/>
<circle cx="119.8" cy="218.0" r="1.75"/>
<circle cx="298.7" cy="217.9" r="1.75"/>
<circle cx="361.3" cy="217.6" r="1.75"/>
<circle cx="311.0" cy="218.0" r="1.75"/>
<circle cx="347.9" cy="218.5" r="1.75"/>
<circle cx="218.0" cy="218.3" r="1.75"/>
<circle cx="142.6" cy="217.0" r="1.75"/>
<circle cx="318.4" cy="218.2" r="1.75"/>
<circle cx="195.2" cy="218.1" r="1.75"/>
<circle cx="173.4" cy="218.3" r="1.75"/>
<circle cx="151.8" cy="218.6" r="1.75"/>
<circle cx="207.3" cy="217.7" r="1.75"/>
<circle cx="195.1" cy="217.5" r="1.75"/>
<circle cx="168.2" cy="218.4" r="1.75"/>
<circle cx="284.7" cy="217.0" r="1.75"/>
<circle cx="244.8" cy="218.8" r="1.75"/>
<circle cx="318.2" cy="216.6" r="1.75"/>
<circle cx="291.9" cy="218.6" r="1.75"/>
<circle cx="110.7" cy="217.1" r="1.75"/>
<circle cx="333.1" cy="218.0" r="1.75"/>
<circle cx="116.3" cy="218.5" r="1.75"/>
<circle cx="201.6" cy="217.6" r="1.75"/>
<circle cx="329.5" cy="218.6" r="1.75"/>
<circle cx="166.0" cy="217.7" r="1.75"/>
<circle cx="352.1" cy="218.4" r="1.75"/>
<circle cx="238.4" cy="218.7" r="1.75"/>
<circle cx="257.7" cy="218.6" r="1.75"/>
<circle cx="280.8" cy="217.5" r="1.75"/>
<circle cx="303.6" cy="218.1" r="1.75"/>
<circle cx="287.2" cy="218.5" r="1.75"/>
<circle cx="277.3" cy="218.0" r="1.75"/>
<circle cx="229.5" cy="217.5" r="1.75"/>
<circle cx="259.5" cy="217.6" r="1.75"/>
<circle cx="160.2" cy="218.2" r="1.75"/>
<circle cx="276.9" cy="218.6" r="1.75"/>
<circle cx="140.2" cy="218.5" r="1.75"/>
<circle cx="338.4" cy="218.8" r="1.75"/>
<circle cx="294.9" cy="218.3" r="1.75"/>
<circle cx="355.2" cy="218.0" r="1.75"/>
<circle cx="148.7" cy="217.8" r="1.75"/>
<circle cx="199.0" cy="217.4" r="1.75"/>
<circle cx="353.5" cy="218.3" r="1.75"/>
<circle cx="247.7" cy="218.1" r="1.75"/>
<circle cx="282.7" cy="217.2" r="1.75"/>
<circle cx="120.4" cy="217.9" r="1.75"/>
<circle cx="289.3" cy="218.2" r="1.75"/>
<circle cx="119.4" cy="217.6" r="1.75"/>
<circle cx="118.3" cy="218.0" r="1.75"/>
<circle cx="333.9" cy="218.0" r="1.75"/>
<circle cx="200.5" cy="217.4" r="1.75"/>
<circle cx="296.4" cy="218.0" r="1.75"/>
<circle cx="352.3" cy="217.7" r="1.75"/>
<circle cx="328.2" cy="217.5" r="1.75"/>
<circle cx="330.7" cy="218.3" r="1.75"/>
<circle cx="197.6" cy="218.2" r="1.75"/>
<circle cx="171.2" cy="218.6" r="1.75"/>
<circle cx="259.6" cy="218.7" r="1.75"/>
<circle cx="306.7" cy="218.3" r="1.75"/>
<circle cx="218.9" cy="218.7" r="1.75"/>
<circle cx="159.5" cy="218.1" r="1.75"/>
<circle cx="216.9" cy="218.3" r="1.75"/>
<circle cx="258.8" cy="218.5" r="1.75"/>
<circle cx="345.8" cy="218.6" r="1.75"/>
<circle cx="341.5" cy="217.8" r="1.75"/>
<circle cx="178.2" cy="218.8" r="1.75"/>
<circle cx="323.5" cy="218.5" r="1.75"/>
<circle cx="186.5" cy="217.4" r="1.75"/>
<circle cx="178.3" cy="217.6" r="1.75"/>
<circle cx="283.2" cy="218.2" r="1.75"/>
<circle cx="360.1" cy="218.8" r="1.75"/>
<circle cx="332.7" cy="218.5" r="1.75"/>
<circle cx="287.4" cy="218.5" r="1.75"/>
<circle cx="204.3" cy="218.0" r="1.75"/>
<circle cx="103.5" cy="171.4" r="1.75"/>
<circle cx="103.7" cy="173.1" r="1.75"/>
<circle cx="103.3" cy="175.0" r="1.75"/>
<circle cx="103.6" cy="177.2" r="1.75"/>
<circle cx="103.6" cy="179.2" r="1.75"/>
<circle cx="103.4" cy="181.1" r="1.75"/>
<circle cx="103.3" cy="187.8" r="1.75"/>
<circle cx="103.7" cy="193.0" r="1.75"/>
<circle cx="103.4" cy="195.5" r="1.75"/>
<circle cx="103.6" cy="198.6" r="1.75"/>
<circle cx="103.8" cy="206.6" r="1.75"/>
<circle cx="103.9" cy="215.0" r="1.75"/>
<circle cx="103.8" cy="204.6" r="1.75"/>
<circle cx="104.0" cy="207.1" r="1.75"/>
<circle cx="103.6" cy="215.8" r="1.75"/>
<circle cx="103.5" cy="208.4" r="1.75"/>
<circle cx="103.7" cy="207.8" r="1.75"/>
<circle cx="103.7" cy="201.2" r="1.75"/>
<circle cx="103.8" cy="200.4" r="1.75"/>
<circle cx="103.5" cy="214.4" r="1.75"/>
<circle cx="103.8" cy="215.4" r="1.75"/>
<circle cx="104.2" cy="215.8" r="1.75"/>
<circle cx="103.9" cy="207.9" r="1.75"/>
<circle cx="103.8" cy="212.9" r="1.75"/>
<circle cx="103.7" cy="206.6" r="1.75"/>
<circle cx="103.6" cy="209.1" r="1.75"/>
<circle cx="103.7" cy="212.9" r="1.75"/>
<circle cx="103.5" cy="207.8" r="1.75"/>
<circle cx="105.3" cy="217.2" r="1.75"/>
<circle cx="103.5" cy="198.5" r="1.75"/>
<circle cx="103.8" cy="204.0" r="1.75"/>
<circle cx="103.6" cy="205.1" r="1.75"/>
<circle cx="104.0" cy="205.9" r="1.75"/>
<circle cx="104.0" cy="217.4" r="1.75"/>
<circle cx="103.7" cy="209.4" r="1.75"/>
<circle cx="103.6" cy="208.7" r="1.75"/>
<circle cx="103.8" cy="198.3" r="1.75"/>
<circle cx="103.7" cy="207.7" r="1.75"/>
<circle cx="104.6" cy="216.8" r="1.75"/>
<circle cx="103.6" cy="206.7" r="1.75"/>
<circle cx="103.7" cy="208.1" r="1.75"/>
<circle cx="103.7" cy="212.3" r="1.75"/>
<circle cx="104.0" cy="213.6" r="1.75"/>
<circle cx="103.5" cy="198.1" r="1.75"/>
<circle cx="103.6" cy="200.7" r="1.75"/>
<circle cx="104.0" cy="210.2" r="1.75"/>
<circle cx="103.8" cy="199.6" r="1.75"/>
<circle cx="104.2" cy="201.7" r="1.75"/>
<circle cx="103.9" cy="208.8" r="1.75"/>
<circle cx="103.5" cy="211.0" r="1.75"/>
<circle cx="103.6" cy="210.6" r="1.75"/>
<circle cx="103.6" cy="212.4" r="1.75"/>
<circle cx="103.8" cy="206.3" r="1.75"/>
<circle cx="103.6" cy="214.5" r="1.75"/>
<circle cx="103.6" cy="213.2" r="1.75"/>
<circle cx="106.9" cy="218.4" r="1.75"/>
<circle cx="103.6" cy="214.8" r="1.75"/>
<circle cx="103.6" cy="214.0" r="1.75"/>
<circle cx="103.8" cy="197.6" r="1.75"/>
<circle cx="103.5" cy="207.4" r="1.75"/>
<circle cx="103.6" cy="215.8" r="1.75"/>
<circle cx="103.6" cy="198.1" r="1.75"/>
<circle cx="103.8" cy="210.3" r="1.75"/>
<circle cx="104.0" cy="214.3" r="1.75"/>
<circle cx="104.9" cy="216.0" r="1.75"/>
<circle cx="103.6" cy="213.6" r="1.75"/>
<circle cx="103.7" cy="214.9" r="1.75"/>
<circle cx="104.4" cy="216.4" r="1.75"/>
<circle cx="103.6" cy="207.0" r="1.75"/>
<circle cx="122.0" cy="180.0" r="1.75"/>
<circle cx="122.0" cy="183.5" r="1.75"/>
<circle cx="122.0" cy="195.3" r="1.75"/>
<circle cx="121.9" cy="198.9" r="1.75"/>
<circle cx="121.9" cy="203.8" r="1.75"/>
<circle cx="121.8" cy="206.1" r="1.75"/>
<circle cx="121.7" cy="210.6" r="1.75"/>
<circle cx="122.9" cy="217.7" r="1.75"/>
<circle cx="121.5" cy="216.4" r="1.75"/>
<circle cx="122.6" cy="212.0" r="1.75"/>
<circle cx="122.7" cy="207.4" r="1.75"/>
<circle cx="122.1" cy="215.0" r="1.75"/>
<circle cx="122.5" cy="215.3" r="1.75"/>
<circle cx="122.3" cy="213.9" r="1.75"/>
<circle cx="120.1" cy="217.2" r="1.75"/>
<circle cx="121.8" cy="211.4" r="1.75"/>
<circle cx="122.3" cy="206.9" r="1.75"/>
<circle cx="122.7" cy="214.7" r="1.75"/>
<circle cx="122.0" cy="210.3" r="1.75"/>
<circle cx="120.7" cy="217.8" r="1.75"/>
<circle cx="121.5" cy="214.3" r="1.75"/>
<circle cx="122.1" cy="212.8" r="1.75"/>
<circle cx="121.5" cy="216.1" r="1.75"/>
<circle cx="121.8" cy="212.4" r="1.75"/>
<circle cx="122.2" cy="210.9" r="1.75"/>
<circle cx="122.1" cy="209.7" r="1.75"/>
<circle cx="121.7" cy="212.0" r="1.75"/>
<circle cx="121.9" cy="207.0" r="1.75"/>
<circle cx="122.4" cy="210.5" r="1.75"/>
<circle cx="121.8" cy="213.8" r="1.75"/>
<circle cx="121.2" cy="216.4" r="1.75"/>
<circle cx="121.9" cy="213.2" r="1.75"/>
<circle cx="122.1" cy="218.6" r="1.75"/>
<circle cx="121.3" cy="214.8" r="1.75"/>
<circle cx="119.9" cy="218.2" r="1.75"/>
<circle cx="118.1" cy="218.6" r="1.75"/>
<circle cx="121.9" cy="214.6" r="1.75"/>
<circle cx="122.0" cy="208.8" r="1.75"/>
<circle cx="122.1" cy="212.2" r="1.75"/>
<circle cx="121.2" cy="216.9" r="1.75"/>
<circle cx="121.8" cy="212.0" r="1.75"/>
<circle cx="116.9" cy="218.8" r="1.75"/>
<circle cx="121.8" cy="210.0" r="1.75"/>
<circle cx="121.9" cy="210.4" r="1.75"/>
<circle cx="122.0" cy="207.6" r="1.75"/>
<circle cx="121.0" cy="217.9" r="1.75"/>
<circle cx="121.7" cy="211.8" r="1.75"/>
<circle cx="121.8" cy="213.7" r="1.75"/>
<circle cx="122.1" cy="213.7" r="1.75"/>
<circle cx="122.0" cy="209.5" r="1.75"/>
<circle cx="122.1" cy="210.2" r="1.75"/>
<circle cx="121.2" cy="217.9" r="1.75"/>
<circle cx="123.4" cy="216.5" r="1.75"/>
<circle cx="121.7" cy="211.3" r="1.75"/>
<circle cx="121.9" cy="207.4" r="1.75"/>
<circle cx="121.9" cy="207.6" r="1.75"/>
<circle cx="121.5" cy="215.5" r="1.75"/>
<circle cx="121.9" cy="209.4" r="1.75"/>
<circle cx="122.1" cy="212.3" r="1.75"/>
<circle cx="122.3" cy="214.8" r="1.75"/>
<circle cx="122.6" cy="214.6" r="1.75"/>
<circle cx="122.3" cy="216.7" r="1.75"/>
<circle cx="121.9" cy="211.2" r="1.75"/>
<circle cx="121.9" cy="215.2" r="1.75"/>
<circle cx="122.1" cy="210.3" r="1.75"/>
<circle cx="121.8" cy="215.4" r="1.75"/>
<circle cx="140.6" cy="185.3" r="1.75"/>
<circle cx="140.5" cy="203.8" r="1.75"/>
<circle cx="140.8" cy="206.3" r="1.75"/>
<circle cx="140.8" cy="208.3" r="1.75"/>
<circle cx="140.9" cy="211.1" r="1.75"/>
<circle cx="138.7" cy="218.0" r="1.75"/>
<circle cx="140.8" cy="216.9" r="1.75"/>
<circle cx="140.8" cy="210.9" r="1.75"/>
<circle cx="140.4" cy="212.4" r="1.75"/>
<circle cx="140.3" cy="211.3" r="1.75"/>
<circle cx="141.1" cy="213.8" r="1.75"/>
<circle cx="140.9" cy="213.9" r="1.75"/>
<circle cx="140.7" cy="210.1" r="1.75"/>
<circle cx="140.6" cy="213.6" r="1.75"/>
<circle cx="141.0" cy="208.4" r="1.75"/>
<circle cx="140.7" cy="210.0" r="1.75"/>
<circle cx="140.4" cy="209.6" r="1.75"/>
<circle cx="139.5" cy="218.6" r="1.75"/>
<circle cx="140.7" cy="209.1" r="1.75"/>
<circle cx="140.3" cy="213.8" r="1.75"/>
<circle cx="140.7" cy="214.2" r="1.75"/>
<circle cx="142.9" cy="218.1" r="1.75"/>
<circle cx="140.6" cy="210.3" r="1.75"/>
<circle cx="140.4" cy="210.4" r="1.75"/>
<circle cx="141.1" cy="213.9" r="1.75"/>
<circle cx="140.5" cy="210.1" r="1.75"/>
<circle cx="140.2" cy="213.2" r="1.75"/>
<circle cx="140.5" cy="209.9" r="1.75"/>
<circle cx="139.1" cy="216.3" r="1.75"/>
<circle cx="141.1" cy="212.4" r="1.75"/>
<circle cx="143.7" cy="217.1" r="1.75"/>
<circle cx="140.9" cy="214.4" r="1.75"/>
<circle cx="140.3" cy="213.2" r="1.75"/>
<circle cx="140.8" cy="208.6" r="1.75"/>
<circle cx="140.8" cy="209.3" r="1.75"/>
<circle cx="140.7" cy="209.5" r="1.75"/>
<circle cx="140.8" cy="210.6" r="1.75"/>
<circle cx="140.4" cy="210.4" r="1.75"/>
<circle cx="135.2" cy="217.1" r="1.75"/>
<circle cx="140.5" cy="209.5" r="1.75"/>
<circle cx="141.5" cy="214.3" r="1.75"/>
<circle cx="142.5" cy="215.5" r="1.75"/>
<circle cx="140.5" cy="208.4" r="1.75"/>
<circle cx="141.6" cy="214.7" r="1.75"/>
<circle cx="136.8" cy="217.0" r="1.75"/>
<circle cx="141.0" cy="211.3" r="1.75"/>
<circle cx="140.6" cy="211.2" r="1.75"/>
<circle cx="142.1" cy="215.8" r="1.75"/>
<circle cx="140.6" cy="211.6" r="1.75"/>
<circle cx="139.6" cy="218.4" r="1.75"/>
<circle cx="140.7" cy="209.6" r="1.75"/>
<circle cx="140.8" cy="212.7" r="1.75"/>
<circle cx="140.9" cy="218.7" r="1.75"/>
<circle cx="140.4" cy="212.1" r="1.75"/>
<circle cx="139.9" cy="217.8" r="1.75"/>
<circle cx="140.5" cy="212.4" r="1.75"/>
<circle cx="141.0" cy="214.6" r="1.75"/>
<circle cx="140.3" cy="216.9" r="1.75"/>
<circle cx="140.9" cy="213.8" r="1.75"/>
<circle cx="140.7" cy="216.1" r="1.75"/>
<circle cx="140.4" cy="209.8" r="1.75"/>
<circle cx="138.3" cy="218.1" r="1.75"/>
<circle cx="138.5" cy="216.3" r="1.75"/>
<circle cx="140.9" cy="214.9" r="1.75"/>
<circle cx="159.2" cy="200.0" r="1.75"/>
<circle cx="159.6" cy="203.8" r="1.75"/>
<circle cx="159.3" cy="207.4" r="1.75"/>
<circle cx="159.0" cy="209.9" r="1.75"/>
<circle cx="158.3" cy="216.9" r="1.75"/>
<circle cx="160.0" cy="214.5" r="1.75"/>
<circle cx="159.6" cy="217.7" r="1.75"/>
<circle cx="162.6" cy="216.3" r="1.75"/>
<circle cx="159.0" cy="215.6" r="1.75"/>
<circle cx="157.8" cy="214.8" r="1.75"/>
<circle cx="160.3" cy="215.5" r="1.75"/>
<circle cx="158.3" cy="213.0" r="1.75"/>
<circle cx="159.2" cy="210.6" r="1.75"/>
<circle cx="158.3" cy="214.8" r="1.75"/>
<circle cx="159.3" cy="216.1" r="1.75"/>
<circle cx="158.7" cy="210.0" r="1.75"/>
<circle cx="156.0" cy="216.8" r="1.75"/>
<circle cx="160.6" cy="217.3" r="1.75"/>
<circle cx="163.7" cy="218.6" r="1.75"/>
<circle cx="154.3" cy="218.0" r="1.75"/>
<circle cx="164.5" cy="217.8" r="1.75"/>
<circle cx="156.4" cy="218.2" r="1.75"/>
<circle cx="158.6" cy="215.0" r="1.75"/>
<circle cx="157.9" cy="214.1" r="1.75"/>
<circle cx="159.0" cy="211.0" r="1.75"/>
<circle cx="160.2" cy="214.2" r="1.75"/>
<circle cx="156.3" cy="217.6" r="1.75"/>
<circle cx="159.4" cy="210.1" r="1.75"/>
<circle cx="158.6" cy="214.9" r="1.75"/>
<circle cx="159.5" cy="211.9" r="1.75"/>
<circle cx="156.8" cy="216.5" r="1.75"/>
<circle cx="159.2" cy="213.3" r="1.75"/>
<circle cx="153.7" cy="218.0" r="1.75"/>
<circle cx="157.8" cy="215.1" r="1.75"/>
<circle cx="159.4" cy="213.9" r="1.75"/>
<circle cx="159.3" cy="210.6" r="1.75"/>
<circle cx="159.5" cy="212.8" r="1.75"/>
<circle cx="159.3" cy="212.5" r="1.75"/>
<circle cx="159.7" cy="211.4" r="1.75"/>
<circle cx="156.7" cy="216.4" r="1.75"/>
<circle cx="159.9" cy="212.4" r="1.75"/>
<circle cx="164.0" cy="218.2" r="1.75"/>
<circle cx="158.3" cy="218.8" r="1.75"/>
<circle cx="157.6" cy="215.8" r="1.75"/>
<circle cx="158.4" cy="212.8" r="1.75"/>
<circle cx="159.4" cy="214.6" r="1.75"/>
<circle cx="162.7" cy="216.2" r="1.75"/>
<circle cx="158.8" cy="211.3" r="1.75"/>
<circle cx="158.8" cy="215.9" r="1.75"/>
<circle cx="159.2" cy="210.7" r="1.75"/>
<circle cx="160.5" cy="216.7" r="1.75"/>
<circle cx="158.7" cy="215.0" r="1.75"/>
<circle cx="160.4" cy="216.5" r="1.75"/>
<circle cx="157.2" cy="216.0" r="1.75"/>
<circle cx="158.5" cy="216.7" r="1.75"/>
<circle cx="154.7" cy="218.1" r="1.75"/>
<circle cx="159.1" cy="216.9" r="1.75"/>
<circle cx="155.4" cy="216.1" r="1.75"/>
<circle cx="158.3" cy="213.9" r="1.75"/>
<circle cx="160.4" cy="218.3" r="1.75"/>
<circle cx="159.0" cy="218.6" r="1.75"/>
<circle cx="159.2" cy="211.3" r="1.75"/>
<circle cx="158.9" cy="212.0" r="1.75"/>
<circle cx="159.4" cy="212.0" r="1.75"/>
<circle cx="177.8" cy="203.0" r="1.75"/>
<circle cx="177.7" cy="206.9" r="1.75"/>
<circle cx="177.7" cy="210.5" r="1.75"/>
<circle cx="177.6" cy="211.3" r="1.75"/>
<circle cx="177.2" cy="212.9" r="1.75"/>
<circle cx="177.1" cy="215.6" r="1.75"/>
<circle cx="178.6" cy="215.5" r="1.75"/>
<circle cx="178.9" cy="216.6" r="1.75"/>
<circle cx="177.8" cy="212.3" r="1.75"/>
<circle cx="178.7" cy="216.1" r="1.75"/>
<circle cx="180.9" cy="215.2" r="1.75"/>
<circle cx="179.2" cy="214.8" r="1.75"/>
<circle cx="177.5" cy="212.2" r="1.75"/>
<circle cx="177.9" cy="217.2" r="1.75"/>
<circle cx="177.2" cy="214.5" r="1.75"/>
<circle cx="177.9" cy="211.3" r="1.75"/>
<circle cx="182.7" cy="218.0" r="1.75"/>
<circle cx="179.4" cy="217.2" r="1.75"/>
<circle cx="181.2" cy="215.7" r="1.75"/>
<circle cx="177.9" cy="214.8" r="1.75"/>
<circle cx="177.4" cy="211.6" r="1.75"/>
<circle cx="178.6" cy="212.8" r="1.75"/>
<circle cx="177.2" cy="213.8" r="1.75"/>
<circle cx="177.8" cy="211.1" r="1.75"/>
<circle cx="182.4" cy="218.1" r="1.75"/>
<circle cx="176.8" cy="217.0" r="1.75"/>
<circle cx="174.9" cy="216.3" r="1.75"/>
<circle cx="180.6" cy="218.1" r="1.75"/>
<circle cx="177.7" cy="211.6" r="1.75"/>
<circle cx="176.3" cy="214.0" r="1.75"/>
<circle cx="178.6" cy="213.8" r="1.75"/>
<circle cx="177.2" cy="212.4" r="1.75"/>
<circle cx="176.5" cy="214.7" r="1.75"/>
<circle cx="176.1" cy="216.3" r="1.75"/>
<circle cx="178.1" cy="215.1" r="1.75"/>
<circle cx="178.2" cy="213.1" r="1.75"/>
<circle cx="177.8" cy="214.1" r="1.75"/>
<circle cx="177.6" cy="218.2" r="1.75"/>
<circle cx="175.8" cy="215.8" r="1.75"/>
<circle cx="175.0" cy="218.5" r="1.75"/>
<circle cx="177.9" cy="215.5" r="1.75"/>
<circle cx="178.0" cy="217.0" r="1.75"/>
<circle cx="177.1" cy="212.4" r="1.75"/>
<circle cx="176.8" cy="214.4" r="1.75"/>
<circle cx="177.5" cy="213.7" r="1.75"/>
<circle cx="177.0" cy="218.5" r="1.75"/>
<circle cx="178.1" cy="215.6" r="1.75"/>
<circle cx="178.9" cy="215.7" r="1.75"/>
<circle cx="177.7" cy="212.4" r="1.75"/>
<circle cx="176.8" cy="217.5" r="1.75"/>
<circle cx="177.8" cy="211.5" r="1.75"/>
<circle cx="178.6" cy="214.0" r="1.75"/>
<circle cx="178.6" cy="215.2" r="1.75"/>
<circle cx="180.0" cy="216.1" r="1.75"/>
<circle cx="176.1" cy="217.7" r="1.75"/>
<circle cx="177.8" cy="214.6" r="1.75"/>
<circle cx="174.4" cy="216.2" r="1.75"/>
<circle cx="178.3" cy="215.1" r="1.75"/>
<circle cx="177.7" cy="211.9" r="1.75"/>
<circle cx="177.7" cy="211.9" r="1.75"/>
<circle cx="180.3" cy="217.1" r="1.75"/>
<circle cx="178.6" cy="214.7" r="1.75"/>
<circle cx="177.6" cy="212.8" r="1.75"/>
<circle cx="196.3" cy="206.1" r="1.75"/>
<circle cx="196.3" cy="210.8" r="1.75"/>
<circle cx="197.5" cy="216.5" r="1.75"/>
<circle cx="194.4" cy="216.3" r="1.75"/>
<circle cx="198.5" cy="215.0" r="1.75"/>
<circle cx="202.5" cy="217.2" r="1.75"/>
<circle cx="196.4" cy="213.6" r="1.75"/>
<circle cx="196.0" cy="214.2" r="1.75"/>
<circle cx="196.7" cy="214.6" r="1.75"/>
<circle cx="196.8" cy="215.4" r="1.75"/>
<circle cx="197.4" cy="214.0" r="1.75"/>
<circle cx="197.5" cy="217.5" r="1.75"/>
<circle cx="197.5" cy="213.9" r="1.75"/>
<circle cx="188.5" cy="218.6" r="1.75"/>
<circle cx="204.4" cy="218.3" r="1.75"/>
<circle cx="195.9" cy="214.3" r="1.75"/>
<circle cx="198.0" cy="214.3" r="1.75"/>
<circle cx="197.4" cy="218.5" r="1.75"/>
<circle cx="199.3" cy="215.7" r="1.75"/>
<circle cx="196.7" cy="215.9" r="1.75"/>
<circle cx="200.3" cy="218.2" r="1.75"/>
<circle cx="197.5" cy="215.4" r="1.75"/>
<circle cx="195.7" cy="213.9" r="1.75"/>
<circle cx="199.5" cy="216.3" r="1.75"/>
<circle cx="194.7" cy="217.7" r="1.75"/>
<circle cx="196.5" cy="216.0" r="1.75"/>
<circle cx="195.9" cy="213.8" r="1.75"/>
<circle cx="203.7" cy="217.4" r="1.75"/>
<circle cx="198.8" cy="218.4" r="1.75"/>
<circle cx="195.2" cy="216.2" r="1.75"/>
<circle cx="203.2" cy="218.4" r="1.75"/>
<circle cx="197.0" cy="216.4" r="1.75"/>
<circle cx="192.9" cy="215.9" r="1.75"/>
<circle cx="198.4" cy="216.4" r="1.75"/>
<circle cx="196.8" cy="213.4" r="1.75"/>
<circle cx="193.3" cy="217.7" r="1.75"/>
<circle cx="190.2" cy="217.1" r="1.75"/>
<circle cx="196.9" cy="215.2" r="1.75"/>
<circle cx="194.6" cy="215.0" r="1.75"/>
<circle cx="195.2" cy="213.4" r="1.75"/>
<circle cx="196.1" cy="216.1" r="1.75"/>
<circle cx="196.2" cy="214.7" r="1.75"/>
<circle cx="195.7" cy="217.4" r="1.75"/>
<circle cx="195.8" cy="214.4" r="1.75"/>
<circle cx="192.1" cy="216.9" r="1.75"/>
<circle cx="196.3" cy="213.3" r="1.75"/>
<circle cx="194.8" cy="215.6" r="1.75"/>
<circle cx="194.4" cy="218.0" r="1.75"/>
<circle cx="198.3" cy="217.3" r="1.75"/>
<circle cx="201.7" cy="216.9" r="1.75"/>
<circle cx="196.4" cy="213.5" r="1.75"/>
<circle cx="197.0" cy="215.1" r="1.75"/>
<circle cx="197.1" cy="213.3" r="1.75"/>
<circle cx="197.1" cy="215.7" r="1.75"/>
<circle cx="197.5" cy="216.6" r="1.75"/>
<circle cx="200.2" cy="218.8" r="1.75"/>
<circle cx="194.0" cy="218.2" r="1.75"/>
<circle cx="194.5" cy="217.6" r="1.75"/>
<circle cx="195.8" cy="218.2" r="1.75"/>
<circle cx="197.6" cy="216.1" r="1.75"/>
<circle cx="195.8" cy="214.5" r="1.75"/>
<circle cx="201.6" cy="217.8" r="1.75"/>
<circle cx="214.9" cy="208.0" r="1.75"/>
<circle cx="214.8" cy="211.6" r="1.75"/>
<circle cx="217.6" cy="218.2" r="1.75"/>
<circle cx="212.0" cy="218.3" r="1.75"/>
<circle cx="214.9" cy="218.2" r="1.75"/>
<circle cx="214.0" cy="215.4" r="1.75"/>
<circle cx="215.5" cy="217.9" r="1.75"/>
<circle cx="212.7" cy="216.9" r="1.75"/>
<circle cx="215.6" cy="216.6" r="1.75"/>
<circle cx="215.1" cy="214.6" r="1.75"/>
<circle cx="217.4" cy="218.3" r="1.75"/>
<circle cx="215.2" cy="213.9" r="1.75"/>
<circle cx="214.7" cy="213.4" r="1.75"/>
<circle cx="216.2" cy="218.6" r="1.75"/>
<circle cx="215.5" cy="216.0" r="1.75"/>
<circle cx="215.6" cy="215.4" r="1.75"/>
<circle cx="216.5" cy="217.7" r="1.75"/>
<circle cx="215.0" cy="215.0" r="1.75"/>
<circle cx="215.5" cy="214.6" r="1.75"/>
<circle cx="213.0" cy="218.3" r="1.75"/>
<circle cx="215.0" cy="214.7" r="1.75"/>
<circle cx="215.0" cy="213.3" r="1.75"/>
<circle cx="216.4" cy="217.9" r="1.75"/>
<circle cx="213.8" cy="217.8" r="1.75"/>
<circle cx="215.1" cy="215.2" r="1.75"/>
<circle cx="214.4" cy="216.0" r="1.75"/>
<circle cx="216.3" cy="217.6" r="1.75"/>
<circle cx="217.2" cy="217.9" r="1.75"/>
<circle cx="215.7" cy="217.6" r="1.75"/>
<circle cx="216.6" cy="215.4" r="1.75"/>
<circle cx="218.7" cy="217.5" r="1.75"/>
<circle cx="214.0" cy="216.8" r="1.75"/>
<circle cx="215.1" cy="215.4" r="1.75"/>
<circle cx="213.4" cy="218.2" r="1.75"/>
<circle cx="222.1" cy="218.6" r="1.75"/>
<circle cx="214.9" cy="213.7" r="1.75"/>
<circle cx="214.5" cy="215.9" r="1.75"/>
<circle cx="214.9" cy="215.0" r="1.75"/>
<circle cx="214.9" cy="217.5" r="1.75"/>
<circle cx="214.9" cy="214.0" r="1.75"/>
<circle cx="214.8" cy="213.7" r="1.75"/>
<circle cx="212.4" cy="217.6" r="1.75"/>
<circle cx="214.8" cy="214.5" r="1.75"/>
<circle cx="215.1" cy="215.9" r="1.75"/>
<circle cx="214.8" cy="213.6" r="1.75"/>
<circle cx="213.4" cy="215.5" r="1.75"/>
<circle cx="214.7" cy="214.9" r="1.75"/>
<circle cx="214.3" cy="213.5" r="1.75"/>
<circle cx="214.4" cy="213.5" r="1.75"/>
<circle cx="214.7" cy="213.3" r="1.75"/>
<circle cx="214.9" cy="213.5" r="1.75"/>
<circle cx="215.6" cy="215.0" r="1.75"/>
<circle cx="215.8" cy="217.6" r="1.75"/>
<circle cx="215.4" cy="213.9" r="1.75"/>
<circle cx="217.5" cy="217.7" r="1.75"/>
<circle cx="216.5" cy="217.7" r="1.75"/>
<circle cx="215.2" cy="213.6" r="1.75"/>
<circle cx="214.3" cy="218.1" r="1.75"/>
<circle cx="216.1" cy="216.3" r="1.75"/>
<circle cx="217.2" cy="218.0" r="1.75"/>
<circle cx="214.5" cy="215.7" r="1.75"/>
<circle cx="214.9" cy="213.3" r="1.75"/>
<circle cx="233.5" cy="209.4" r="1.75"/>
<circle cx="233.0" cy="211.4" r="1.75"/>
<circle cx="234.0" cy="217.8" r="1.75"/>
<circle cx="233.9" cy="215.2" r="1.75"/>
<circle cx="233.4" cy="210.6" r="1.75"/>
<circle cx="234.0" cy="213.8" r="1.75"/>
<circle cx="233.4" cy="210.3" r="1.75"/>
<circle cx="233.8" cy="214.2" r="1.75"/>
<circle cx="233.6" cy="210.6" r="1.75"/>
<circle cx="233.7" cy="218.0" r="1.75"/>
<circle cx="233.5" cy="211.4" r="1.75"/>
<circle cx="234.0" cy="212.5" r="1.75"/>
<circle cx="232.3" cy="216.4" r="1.75"/>
<circle cx="232.8" cy="216.3" r="1.75"/>
<circle cx="233.2" cy="212.5" r="1.75"/>
<circle cx="233.2" cy="209.6" r="1.75"/>
<circle cx="232.6" cy="217.3" r="1.75"/>
<circle cx="233.7" cy="215.4" r="1.75"/>
<circle cx="233.7" cy="211.4" r="1.75"/>
<circle cx="233.1" cy="214.4" r="1.75"/>
<circle cx="233.4" cy="212.6" r="1.75"/>
<circle cx="234.1" cy="217.8" r="1.75"/>
<circle cx="233.0" cy="211.3" r="1.75"/>
<circle cx="234.3" cy="216.0" r="1.75"/>
<circle cx="233.2" cy="210.6" r="1.75"/>
<circle cx="233.7" cy="215.5" r="1.75"/>
<circle cx="233.2" cy="213.2" r="1.75"/>
<circle cx="233.5" cy="215.6" r="1.75"/>
<circle cx="233.3" cy="217.6" r="1.75"/>
<circle cx="233.7" cy="211.5" r="1.75"/>
<circle cx="233.7" cy="212.1" r="1.75"/>
<circle cx="233.3" cy="214.0" r="1.75"/>
<circle cx="233.7" cy="215.2" r="1.75"/>
<circle cx="233.6" cy="212.4" r="1.75"/>
<circle cx="232.8" cy="214.7" r="1.75"/>
<circle cx="233.7" cy="211.1" r="1.75"/>
<circle cx="233.9" cy="212.1" r="1.75"/>
<circle cx="234.3" cy="217.2" r="1.75"/>
<circle cx="233.7" cy="210.8" r="1.75"/>
<circle cx="234.1" cy="217.0" r="1.75"/>
<circle cx="233.7" cy="210.3" r="1.75"/>
<circle cx="233.2" cy="214.0" r="1.75"/>
<circle cx="234.2" cy="216.8" r="1.75"/>
<circle cx="232.6" cy="215.3" r="1.75"/>
<circle cx="234.0" cy="217.4" r="1.75"/>
<circle cx="233.6" cy="214.7" r="1.75"/>
<circle cx="233.6" cy="210.4" r="1.75"/>
<circle cx="233.8" cy="212.7" r="1.75"/>
<circle cx="233.4" cy="214.3" r="1.75"/>
<circle cx="233.5" cy="214.2" r="1.75"/>
<circle cx="233.0" cy="216.1" r="1.75"/>
<circle cx="232.3" cy="217.4" r="1.75"/>
<circle cx="233.5" cy="213.2" r="1.75"/>
<circle cx="232.9" cy="211.4" r="1.75"/>
<circle cx="233.6" cy="215.1" r="1.75"/>
<circle cx="234.1" cy="216.2" r="1.75"/>
<circle cx="234.5" cy="215.6" r="1.75"/>
<circle cx="233.8" cy="214.1" r="1.75"/>
<circle cx="233.8" cy="210.1" r="1.75"/>
<circle cx="233.4" cy="211.5" r="1.75"/>
<circle cx="233.2" cy="211.3" r="1.75"/>
<circle cx="252.1" cy="209.7" r="1.75"/>
<circle cx="252.4" cy="210.4" r="1.75"/>
<circle cx="251.7" cy="213.6" r="1.75"/>
<circle cx="251.7" cy="209.7" r="1.75"/>
<circle cx="251.9" cy="210.4" r="1.75"/>
<circle cx="252.2" cy="213.2" r="1.75"/>
<circle cx="252.0" cy="211.2" r="1.75"/>
<circle cx="252.2" cy="211.4" r="1.75"/>
<circle cx="252.9" cy="217.7" r="1.75"/>
<circle cx="251.1" cy="216.8" r="1.75"/>
<circle cx="251.8" cy="213.5" r="1.75"/>
<circle cx="252.2" cy="211.9" r="1.75"/>
<circle cx="252.5" cy="217.3" r="1.75"/>
<circle cx="251.5" cy="218.6" r="1.75"/>
<circle cx="252.5" cy="210.6" r="1.75"/>
<circle cx="252.7" cy="216.8" r="1.75"/>
<circle cx="252.3" cy="217.2" r="1.75"/>
<circle cx="251.6" cy="214.4" r="1.75"/>
<circle cx="251.6" cy="210.9" r="1.75"/>
<circle cx="251.8" cy="213.8" r="1.75"/>
<circle cx="252.6" cy="211.4" r="1.75"/>
<circle cx="252.1" cy="210.1" r="1.75"/>
<circle cx="252.6" cy="216.3" r="1.75"/>
<circle cx="252.8" cy="214.7" r="1.75"/>
<circle cx="252.3" cy="213.1" r="1.75"/>
<circle cx="251.8" cy="210.0" r="1.75"/>
<circle cx="251.9" cy="210.4" r="1.75"/>
<circle cx="251.6" cy="209.9" r="1.75"/>
<circle cx="252.2" cy="211.8" r="1.75"/>
<circle cx="251.8" cy="212.7" r="1.75"/>
<circle cx="252.4" cy="214.9" r="1.75"/>
<circle cx="252.0" cy="213.9" r="1.75"/>
<circle cx="249.6" cy="216.3" r="1.75"/>
<circle cx="251.8" cy="210.3" r="1.75"/>
<circle cx="253.8" cy="218.6" r="1.75"/>
<circle cx="252.3" cy="210.2" r="1.75"/>
<circle cx="252.3" cy="216.8" r="1.75"/>
<circle cx="253.9" cy="218.0" r="1.75"/>
<circle cx="252.1" cy="213.3" r="1.75"/>
<circle cx="252.5" cy="209.8" r="1.75"/>
<circle cx="252.3" cy="215.0" r="1.75"/>
<circle cx="250.9" cy="215.9" r="1.75"/>
<circle cx="252.3" cy="215.3" r="1.75"/>
<circle cx="251.8" cy="215.8" r="1.75"/>
<circle cx="252.6" cy="215.7" r="1.75"/>
<circle cx="252.3" cy="210.9" r="1.75"/>
<circle cx="253.1" cy="218.4" r="1.75"/>
<circle cx="252.1" cy="214.2" r="1.75"/>
<circle cx="252.2" cy="209.9" r="1.75"/>
<circle cx="251.7" cy="216.1" r="1.75"/>
<circle cx="252.4" cy="216.7" r="1.75"/>
<circle cx="254.0" cy="216.4" r="1.75"/>
<circle cx="252.7" cy="215.9" r="1.75"/>
<circle cx="252.3" cy="211.5" r="1.75"/>
<circle cx="250.2" cy="218.4" r="1.75"/>
<circle cx="251.9" cy="212.6" r="1.75"/>
<circle cx="258.6" cy="217.9" r="1.75"/>
<circle cx="250.3" cy="218.0" r="1.75"/>
<circle cx="252.1" cy="212.5" r="1.75"/>
<circle cx="252.2" cy="210.6" r="1.75"/>
<circle cx="252.1" cy="211.3" r="1.75"/>
<circle cx="270.6" cy="209.9" r="1.75"/>
<circle cx="269.2" cy="216.7" r="1.75"/>
<circle cx="270.3" cy="210.6" r="1.75"/>
<circle cx="270.9" cy="212.1" r="1.75"/>
<circle cx="270.8" cy="210.6" r="1.75"/>
<circle cx="269.9" cy="216.0" r="1.75"/>
<circle cx="270.3" cy="212.3" r="1.75"/>
<circle cx="270.3" cy="213.4" r="1.75"/>
<circle cx="270.6" cy="214.4" r="1.75"/>
<circle cx="270.7" cy="215.2" r="1.75"/>
<circle cx="270.2" cy="211.9" r="1.75"/>
<circle cx="269.8" cy="216.3" r="1.75"/>
<circle cx="270.5" cy="214.9" r="1.75"/>
<circle cx="270.6" cy="213.8" r="1.75"/>
<circle cx="270.6" cy="212.8" r="1.75"/>
<circle cx="270.1" cy="215.7" r="1.75"/>
<circle cx="270.5" cy="215.0" r="1.75"/>
<circle cx="270.0" cy="211.9" r="1.75"/>
<circle cx="270.4" cy="214.9" r="1.75"/>
<circle cx="270.8" cy="215.5" r="1.75"/>
<circle cx="270.7" cy="214.9" r="1.75"/>
<circle cx="269.7" cy="218.2" r="1.75"/>
<circle cx="270.7" cy="210.1" r="1.75"/>
<circle cx="270.6" cy="217.5" r="1.75"/>
<circle cx="270.7" cy="212.1" r="1.75"/>
<circle cx="271.7" cy="216.5" r="1.75"/>
<circle cx="272.3" cy="217.5" r="1.75"/>
<circle cx="271.1" cy="216.5" r="1.75"/>
<circle cx="270.5" cy="214.8" r="1.75"/>
<circle cx="272.1" cy="216.3" r="1.75"/>
<circle cx="268.5" cy="217.9" r="1.75"/>
<circle cx="270.6" cy="210.9" r="1.75"/>
<circle cx="269.4" cy="217.1" r="1.75"/>
<circle cx="269.2" cy="216.5" r="1.75"/>
<circle cx="276.0" cy="218.7" r="1.75"/>
<circle cx="270.7" cy="215.4" r="1.75"/>
<circle cx="271.3" cy="217.7" r="1.75"/>
<circle cx="272.9" cy="218.3" r="1.75"/>
<circle cx="270.7" cy="212.8" r="1.75"/>
<circle cx="270.2" cy="212.5" r="1.75"/>
<circle cx="270.7" cy="216.1" r="1.75"/>
<circle cx="270.4" cy="216.6" r="1.75"/>
<circle cx="270.7" cy="215.7" r="1.75"/>
<circle cx="270.6" cy="215.3" r="1.75"/>
<circle cx="270.6" cy="212.7" r="1.75"/>
<circle cx="270.5" cy="212.9" r="1.75"/>
<circle cx="271.4" cy="215.2" r="1.75"/>
<circle cx="270.6" cy="214.0" r="1.75"/>
<circle cx="271.2" cy="216.9" r="1.75"/>
<circle cx="270.4" cy="213.6" r="1.75"/>
<circle cx="269.8" cy="215.2" r="1.75"/>
<circle cx="273.0" cy="218.3" r="1.75"/>
<circle cx="268.6" cy="218.5" r="1.75"/>
<circle cx="270.0" cy="216.4" r="1.75"/>
<circle cx="270.5" cy="212.9" r="1.75"/>
<circle cx="270.6" cy="212.6" r="1.75"/>
<circle cx="270.6" cy="212.2" r="1.75"/>
<circle cx="269.5" cy="215.7" r="1.75"/>
<circle cx="270.7" cy="211.5" r="1.75"/>
<circle cx="270.1" cy="211.0" r="1.75"/>
<circle cx="270.0" cy="216.8" r="1.75"/>
<circle cx="289.2" cy="211.3" r="1.75"/>
<circle cx="289.3" cy="212.5" r="1.75"/>
<circle cx="292.1" cy="218.4" r="1.75"/>
<circle cx="289.6" cy="212.3" r="1.75"/>
<circle cx="289.0" cy="211.5" r="1.75"/>
<circle cx="288.3" cy="215.2" r="1.75"/>
<circle cx="287.8" cy="215.8" r="1.75"/>
<circle cx="290.2" cy="218.7" r="1.75"/>
<circle cx="284.5" cy="217.9" r="1.75"/>
<circle cx="290.6" cy="216.9" r="1.75"/>
<circle cx="289.3" cy="215.1" r="1.75"/>
<circle cx="289.7" cy="216.1" r="1.75"/>
<circle cx="289.3" cy="211.7" r="1.75"/>
<circle cx="289.5" cy="215.4" r="1.75"/>
<circle cx="285.4" cy="218.6" r="1.75"/>
<circle cx="290.8" cy="218.4" r="1.75"/>
<circle cx="287.1" cy="217.0" r="1.75"/>
<circle cx="289.1" cy="214.0" r="1.75"/>
<circle cx="289.2" cy="216.9" r="1.75"/>
<circle cx="286.1" cy="218.5" r="1.75"/>
<circle cx="289.3" cy="214.0" r="1.75"/>
<circle cx="288.9" cy="218.2" r="1.75"/>
<circle cx="286.8" cy="216.7" r="1.75"/>
<circle cx="289.7" cy="217.3" r="1.75"/>
<circle cx="289.3" cy="213.9" r="1.75"/>
<circle cx="289.5" cy="212.7" r="1.75"/>
<circle cx="289.4" cy="211.8" r="1.75"/>
<circle cx="291.2" cy="217.4" r="1.75"/>
<circle cx="291.3" cy="218.7" r="1.75"/>
<circle cx="288.9" cy="215.1" r="1.75"/>
<circle cx="289.0" cy="213.7" r="1.75"/>
<circle cx="289.6" cy="213.1" r="1.75"/>
<circle cx="287.9" cy="217.0" r="1.75"/>
<circle cx="290.2" cy="216.0" r="1.75"/>
<circle cx="289.4" cy="212.8" r="1.75"/>
<circle cx="289.4" cy="211.6" r="1.75"/>
<circle cx="289.1" cy="215.9" r="1.75"/>
<circle cx="289.0" cy="214.3" r="1.75"/>
<circle cx="290.3" cy="217.8" r="1.75"/>
<circle cx="289.4" cy="212.5" r="1.75"/>
<circle cx="289.1" cy="213.3" r="1.75"/>
<circle cx="289.7" cy="213.1" r="1.75"/>
<circle cx="289.0" cy="217.0" r="1.75"/>
<circle cx="289.1" cy="214.7" r="1.75"/>
<circle cx="288.9" cy="213.9" r="1.75"/>
<circle cx="289.3" cy="213.6" r="1.75"/>
<circle cx="288.7" cy="215.3" r="1.75"/>
<circle cx="289.5" cy="217.6" r="1.75"/>
<circle cx="290.5" cy="217.3" r="1.75"/>
<circle cx="289.9" cy="215.2" r="1.75"/>
<circle cx="289.1" cy="212.6" r="1.75"/>
<circle cx="290.1" cy="217.0" r="1.75"/>
<circle cx="289.1" cy="211.7" r="1.75"/>
<circle cx="289.7" cy="214.2" r="1.75"/>
<circle cx="287.3" cy="217.2" r="1.75"/>
<circle cx="288.4" cy="216.0" r="1.75"/>
<circle cx="289.8" cy="216.2" r="1.75"/>
<circle cx="288.4" cy="216.6" r="1.75"/>
<circle cx="288.2" cy="216.4" r="1.75"/>
<circle cx="289.1" cy="212.8" r="1.75"/>
<circle cx="289.4" cy="211.5" r="1.75"/>
<circle cx="307.8" cy="211.9" r="1.75"/>
<circle cx="307.8" cy="218.5" r="1.75"/>
<circle cx="308.7" cy="216.6" r="1.75"/>
<circle cx="307.5" cy="212.2" r="1.75"/>
<circle cx="308.6" cy="218.5" r="1.75"/>
<circle cx="307.5" cy="214.1" r="1.75"/>
<circle cx="307.9" cy="217.4" r="1.75"/>
<circle cx="307.7" cy="213.3" r="1.75"/>
<circle cx="305.3" cy="218.5" r="1.75"/>
<circle cx="308.0" cy="215.1" r="1.75"/>
<circle cx="307.9" cy="214.3" r="1.75"/>
<circle cx="307.7" cy="216.1" r="1.75"/>
<circle cx="308.6" cy="213.1" r="1.75"/>
<circle cx="307.9" cy="212.9" r="1.75"/>
<circle cx="307.2" cy="215.2" r="1.75"/>
<circle cx="307.1" cy="216.2" r="1.75"/>
<circle cx="312.0" cy="218.3" r="1.75"/>
<circle cx="307.3" cy="215.1" r="1.75"/>
<circle cx="308.4" cy="214.8" r="1.75"/>
<circle cx="307.8" cy="212.1" r="1.75"/>
<circle cx="307.4" cy="212.9" r="1.75"/>
<circle cx="306.8" cy="215.8" r="1.75"/>
<circle cx="307.9" cy="213.2" r="1.75"/>
<circle cx="307.9" cy="214.5" r="1.75"/>
<circle cx="307.9" cy="214.4" r="1.75"/>
<circle cx="308.0" cy="216.8" r="1.75"/>
<circle cx="307.6" cy="213.8" r="1.75"/>
<circle cx="306.0" cy="216.9" r="1.75"/>
<circle cx="308.7" cy="216.2" r="1.75"/>
<circle cx="307.6" cy="215.5" r="1.75"/>
<circle cx="307.9" cy="213.8" r="1.75"/>
<circle cx="307.7" cy="213.6" r="1.75"/>
<circle cx="307.7" cy="213.3" r="1.75"/>
<circle cx="308.4" cy="217.0" r="1.75"/>
<circle cx="305.9" cy="217.7" r="1.75"/>
<circle cx="309.2" cy="217.0" r="1.75"/>
<circle cx="309.1" cy="216.8" r="1.75"/>
<circle cx="307.8" cy="212.5" r="1.75"/>
<circle cx="307.4" cy="213.2" r="1.75"/>
<circle cx="305.8" cy="217.4" r="1.75"/>
<circle cx="307.7" cy="216.4" r="1.75"/>
<circle cx="307.4" cy="214.2" r="1.75"/>
<circle cx="310.4" cy="217.1" r="1.75"/>
<circle cx="308.1" cy="212.9" r="1.75"/>
<circle cx="307.4" cy="217.3" r="1.75"/>
<circle cx="308.3" cy="212.6" r="1.75"/>
<circle cx="308.3" cy="213.7" r="1.75"/>
<circle cx="310.5" cy="218.0" r="1.75"/>
<circle cx="307.6" cy="215.0" r="1.75"/>
<circle cx="306.8" cy="215.5" r="1.75"/>
<circle cx="308.0" cy="213.6" r="1.75"/>
<circle cx="307.8" cy="214.2" r="1.75"/>
<circle cx="308.7" cy="218.1" r="1.75"/>
<circle cx="307.8" cy="212.0" r="1.75"/>
<circle cx="307.1" cy="215.5" r="1.75"/>
<circle cx="307.6" cy="217.8" r="1.75"/>
<circle cx="308.0" cy="216.8" r="1.75"/>
<circle cx="306.1" cy="215.7" r="1.75"/>
<circle cx="310.6" cy="217.5" r="1.75"/>
<circle cx="307.9" cy="213.7" r="1.75"/>
<circle cx="307.9" cy="216.2" r="1.75"/>
<circle cx="326.4" cy="212.2" r="1.75"/>
<circle cx="324.7" cy="218.3" r="1.75"/>
<circle cx="326.0" cy="218.2" r="1.75"/>
<circle cx="328.8" cy="217.2" r="1.75"/>
<circle cx="326.1" cy="213.6" r="1.75"/>
<circle cx="327.0" cy="216.4" r="1.75"/>
<circle cx="327.6" cy="217.6" r="1.75"/>
<circle cx="325.9" cy="214.8" r="1.75"/>
<circle cx="325.7" cy="218.2" r="1.75"/>
<circle cx="326.7" cy="212.4" r="1.75"/>
<circle cx="326.8" cy="215.6" r="1.75"/>
<circle cx="326.2" cy="213.9" r="1.75"/>
<circle cx="326.3" cy="214.5" r="1.75"/>
<circle cx="326.2" cy="213.4" r="1.75"/>
<circle cx="326.3" cy="215.9" r="1.75"/>
<circle cx="326.0" cy="215.6" r="1.75"/>
<circle cx="323.6" cy="217.7" r="1.75"/>
<circle cx="327.7" cy="217.1" r="1.75"/>
<circle cx="327.5" cy="216.5" r="1.75"/>
<circle cx="327.0" cy="217.8" r="1.75"/>
<circle cx="326.6" cy="214.4" r="1.75"/>
<circle cx="326.4" cy="212.7" r="1.75"/>
<circle cx="326.9" cy="215.1" r="1.75"/>
<circle cx="326.3" cy="214.9" r="1.75"/>
<circle cx="326.3" cy="213.8" r="1.75"/>
<circle cx="327.3" cy="217.1" r="1.75"/>
<circle cx="327.0" cy="218.7" r="1.75"/>
<circle cx="328.9" cy="217.3" r="1.75"/>
<circle cx="326.3" cy="212.8" r="1.75"/>
<circle cx="327.2" cy="216.3" r="1.75"/>
<circle cx="326.0" cy="216.4" r="1.75"/>
<circle cx="327.0" cy="216.9" r="1.75"/>
<circle cx="325.9" cy="212.9" r="1.75"/>
<circle cx="321.2" cy="218.3" r="1.75"/>
<circle cx="326.7" cy="216.8" r="1.75"/>
<circle cx="326.6" cy="214.0" r="1.75"/>
<circle cx="325.8" cy="216.5" r="1.75"/>
<circle cx="326.0" cy="216.8" r="1.75"/>
<circle cx="327.8" cy="215.4" r="1.75"/>
<circle cx="325.9" cy="216.8" r="1.75"/>
<circle cx="325.9" cy="213.6" r="1.75"/>
<circle cx="325.1" cy="216.3" r="1.75"/>
<circle cx="324.0" cy="216.0" r="1.75"/>
<circle cx="326.7" cy="215.3" r="1.75"/>
<circle cx="329.2" cy="218.4" r="1.75"/>
<circle cx="326.2" cy="212.8" r="1.75"/>
<circle cx="326.6" cy="215.7" r="1.75"/>
<circle cx="326.5" cy="216.9" r="1.75"/>
<circle cx="327.3" cy="216.9" r="1.75"/>
<circle cx="326.3" cy="213.9" r="1.75"/>
<circle cx="326.4" cy="213.5" r="1.75"/>
<circle cx="327.6" cy="217.7" r="1.75"/>
<circle cx="326.4" cy="212.6" r="1.75"/>
<circle cx="327.3" cy="215.8" r="1.75"/>
<circle cx="326.7" cy="216.4" r="1.75"/>
<circle cx="330.5" cy="218.5" r="1.75"/>
<circle cx="325.9" cy="213.7" r="1.75"/>
<circle cx="326.2" cy="213.3" r="1.75"/>
<circle cx="326.1" cy="214.8" r="1.75"/>
<circle cx="325.8" cy="212.8" r="1.75"/>
<circle cx="326.5" cy="214.4" r="1.75"/>
<circle cx="344.9" cy="212.4" r="1.75"/>
<circle cx="345.7" cy="217.7" r="1.75"/>
<circle cx="345.1" cy="214.1" r="1.75"/>
<circle cx="346.8" cy="218.3" r="1.75"/>
<circle cx="344.4" cy="215.7" r="1.75"/>
<circle cx="345.1" cy="213.8" r="1.75"/>
<circle cx="344.7" cy="212.7" r="1.75"/>
<circle cx="347.8" cy="218.2" r="1.75"/>
<circle cx="345.1" cy="213.9" r="1.75"/>
<circle cx="344.9" cy="215.2" r="1.75"/>
<circle cx="344.6" cy="215.0" r="1.75"/>
<circle cx="344.7" cy="215.2" r="1.75"/>
<circle cx="345.4" cy="216.6" r="1.75"/>
<circle cx="345.0" cy="214.8" r="1.75"/>
<circle cx="346.3" cy="216.4" r="1.75"/>
<circle cx="344.1" cy="217.3" r="1.75"/>
<circle cx="346.4" cy="217.7" r="1.75"/>
<circle cx="345.6" cy="218.1" r="1.75"/>
<circle cx="344.9" cy="213.3" r="1.75"/>
<circle cx="344.6" cy="216.4" r="1.75"/>
<circle cx="342.0" cy="217.2" r="1.75"/>
<circle cx="346.5" cy="217.4" r="1.75"/>
<circle cx="343.7" cy="218.2" r="1.75"/>
<circle cx="343.9" cy="216.0" r="1.75"/>
<circle cx="344.2" cy="216.4" r="1.75"/>
<circle cx="344.8" cy="213.9" r="1.75"/>
<circle cx="344.6" cy="213.9" r="1.75"/>
<circle cx="343.8" cy="216.3" r="1.75"/>
<circle cx="344.7" cy="215.4" r="1.75"/>
<circle cx="346.6" cy="218.6" r="1.75"/>
<circle cx="345.3" cy="215.5" r="1.75"/>
<circle cx="343.4" cy="217.9" r="1.75"/>
<circle cx="344.7" cy="212.7" r="1.75"/>
<circle cx="345.0" cy="212.9" r="1.75"/>
<circle cx="346.4" cy="216.8" r="1.75"/>
<circle cx="345.8" cy="215.5" r="1.75"/>
<circle cx="345.5" cy="216.3" r="1.75"/>
<circle cx="346.4" cy="217.7" r="1.75"/>
<circle cx="345.5" cy="217.7" r="1.75"/>
<circle cx="344.5" cy="215.1" r="1.75"/>
<circle cx="345.8" cy="216.9" r="1.75"/>
<circle cx="343.0" cy="217.0" r="1.75"/>
<circle cx="345.0" cy="214.2" r="1.75"/>
<circle cx="344.6" cy="212.6" r="1.75"/>
<circle cx="344.9" cy="214.3" r="1.75"/>
<circle cx="344.6" cy="214.6" r="1.75"/>
<circle cx="346.2" cy="218.3" r="1.75"/>
<circle cx="344.6" cy="212.8" r="1.75"/>
<circle cx="347.7" cy="217.7" r="1.75"/>
<circle cx="344.1" cy="216.0" r="1.75"/>
<circle cx="347.8" cy="217.1" r="1.75"/>
<circle cx="343.6" cy="218.0" r="1.75"/>
<circle cx="341.6" cy="218.1" r="1.75"/>
<circle cx="344.7" cy="212.9" r="1.75"/>
<circle cx="345.0" cy="214.3" r="1.75"/>
<circle cx="345.6" cy="215.6" r="1.75"/>
<circle cx="345.0" cy="214.3" r="1.75"/>
<circle cx="344.9" cy="213.5" r="1.75"/>
<circle cx="345.1" cy="215.0" r="1.75"/>
<circle cx="344.6" cy="212.9" r="1.75"/>
<circle cx="346.7" cy="217.8" r="1.75"/>
<circle cx="363.5" cy="212.7" r="1.75"/>
<circle cx="364.0" cy="214.4" r="1.75"/>
<circle cx="364.3" cy="215.6" r="1.75"/>
<circle cx="360.6" cy="217.6" r="1.75"/>
<circle cx="362.8" cy="216.6" r="1.75"/>
<circle cx="363.2" cy="213.0" r="1.75"/>
<circle cx="362.4" cy="215.1" r="1.75"/>
<circle cx="363.4" cy="213.4" r="1.75"/>
<circle cx="363.3" cy="215.9" r="1.75"/>
<circle cx="363.9" cy="216.9" r="1.75"/>
<circle cx="363.2" cy="213.0" r="1.75"/>
<circle cx="361.9" cy="217.2" r="1.75"/>
<circle cx="363.5" cy="216.9" r="1.75"/>
<circle cx="363.6" cy="214.7" r="1.75"/>
<circle cx="363.4" cy="213.4" r="1.75"/>
<circle cx="364.2" cy="215.9" r="1.75"/>
<circle cx="363.5" cy="213.2" r="1.75"/>
<circle cx="363.5" cy="213.9" r="1.75"/>
<circle cx="363.8" cy="213.7" r="1.75"/>
<circle cx="364.0" cy="214.1" r="1.75"/>
<circle cx="364.3" cy="215.5" r="1.75"/>
<circle cx="362.9" cy="213.2" r="1.75"/>
<circle cx="362.2" cy="215.1" r="1.75"/>
<circle cx="363.3" cy="216.0" r="1.75"/>
<circle cx="363.4" cy="213.8" r="1.75"/>
<circle cx="363.6" cy="214.9" r="1.75"/>
<circle cx="363.6" cy="213.4" r="1.75"/>
<circle cx="363.0" cy="216.5" r="1.75"/>
<circle cx="363.4" cy="215.9" r="1.75"/>
<circle cx="363.5" cy="213.3" r="1.75"/>
<circle cx="362.7" cy="215.2" r="1.75"/>
<circle cx="361.5" cy="217.1" r="1.75"/>
<circle cx="363.6" cy="215.3" r="1.75"/>
<circle cx="363.4" cy="217.0" r="1.75"/>
<circle cx="363.6" cy="212.9" r="1.75"/>
<circle cx="361.7" cy="217.5" r="1.75"/>
<circle cx="363.8" cy="215.1" r="1.75"/>
<circle cx="363.4" cy="215.6" r="1.75"/>
<circle cx="363.2" cy="212.9" r="1.75"/>
<circle cx="363.0" cy="217.0" r="1.75"/>
<circle cx="363.1" cy="214.4" r="1.75"/>
<circle cx="363.2" cy="213.8" r="1.75"/>
<circle cx="363.1" cy="216.0" r="1.75"/>
<circle cx="362.3" cy="217.1" r="1.75"/>
<circle cx="359.9" cy="218.6" r="1.75"/>
<circle cx="364.3" cy="216.0" r="1.75"/>
<circle cx="362.8" cy="217.3" r="1.75"/>
<circle cx="362.7" cy="214.9" r="1.75"/>
<circle cx="364.1" cy="214.7" r="1.75"/>
<circle cx="362.7" cy="215.6" r="1.75"/>
<circle cx="361.8" cy="216.9" r="1.75"/>
<circle cx="363.7" cy="214.7" r="1.75"/>
<circle cx="112.7" cy="218.1" r="1.75"/>
<circle cx="113.1" cy="213.9" r="1.75"/>
<circle cx="111.6" cy="217.0" r="1.75"/>
<circle cx="112.6" cy="213.9" r="1.75"/>
<circle cx="112.2" cy="214.4" r="1.75"/>
<circle cx="112.5" cy="213.4" r="1.75"/>
<circle cx="112.1" cy="216.0" r="1.75"/>
<circle cx="113.1" cy="214.4" r="1.75"/>
<circle cx="112.5" cy="214.5" r="1.75"/>
<circle cx="113.4" cy="214.8" r="1.75"/>
<circle cx="132.4" cy="218.6" r="1.75"/>
<circle cx="132.4" cy="218.4" r="1.75"/>
<circle cx="130.0" cy="218.0" r="1.75"/>
<circle cx="131.7" cy="217.5" r="1.75"/>
<circle cx="131.5" cy="216.4" r="1.75"/>
<circle cx="131.4" cy="217.4" r="1.75"/>
<circle cx="132.4" cy="215.9" r="1.75"/>
<circle cx="132.2" cy="217.8" r="1.75"/>
<circle cx="131.1" cy="218.7" r="1.75"/>
<circle cx="131.6" cy="216.1" r="1.75"/>
<circle cx="149.9" cy="216.7" r="1.75"/>
<circle cx="148.7" cy="218.4" r="1.75"/>
<circle cx="150.4" cy="218.4" r="1.75"/>
<circle cx="150.4" cy="217.5" r="1.75"/>
<circle cx="148.7" cy="217.1" r="1.75"/>
<circle cx="150.3" cy="218.0" r="1.75"/>
<circle cx="149.5" cy="217.7" r="1.75"/>
<circle cx="149.8" cy="216.8" r="1.75"/>
<circle cx="149.9" cy="216.9" r="1.75"/>
<circle cx="149.3" cy="216.7" r="1.75"/>
<circle cx="168.2" cy="216.6" r="1.75"/>
<circle cx="168.9" cy="216.7" r="1.75"/>
<circle cx="169.2" cy="216.4" r="1.75"/>
<circle cx="168.7" cy="218.1" r="1.75"/>
<circle cx="169.1" cy="218.2" r="1.75"/>
<circle cx="168.4" cy="217.0" r="1.75"/>
<circle cx="169.8" cy="218.6" r="1.75"/>
<circle cx="168.3" cy="218.8" r="1.75"/>
<circle cx="169.0" cy="217.5" r="1.75"/>
<circle cx="168.0" cy="217.6" r="1.75"/>
<circle cx="187.5" cy="218.2" r="1.75"/>
<circle cx="187.0" cy="217.3" r="1.75"/>
<circle cx="187.8" cy="216.8" r="1.75"/>
<circle cx="186.9" cy="218.0" r="1.75"/>
<circle cx="187.9" cy="217.7" r="1.75"/>
<circle cx="187.3" cy="217.3" r="1.75"/>
<circle cx="186.6" cy="217.5" r="1.75"/>
<circle cx="187.2" cy="218.6" r="1.75"/>
<circle cx="187.4" cy="217.9" r="1.75"/>
<circle cx="186.8" cy="217.5" r="1.75"/>
<circle cx="204.3" cy="216.6" r="1.75"/>
<circle cx="205.8" cy="217.2" r="1.75"/>
<circle cx="205.3" cy="216.6" r="1.75"/>
<circle cx="206.0" cy="217.1" r="1.75"/>
<circle cx="205.3" cy="216.8" r="1.75"/>
<circle cx="205.6" cy="217.8" r="1.75"/>
<circle cx="205.7" cy="216.7" r="1.75"/>
<circle cx="205.7" cy="218.5" r="1.75"/>
<circle cx="206.0" cy="218.1" r="1.75"/>
<circle cx="205.4" cy="216.6" r="1.75"/>
<circle cx="224.0" cy="216.4" r="1.75"/>
<circle cx="223.3" cy="217.3" r="1.75"/>
<circle cx="225.2" cy="217.5" r="1.75"/>
<circle cx="223.5" cy="218.5" r="1.75"/>
<circle cx="223.9" cy="216.4" r="1.75"/>
<circle cx="224.3" cy="217.8" r="1.75"/>
<circle cx="224.7" cy="216.9" r="1.75"/>
<circle cx="223.2" cy="217.7" r="1.75"/>
<circle cx="224.3" cy="218.5" r="1.75"/>
<circle cx="224.2" cy="216.9" r="1.75"/>
<circle cx="242.2" cy="218.4" r="1.75"/>
<circle cx="243.2" cy="216.8" r="1.75"/>
<circle cx="243.0" cy="217.3" r="1.75"/>
<circle cx="242.2" cy="216.4" r="1.75"/>
<circle cx="243.2" cy="218.0" r="1.75"/>
<circle cx="242.1" cy="216.6" r="1.75"/>
<circle cx="242.4" cy="218.0" r="1.75"/>
<circle cx="243.0" cy="217.3" r="1.75"/>
<circle cx="242.6" cy="218.1" r="1.75"/>
<circle cx="243.1" cy="217.3" r="1.75"/>
<circle cx="260.7" cy="217.0" r="1.75"/>
<circle cx="261.2" cy="217.4" r="1.75"/>
<circle cx="262.5" cy="218.5" r="1.75"/>
<circle cx="261.4" cy="216.3" r="1.75"/>
<circle cx="261.8" cy="217.4" r="1.75"/>
<circle cx="261.7" cy="217.3" r="1.75"/>
<circle cx="259.9" cy="218.7" r="1.75"/>
<circle cx="260.8" cy="216.4" r="1.75"/>
<circle cx="261.6" cy="218.4" r="1.75"/>
<circle cx="260.9" cy="216.6" r="1.75"/>
<circle cx="279.3" cy="218.7" r="1.75"/>
<circle cx="280.2" cy="218.7" r="1.75"/>
<circle cx="279.0" cy="218.7" r="1.75"/>
<circle cx="279.2" cy="218.4" r="1.75"/>
<circle cx="280.4" cy="217.7" r="1.75"/>
<circle cx="280.0" cy="217.2" r="1.75"/>
<circle cx="280.3" cy="218.3" r="1.75"/>
<circle cx="280.2" cy="218.1" r="1.75"/>
<circle cx="279.2" cy="217.1" r="1.75"/>
<circle cx="278.7" cy="217.7" r="1.75"/>
<circle cx="299.7" cy="217.8" r="1.75"/>
<circle cx="299.2" cy="216.9" r="1.75"/>
<circle cx="298.6" cy="218.0" r="1.75"/>
<circle cx="298.0" cy="218.4" r="1.75"/>
<circle cx="299.5" cy="218.6" r="1.75"/>
<circle cx="297.7" cy="218.4" r="1.75"/>
<circle cx="297.7" cy="218.5" r="1.75"/>
<circle cx="299.8" cy="218.1" r="1.75"/>
<circle cx="298.2" cy="218.2" r="1.75"/>
<circle cx="298.0" cy="218.2" r="1.75"/>
<circle cx="315.7" cy="216.4" r="1.75"/>
<circle cx="317.1" cy="216.4" r="1.75"/>
<circle cx="316.5" cy="216.7" r="1.75"/>
<circle cx="316.8" cy="218.8" r="1.75"/>
<circle cx="317.8" cy="217.0" r="1.75"/>
<circle cx="316.4" cy="216.8" r="1.75"/>
<circle cx="316.9" cy="218.2" r="1.75"/>
<circle cx="316.9" cy="218.5" r="1.75"/>
<circle cx="316.7" cy="218.1" r="1.75"/>
<circle cx="317.9" cy="216.9" r="1.75"/>
<circle cx="335.9" cy="216.3" r="1.75"/>
<circle cx="335.5" cy="216.5" r="1.75"/>
<circle cx="335.9" cy="218.4" r="1.75"/>
<circle cx="336.2" cy="218.4" r="1.75"/>
<circle cx="335.4" cy="217.6" r="1.75"/>
<circle cx="334.7" cy="217.5" r="1.75"/>
<circle cx="336.4" cy="218.3" r="1.75"/>
<circle cx="334.9" cy="218.2" r="1.75"/>
<circle cx="335.4" cy="217.0" r="1.75"/>
<circle cx="335.2" cy="218.3" r="1.75"/>
<circle cx="354.1" cy="216.9" r="1.75"/>
<circle cx="354.5" cy="218.7" r="1.75"/>
<circle cx="354.3" cy="218.3" r="1.75"/>
<circle cx="353.2" cy="217.9" r="1.75"/>
<circle cx="353.1" cy="218.3" r="1.75"/>
<circle cx="353.9" cy="216.9" r="1.75"/>
<circle cx="354.2" cy="216.6" r="1.75"/>
<circle cx="354.4" cy="217.3" r="1.75"/>
<circle cx="354.0" cy="217.4" r="1.75"/>
<circle cx="354.1" cy="218.3" r="1.75"/>
</g>
<rect x="84.90" y="163.40" width="278.60" height="55.40" fill="none" stroke="#000" stroke-width="1.15"/>
<line x1="79.40" y1="218.80" x2="84.40" y2="218.80" stroke="#000" stroke-width="1.10"/>
<text x="74.90" y="222.05" font-size="8.9" text-anchor="end" fill="#000" >0</text>
<line x1="79.40" y1="191.10" x2="84.40" y2="191.10" stroke="#000" stroke-width="1.10"/>
<text x="74.90" y="194.35" font-size="8.9" text-anchor="end" fill="#000" >10</text>
<line x1="79.40" y1="163.40" x2="84.40" y2="163.40" stroke="#000" stroke-width="1.10"/>
<text x="74.90" y="166.65" font-size="8.9" text-anchor="end" fill="#000" >20</text>
<line x1="84.90" y1="219.30" x2="84.90" y2="223.70" stroke="#000" stroke-width="1.10"/>
<text x="84.90" y="235.60" font-size="8.9" text-anchor="middle" fill="#000" >0</text>
<line x1="122.05" y1="219.30" x2="122.05" y2="223.70" stroke="#000" stroke-width="1.10"/>
<text x="122.05" y="235.60" font-size="8.9" text-anchor="middle" fill="#000" >2</text>
<line x1="159.19" y1="219.30" x2="159.19" y2="223.70" stroke="#000" stroke-width="1.10"/>
<text x="159.19" y="235.60" font-size="8.9" text-anchor="middle" fill="#000" >4</text>
<line x1="196.34" y1="219.30" x2="196.34" y2="223.70" stroke="#000" stroke-width="1.10"/>
<text x="196.34" y="235.60" font-size="8.9" text-anchor="middle" fill="#000" >6</text>
<line x1="233.49" y1="219.30" x2="233.49" y2="223.70" stroke="#000" stroke-width="1.10"/>
<text x="233.49" y="235.60" font-size="8.9" text-anchor="middle" fill="#000" >8</text>
<line x1="270.63" y1="219.30" x2="270.63" y2="223.70" stroke="#000" stroke-width="1.10"/>
<text x="270.63" y="235.60" font-size="8.9" text-anchor="middle" fill="#000" >10</text>
<line x1="307.78" y1="219.30" x2="307.78" y2="223.70" stroke="#000" stroke-width="1.10"/>
<text x="307.78" y="235.60" font-size="8.9" text-anchor="middle" fill="#000" >12</text>
<line x1="344.93" y1="219.30" x2="344.93" y2="223.70" stroke="#000" stroke-width="1.10"/>
<text x="344.93" y="235.60" font-size="8.9" text-anchor="middle" fill="#000" >14</text>
<text transform="translate(55.00 191.60) rotate(-90)" font-size="10.1" text-anchor="middle" fill="#000">δ<tspan font-style="italic">V</tspan><tspan font-size="7.6" dy="2.3">c</tspan><tspan dy="-2.3"> (mV)</tspan></text>
<text x="206.60" y="248.10" font-size="10.1" text-anchor="start" fill="#000" ><tspan font-style="italic">f</tspan><tspan font-size="7.6" dy="2.3">r</tspan><tspan dy="-2.3"><tspan dx="2.0"> / </tspan></tspan><tspan font-style="italic" dx="1.6">f</tspan><tspan font-size="7.6" dy="2.3">bb</tspan><tspan dy="-2.3"></tspan></text>
</svg>
</body></html>
